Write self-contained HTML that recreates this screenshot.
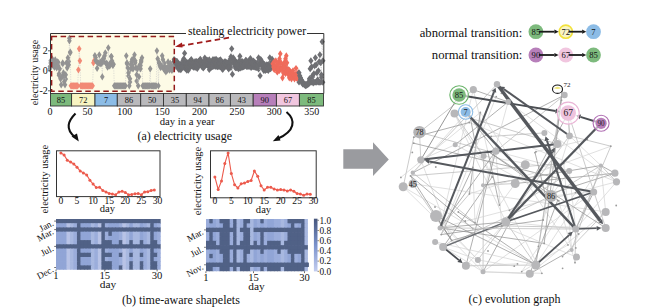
<!DOCTYPE html>
<html><head><meta charset="utf-8"><style>
html,body{margin:0;padding:0;background:#fff;}
svg{display:block;}
text{font-family:"Liberation Serif",serif;}
</style></head><body>
<svg width="646" height="308" viewBox="0 0 646 308">
<rect width="646" height="308" fill="#fff"/>
<rect x="50.8" y="34" width="123.5" height="58.5" fill="#fdfbe6"/>
<path d="M174.1,55.9L176.6,59.2L174.1,62.5L171.6,59.2Z" fill="#6e6f73"/>
<path d="M174.1,61.8L176.6,65.1L174.1,68.4L171.6,65.1Z" fill="#6e6f73"/>
<path d="M174.9,58.2L177.4,61.5L174.9,64.8L172.4,61.5Z" fill="#6e6f73"/>
<path d="M174.9,61.1L177.4,64.4L174.9,67.7L172.4,64.4Z" fill="#6e6f73"/>
<path d="M175.6,57.5L178.1,60.8L175.6,64.1L173.1,60.8Z" fill="#6e6f73"/>
<path d="M175.6,62.5L178.1,65.8L175.6,69.1L173.1,65.8Z" fill="#6e6f73"/>
<path d="M176.4,58.0L178.9,61.3L176.4,64.6L173.9,61.3Z" fill="#6e6f73"/>
<path d="M176.4,63.0L178.9,66.3L176.4,69.6L173.9,66.3Z" fill="#6e6f73"/>
<path d="M177.1,57.9L179.6,61.2L177.1,64.5L174.6,61.2Z" fill="#6e6f73"/>
<path d="M177.1,63.0L179.6,66.3L177.1,69.6L174.6,66.3Z" fill="#6e6f73"/>
<path d="M177.9,60.8L180.4,64.1L177.9,67.4L175.4,64.1Z" fill="#6e6f73"/>
<path d="M177.9,63.6L180.4,66.9L177.9,70.2L175.4,66.9Z" fill="#6e6f73"/>
<path d="M178.6,60.4L181.1,63.7L178.6,67.0L176.1,63.7Z" fill="#6e6f73"/>
<path d="M178.6,66.2L181.1,69.5L178.6,72.8L176.1,69.5Z" fill="#6e6f73"/>
<path d="M179.4,61.7L181.9,65.0L179.4,68.3L176.9,65.0Z" fill="#6e6f73"/>
<path d="M179.4,66.2L181.9,69.5L179.4,72.8L176.9,69.5Z" fill="#6e6f73"/>
<path d="M180.1,60.6L182.6,63.9L180.1,67.2L177.6,63.9Z" fill="#6e6f73"/>
<path d="M180.1,64.7L182.6,68.0L180.1,71.3L177.6,68.0Z" fill="#6e6f73"/>
<path d="M180.8,62.8L183.3,66.1L180.8,69.4L178.3,66.1Z" fill="#6e6f73"/>
<path d="M180.8,66.7L183.3,70.0L180.8,73.3L178.3,70.0Z" fill="#6e6f73"/>
<path d="M181.6,61.4L184.1,64.7L181.6,68.0L179.1,64.7Z" fill="#6e6f73"/>
<path d="M181.6,64.7L184.1,68.0L181.6,71.3L179.1,68.0Z" fill="#6e6f73"/>
<path d="M182.3,60.8L184.8,64.1L182.3,67.4L179.8,64.1Z" fill="#6e6f73"/>
<path d="M182.3,63.4L184.8,66.7L182.3,70.0L179.8,66.7Z" fill="#6e6f73"/>
<path d="M183.1,56.9L185.6,60.2L183.1,63.5L180.6,60.2Z" fill="#6e6f73"/>
<path d="M183.1,62.3L185.6,65.6L183.1,68.9L180.6,65.6Z" fill="#6e6f73"/>
<path d="M183.8,58.6L186.3,61.9L183.8,65.2L181.3,61.9Z" fill="#6e6f73"/>
<path d="M183.8,64.1L186.3,67.4L183.8,70.7L181.3,67.4Z" fill="#6e6f73"/>
<path d="M184.6,57.6L187.1,60.9L184.6,64.2L182.1,60.9Z" fill="#6e6f73"/>
<path d="M184.6,62.2L187.1,65.5L184.6,68.8L182.1,65.5Z" fill="#6e6f73"/>
<path d="M185.3,57.7L187.8,61.0L185.3,64.3L182.8,61.0Z" fill="#6e6f73"/>
<path d="M185.3,65.5L187.8,68.8L185.3,72.1L182.8,68.8Z" fill="#6e6f73"/>
<path d="M186.1,58.8L188.6,62.1L186.1,65.4L183.6,62.1Z" fill="#6e6f73"/>
<path d="M186.1,64.8L188.6,68.1L186.1,71.4L183.6,68.1Z" fill="#6e6f73"/>
<path d="M186.8,61.8L189.3,65.1L186.8,68.4L184.3,65.1Z" fill="#6e6f73"/>
<path d="M186.8,67.1L189.3,70.4L186.8,73.7L184.3,70.4Z" fill="#6e6f73"/>
<path d="M187.6,59.2L190.1,62.5L187.6,65.8L185.1,62.5Z" fill="#6e6f73"/>
<path d="M187.6,63.7L190.1,67.0L187.6,70.3L185.1,67.0Z" fill="#6e6f73"/>
<path d="M188.3,61.7L190.8,65.0L188.3,68.3L185.8,65.0Z" fill="#6e6f73"/>
<path d="M188.3,67.2L190.8,70.5L188.3,73.8L185.8,70.5Z" fill="#6e6f73"/>
<path d="M189.1,58.8L191.6,62.1L189.1,65.4L186.6,62.1Z" fill="#6e6f73"/>
<path d="M189.1,64.1L191.6,67.4L189.1,70.7L186.6,67.4Z" fill="#6e6f73"/>
<path d="M189.8,58.0L192.3,61.3L189.8,64.6L187.3,61.3Z" fill="#6e6f73"/>
<path d="M189.8,64.5L192.3,67.8L189.8,71.1L187.3,67.8Z" fill="#6e6f73"/>
<path d="M190.6,57.4L193.1,60.7L190.6,64.0L188.1,60.7Z" fill="#6e6f73"/>
<path d="M190.6,62.8L193.1,66.1L190.6,69.4L188.1,66.1Z" fill="#6e6f73"/>
<path d="M191.3,55.9L193.8,59.2L191.3,62.5L188.8,59.2Z" fill="#6e6f73"/>
<path d="M191.3,62.8L193.8,66.1L191.3,69.4L188.8,66.1Z" fill="#6e6f73"/>
<path d="M192.1,59.6L194.6,62.9L192.1,66.2L189.6,62.9Z" fill="#6e6f73"/>
<path d="M192.1,62.9L194.6,66.2L192.1,69.5L189.6,66.2Z" fill="#6e6f73"/>
<path d="M192.8,58.8L195.3,62.1L192.8,65.4L190.3,62.1Z" fill="#6e6f73"/>
<path d="M192.8,63.1L195.3,66.4L192.8,69.7L190.3,66.4Z" fill="#6e6f73"/>
<path d="M193.6,59.3L196.1,62.6L193.6,65.9L191.1,62.6Z" fill="#6e6f73"/>
<path d="M193.6,64.2L196.1,67.5L193.6,70.8L191.1,67.5Z" fill="#6e6f73"/>
<path d="M194.3,60.4L196.8,63.7L194.3,67.0L191.8,63.7Z" fill="#6e6f73"/>
<path d="M194.3,62.9L196.8,66.2L194.3,69.5L191.8,66.2Z" fill="#6e6f73"/>
<path d="M195.1,58.0L197.6,61.3L195.1,64.6L192.6,61.3Z" fill="#6e6f73"/>
<path d="M195.1,64.3L197.6,67.6L195.1,70.9L192.6,67.6Z" fill="#6e6f73"/>
<path d="M195.8,59.6L198.3,62.9L195.8,66.2L193.3,62.9Z" fill="#6e6f73"/>
<path d="M195.8,63.1L198.3,66.4L195.8,69.7L193.3,66.4Z" fill="#6e6f73"/>
<path d="M196.5,58.1L199.0,61.4L196.5,64.7L194.0,61.4Z" fill="#6e6f73"/>
<path d="M196.5,63.8L199.0,67.1L196.5,70.4L194.0,67.1Z" fill="#6e6f73"/>
<path d="M197.3,59.2L199.8,62.5L197.3,65.8L194.8,62.5Z" fill="#6e6f73"/>
<path d="M197.3,65.4L199.8,68.7L197.3,72.0L194.8,68.7Z" fill="#6e6f73"/>
<path d="M198.0,58.2L200.5,61.5L198.0,64.8L195.5,61.5Z" fill="#6e6f73"/>
<path d="M198.0,63.3L200.5,66.6L198.0,69.9L195.5,66.6Z" fill="#6e6f73"/>
<path d="M198.8,57.8L201.3,61.1L198.8,64.4L196.3,61.1Z" fill="#6e6f73"/>
<path d="M198.8,62.6L201.3,65.9L198.8,69.2L196.3,65.9Z" fill="#6e6f73"/>
<path d="M199.5,57.6L202.0,60.9L199.5,64.2L197.0,60.9Z" fill="#6e6f73"/>
<path d="M199.5,60.7L202.0,64.0L199.5,67.3L197.0,64.0Z" fill="#6e6f73"/>
<path d="M200.3,55.8L202.8,59.1L200.3,62.4L197.8,59.1Z" fill="#6e6f73"/>
<path d="M200.3,60.7L202.8,64.0L200.3,67.3L197.8,64.0Z" fill="#6e6f73"/>
<path d="M201.0,57.2L203.5,60.5L201.0,63.8L198.5,60.5Z" fill="#6e6f73"/>
<path d="M201.0,61.1L203.5,64.4L201.0,67.7L198.5,64.4Z" fill="#6e6f73"/>
<path d="M201.8,58.6L204.3,61.9L201.8,65.2L199.3,61.9Z" fill="#6e6f73"/>
<path d="M201.8,63.1L204.3,66.4L201.8,69.7L199.3,66.4Z" fill="#6e6f73"/>
<path d="M202.5,59.7L205.0,63.0L202.5,66.3L200.0,63.0Z" fill="#6e6f73"/>
<path d="M202.5,64.0L205.0,67.3L202.5,70.6L200.0,67.3Z" fill="#6e6f73"/>
<path d="M203.3,59.1L205.8,62.4L203.3,65.7L200.8,62.4Z" fill="#6e6f73"/>
<path d="M203.3,65.0L205.8,68.3L203.3,71.6L200.8,68.3Z" fill="#6e6f73"/>
<path d="M204.0,58.8L206.5,62.1L204.0,65.4L201.5,62.1Z" fill="#6e6f73"/>
<path d="M204.0,63.6L206.5,66.9L204.0,70.2L201.5,66.9Z" fill="#6e6f73"/>
<path d="M204.8,54.4L207.3,57.7L204.8,61.0L202.3,57.7Z" fill="#6e6f73"/>
<path d="M204.8,61.8L207.3,65.1L204.8,68.4L202.3,65.1Z" fill="#6e6f73"/>
<path d="M205.5,57.1L208.0,60.4L205.5,63.7L203.0,60.4Z" fill="#6e6f73"/>
<path d="M205.5,61.8L208.0,65.1L205.5,68.4L203.0,65.1Z" fill="#6e6f73"/>
<path d="M206.3,56.8L208.8,60.1L206.3,63.4L203.8,60.1Z" fill="#6e6f73"/>
<path d="M206.3,61.6L208.8,64.9L206.3,68.2L203.8,64.9Z" fill="#6e6f73"/>
<path d="M207.0,57.3L209.5,60.6L207.0,63.9L204.5,60.6Z" fill="#6e6f73"/>
<path d="M207.0,61.4L209.5,64.7L207.0,68.0L204.5,64.7Z" fill="#6e6f73"/>
<path d="M207.8,56.7L210.3,60.0L207.8,63.3L205.3,60.0Z" fill="#6e6f73"/>
<path d="M207.8,61.5L210.3,64.8L207.8,68.1L205.3,64.8Z" fill="#6e6f73"/>
<path d="M208.5,58.6L211.0,61.9L208.5,65.2L206.0,61.9Z" fill="#6e6f73"/>
<path d="M208.5,63.4L211.0,66.7L208.5,70.0L206.0,66.7Z" fill="#6e6f73"/>
<path d="M209.3,59.1L211.8,62.4L209.3,65.7L206.8,62.4Z" fill="#6e6f73"/>
<path d="M209.3,66.4L211.8,69.7L209.3,73.0L206.8,69.7Z" fill="#6e6f73"/>
<path d="M210.0,59.5L212.5,62.8L210.0,66.1L207.5,62.8Z" fill="#6e6f73"/>
<path d="M210.0,63.3L212.5,66.6L210.0,69.9L207.5,66.6Z" fill="#6e6f73"/>
<path d="M210.8,60.1L213.3,63.4L210.8,66.7L208.3,63.4Z" fill="#6e6f73"/>
<path d="M210.8,64.7L213.3,68.0L210.8,71.3L208.3,68.0Z" fill="#6e6f73"/>
<path d="M211.5,60.4L214.0,63.7L211.5,67.0L209.0,63.7Z" fill="#6e6f73"/>
<path d="M211.5,63.3L214.0,66.6L211.5,69.9L209.0,66.6Z" fill="#6e6f73"/>
<path d="M212.3,58.3L214.8,61.6L212.3,64.9L209.8,61.6Z" fill="#6e6f73"/>
<path d="M212.3,63.5L214.8,66.8L212.3,70.1L209.8,66.8Z" fill="#6e6f73"/>
<path d="M213.0,56.0L215.5,59.3L213.0,62.6L210.5,59.3Z" fill="#6e6f73"/>
<path d="M213.0,62.5L215.5,65.8L213.0,69.1L210.5,65.8Z" fill="#6e6f73"/>
<path d="M213.7,57.7L216.2,61.0L213.7,64.3L211.2,61.0Z" fill="#6e6f73"/>
<path d="M213.7,63.1L216.2,66.4L213.7,69.7L211.2,66.4Z" fill="#6e6f73"/>
<path d="M214.5,56.3L217.0,59.6L214.5,62.9L212.0,59.6Z" fill="#6e6f73"/>
<path d="M214.5,59.9L217.0,63.2L214.5,66.5L212.0,63.2Z" fill="#6e6f73"/>
<path d="M215.2,57.1L217.7,60.4L215.2,63.7L212.7,60.4Z" fill="#6e6f73"/>
<path d="M215.2,63.3L217.7,66.6L215.2,69.9L212.7,66.6Z" fill="#6e6f73"/>
<path d="M216.0,55.8L218.5,59.1L216.0,62.4L213.5,59.1Z" fill="#6e6f73"/>
<path d="M216.0,62.1L218.5,65.4L216.0,68.7L213.5,65.4Z" fill="#6e6f73"/>
<path d="M216.7,56.4L219.2,59.7L216.7,63.0L214.2,59.7Z" fill="#6e6f73"/>
<path d="M216.7,63.2L219.2,66.5L216.7,69.8L214.2,66.5Z" fill="#6e6f73"/>
<path d="M217.5,58.8L220.0,62.1L217.5,65.4L215.0,62.1Z" fill="#6e6f73"/>
<path d="M217.5,63.7L220.0,67.0L217.5,70.3L215.0,67.0Z" fill="#6e6f73"/>
<path d="M218.2,60.3L220.7,63.6L218.2,66.9L215.7,63.6Z" fill="#6e6f73"/>
<path d="M218.2,63.5L220.7,66.8L218.2,70.1L215.7,66.8Z" fill="#6e6f73"/>
<path d="M219.0,57.0L221.5,60.3L219.0,63.6L216.5,60.3Z" fill="#6e6f73"/>
<path d="M219.0,61.6L221.5,64.9L219.0,68.2L216.5,64.9Z" fill="#6e6f73"/>
<path d="M219.7,57.1L222.2,60.4L219.7,63.7L217.2,60.4Z" fill="#6e6f73"/>
<path d="M219.7,63.5L222.2,66.8L219.7,70.1L217.2,66.8Z" fill="#6e6f73"/>
<path d="M220.5,59.2L223.0,62.5L220.5,65.8L218.0,62.5Z" fill="#6e6f73"/>
<path d="M220.5,63.2L223.0,66.5L220.5,69.8L218.0,66.5Z" fill="#6e6f73"/>
<path d="M221.2,57.9L223.7,61.2L221.2,64.5L218.7,61.2Z" fill="#6e6f73"/>
<path d="M221.2,63.9L223.7,67.2L221.2,70.5L218.7,67.2Z" fill="#6e6f73"/>
<path d="M222.0,58.7L224.5,62.0L222.0,65.3L219.5,62.0Z" fill="#6e6f73"/>
<path d="M222.0,65.5L224.5,68.8L222.0,72.1L219.5,68.8Z" fill="#6e6f73"/>
<path d="M222.7,61.7L225.2,65.0L222.7,68.3L220.2,65.0Z" fill="#6e6f73"/>
<path d="M222.7,66.3L225.2,69.6L222.7,72.9L220.2,69.6Z" fill="#6e6f73"/>
<path d="M223.5,60.0L226.0,63.3L223.5,66.6L221.0,63.3Z" fill="#6e6f73"/>
<path d="M223.5,64.9L226.0,68.2L223.5,71.5L221.0,68.2Z" fill="#6e6f73"/>
<path d="M224.2,58.6L226.7,61.9L224.2,65.2L221.7,61.9Z" fill="#6e6f73"/>
<path d="M224.2,63.7L226.7,67.0L224.2,70.3L221.7,67.0Z" fill="#6e6f73"/>
<path d="M225.0,58.2L227.5,61.5L225.0,64.8L222.5,61.5Z" fill="#6e6f73"/>
<path d="M225.0,61.2L227.5,64.5L225.0,67.8L222.5,64.5Z" fill="#6e6f73"/>
<path d="M225.7,58.6L228.2,61.9L225.7,65.2L223.2,61.9Z" fill="#6e6f73"/>
<path d="M225.7,63.3L228.2,66.6L225.7,69.9L223.2,66.6Z" fill="#6e6f73"/>
<path d="M226.5,59.2L229.0,62.5L226.5,65.8L224.0,62.5Z" fill="#6e6f73"/>
<path d="M226.5,62.3L229.0,65.6L226.5,68.9L224.0,65.6Z" fill="#6e6f73"/>
<path d="M227.2,60.5L229.7,63.8L227.2,67.1L224.7,63.8Z" fill="#6e6f73"/>
<path d="M227.2,63.1L229.7,66.4L227.2,69.7L224.7,66.4Z" fill="#6e6f73"/>
<path d="M228.0,59.7L230.5,63.0L228.0,66.3L225.5,63.0Z" fill="#6e6f73"/>
<path d="M228.0,64.5L230.5,67.8L228.0,71.1L225.5,67.8Z" fill="#6e6f73"/>
<path d="M228.7,59.1L231.2,62.4L228.7,65.7L226.2,62.4Z" fill="#6e6f73"/>
<path d="M228.7,65.8L231.2,69.1L228.7,72.4L226.2,69.1Z" fill="#6e6f73"/>
<path d="M229.4,59.8L231.9,63.1L229.4,66.4L226.9,63.1Z" fill="#6e6f73"/>
<path d="M229.4,63.6L231.9,66.9L229.4,70.2L226.9,66.9Z" fill="#6e6f73"/>
<path d="M230.2,55.6L232.7,58.9L230.2,62.2L227.7,58.9Z" fill="#6e6f73"/>
<path d="M230.2,61.0L232.7,64.3L230.2,67.6L227.7,64.3Z" fill="#6e6f73"/>
<path d="M230.9,57.4L233.4,60.7L230.9,64.0L228.4,60.7Z" fill="#6e6f73"/>
<path d="M230.9,64.5L233.4,67.8L230.9,71.1L228.4,67.8Z" fill="#6e6f73"/>
<path d="M231.7,57.5L234.2,60.8L231.7,64.1L229.2,60.8Z" fill="#6e6f73"/>
<path d="M231.7,61.4L234.2,64.7L231.7,68.0L229.2,64.7Z" fill="#6e6f73"/>
<path d="M232.4,56.4L234.9,59.7L232.4,63.0L229.9,59.7Z" fill="#6e6f73"/>
<path d="M232.4,62.1L234.9,65.4L232.4,68.7L229.9,65.4Z" fill="#6e6f73"/>
<path d="M233.2,54.2L235.7,57.5L233.2,60.8L230.7,57.5Z" fill="#6e6f73"/>
<path d="M233.2,60.9L235.7,64.2L233.2,67.5L230.7,64.2Z" fill="#6e6f73"/>
<path d="M233.9,57.3L236.4,60.6L233.9,63.9L231.4,60.6Z" fill="#6e6f73"/>
<path d="M233.9,60.3L236.4,63.6L233.9,66.9L231.4,63.6Z" fill="#6e6f73"/>
<path d="M234.7,56.7L237.2,60.0L234.7,63.3L232.2,60.0Z" fill="#6e6f73"/>
<path d="M234.7,60.5L237.2,63.8L234.7,67.1L232.2,63.8Z" fill="#6e6f73"/>
<path d="M235.4,57.8L237.9,61.1L235.4,64.4L232.9,61.1Z" fill="#6e6f73"/>
<path d="M235.4,64.6L237.9,67.9L235.4,71.2L232.9,67.9Z" fill="#6e6f73"/>
<path d="M236.2,59.7L238.7,63.0L236.2,66.3L233.7,63.0Z" fill="#6e6f73"/>
<path d="M236.2,64.6L238.7,67.9L236.2,71.2L233.7,67.9Z" fill="#6e6f73"/>
<path d="M236.9,60.7L239.4,64.0L236.9,67.3L234.4,64.0Z" fill="#6e6f73"/>
<path d="M236.9,64.3L239.4,67.6L236.9,70.9L234.4,67.6Z" fill="#6e6f73"/>
<path d="M237.7,59.8L240.2,63.1L237.7,66.4L235.2,63.1Z" fill="#6e6f73"/>
<path d="M237.7,63.0L240.2,66.3L237.7,69.6L235.2,66.3Z" fill="#6e6f73"/>
<path d="M238.4,59.7L240.9,63.0L238.4,66.3L235.9,63.0Z" fill="#6e6f73"/>
<path d="M238.4,65.7L240.9,69.0L238.4,72.3L235.9,69.0Z" fill="#6e6f73"/>
<path d="M239.2,58.8L241.7,62.1L239.2,65.4L236.7,62.1Z" fill="#6e6f73"/>
<path d="M239.2,65.0L241.7,68.3L239.2,71.6L236.7,68.3Z" fill="#6e6f73"/>
<path d="M239.9,60.3L242.4,63.6L239.9,66.9L237.4,63.6Z" fill="#6e6f73"/>
<path d="M239.9,64.1L242.4,67.4L239.9,70.7L237.4,67.4Z" fill="#6e6f73"/>
<path d="M240.7,59.2L243.2,62.5L240.7,65.8L238.2,62.5Z" fill="#6e6f73"/>
<path d="M240.7,64.9L243.2,68.2L240.7,71.5L238.2,68.2Z" fill="#6e6f73"/>
<path d="M241.4,58.3L243.9,61.6L241.4,64.9L238.9,61.6Z" fill="#6e6f73"/>
<path d="M241.4,63.4L243.9,66.7L241.4,70.0L238.9,66.7Z" fill="#6e6f73"/>
<path d="M242.2,57.9L244.7,61.2L242.2,64.5L239.7,61.2Z" fill="#6e6f73"/>
<path d="M242.2,64.1L244.7,67.4L242.2,70.7L239.7,67.4Z" fill="#6e6f73"/>
<path d="M242.9,60.1L245.4,63.4L242.9,66.7L240.4,63.4Z" fill="#6e6f73"/>
<path d="M242.9,63.5L245.4,66.8L242.9,70.1L240.4,66.8Z" fill="#6e6f73"/>
<path d="M243.7,59.1L246.2,62.4L243.7,65.7L241.2,62.4Z" fill="#6e6f73"/>
<path d="M243.7,63.6L246.2,66.9L243.7,70.2L241.2,66.9Z" fill="#6e6f73"/>
<path d="M244.4,59.6L246.9,62.9L244.4,66.2L241.9,62.9Z" fill="#6e6f73"/>
<path d="M244.4,62.8L246.9,66.1L244.4,69.4L241.9,66.1Z" fill="#6e6f73"/>
<path d="M245.1,58.2L247.6,61.5L245.1,64.8L242.6,61.5Z" fill="#6e6f73"/>
<path d="M245.1,62.7L247.6,66.0L245.1,69.3L242.6,66.0Z" fill="#6e6f73"/>
<path d="M245.9,57.1L248.4,60.4L245.9,63.7L243.4,60.4Z" fill="#6e6f73"/>
<path d="M245.9,61.7L248.4,65.0L245.9,68.3L243.4,65.0Z" fill="#6e6f73"/>
<path d="M246.6,57.9L249.1,61.2L246.6,64.5L244.1,61.2Z" fill="#6e6f73"/>
<path d="M246.6,63.4L249.1,66.7L246.6,70.0L244.1,66.7Z" fill="#6e6f73"/>
<path d="M247.4,58.3L249.9,61.6L247.4,64.9L244.9,61.6Z" fill="#6e6f73"/>
<path d="M247.4,61.6L249.9,64.9L247.4,68.2L244.9,64.9Z" fill="#6e6f73"/>
<path d="M248.1,58.5L250.6,61.8L248.1,65.1L245.6,61.8Z" fill="#6e6f73"/>
<path d="M248.1,63.4L250.6,66.7L248.1,70.0L245.6,66.7Z" fill="#6e6f73"/>
<path d="M248.9,57.6L251.4,60.9L248.9,64.2L246.4,60.9Z" fill="#6e6f73"/>
<path d="M248.9,62.1L251.4,65.4L248.9,68.7L246.4,65.4Z" fill="#6e6f73"/>
<path d="M249.6,57.8L252.1,61.1L249.6,64.4L247.1,61.1Z" fill="#6e6f73"/>
<path d="M249.6,62.9L252.1,66.2L249.6,69.5L247.1,66.2Z" fill="#6e6f73"/>
<path d="M250.4,55.0L252.9,58.3L250.4,61.6L247.9,58.3Z" fill="#6e6f73"/>
<path d="M250.4,61.7L252.9,65.0L250.4,68.3L247.9,65.0Z" fill="#6e6f73"/>
<path d="M251.1,58.3L253.6,61.6L251.1,64.9L248.6,61.6Z" fill="#6e6f73"/>
<path d="M251.1,64.5L253.6,67.8L251.1,71.1L248.6,67.8Z" fill="#6e6f73"/>
<path d="M251.9,58.6L254.4,61.9L251.9,65.2L249.4,61.9Z" fill="#6e6f73"/>
<path d="M251.9,62.0L254.4,65.3L251.9,68.6L249.4,65.3Z" fill="#6e6f73"/>
<path d="M252.6,57.9L255.1,61.2L252.6,64.5L250.1,61.2Z" fill="#6e6f73"/>
<path d="M252.6,63.4L255.1,66.7L252.6,70.0L250.1,66.7Z" fill="#6e6f73"/>
<path d="M253.4,57.6L255.9,60.9L253.4,64.2L250.9,60.9Z" fill="#6e6f73"/>
<path d="M253.4,63.4L255.9,66.7L253.4,70.0L250.9,66.7Z" fill="#6e6f73"/>
<path d="M254.1,58.5L256.6,61.8L254.1,65.1L251.6,61.8Z" fill="#6e6f73"/>
<path d="M254.1,63.8L256.6,67.1L254.1,70.4L251.6,67.1Z" fill="#6e6f73"/>
<path d="M254.9,59.3L257.4,62.6L254.9,65.9L252.4,62.6Z" fill="#6e6f73"/>
<path d="M254.9,62.8L257.4,66.1L254.9,69.4L252.4,66.1Z" fill="#6e6f73"/>
<path d="M255.6,59.5L258.1,62.8L255.6,66.1L253.1,62.8Z" fill="#6e6f73"/>
<path d="M255.6,64.1L258.1,67.4L255.6,70.7L253.1,67.4Z" fill="#6e6f73"/>
<path d="M256.4,61.1L258.9,64.4L256.4,67.7L253.9,64.4Z" fill="#6e6f73"/>
<path d="M256.4,64.0L258.9,67.3L256.4,70.6L253.9,67.3Z" fill="#6e6f73"/>
<path d="M257.1,61.3L259.6,64.6L257.1,67.9L254.6,64.6Z" fill="#6e6f73"/>
<path d="M257.1,63.8L259.6,67.1L257.1,70.4L254.6,67.1Z" fill="#6e6f73"/>
<path d="M257.9,58.4L260.4,61.7L257.9,65.0L255.4,61.7Z" fill="#6e6f73"/>
<path d="M257.9,62.6L260.4,65.9L257.9,69.2L255.4,65.9Z" fill="#6e6f73"/>
<path d="M258.6,60.7L261.1,64.0L258.6,67.3L256.1,64.0Z" fill="#6e6f73"/>
<path d="M258.6,66.0L261.1,69.3L258.6,72.6L256.1,69.3Z" fill="#6e6f73"/>
<path d="M259.4,58.3L261.9,61.6L259.4,64.9L256.9,61.6Z" fill="#6e6f73"/>
<path d="M259.4,64.5L261.9,67.8L259.4,71.1L256.9,67.8Z" fill="#6e6f73"/>
<path d="M260.1,56.0L262.6,59.3L260.1,62.6L257.6,59.3Z" fill="#6e6f73"/>
<path d="M260.1,62.4L262.6,65.7L260.1,69.0L257.6,65.7Z" fill="#6e6f73"/>
<path d="M260.9,56.2L263.4,59.5L260.9,62.8L258.4,59.5Z" fill="#6e6f73"/>
<path d="M260.9,61.7L263.4,65.0L260.9,68.3L258.4,65.0Z" fill="#6e6f73"/>
<path d="M261.6,58.8L264.1,62.1L261.6,65.4L259.1,62.1Z" fill="#6e6f73"/>
<path d="M261.6,61.8L264.1,65.1L261.6,68.4L259.1,65.1Z" fill="#6e6f73"/>
<path d="M262.3,58.6L264.8,61.9L262.3,65.2L259.8,61.9Z" fill="#6e6f73"/>
<path d="M262.3,64.8L264.8,68.1L262.3,71.4L259.8,68.1Z" fill="#6e6f73"/>
<path d="M263.1,60.7L265.6,64.0L263.1,67.3L260.6,64.0Z" fill="#6e6f73"/>
<path d="M263.1,63.6L265.6,66.9L263.1,70.2L260.6,66.9Z" fill="#6e6f73"/>
<path d="M263.8,61.3L266.3,64.6L263.8,67.9L261.3,64.6Z" fill="#6e6f73"/>
<path d="M263.8,67.4L266.3,70.7L263.8,74.0L261.3,70.7Z" fill="#6e6f73"/>
<path d="M264.6,60.9L267.1,64.2L264.6,67.5L262.1,64.2Z" fill="#6e6f73"/>
<path d="M264.6,65.4L267.1,68.7L264.6,72.0L262.1,68.7Z" fill="#6e6f73"/>
<path d="M265.3,62.9L267.8,66.2L265.3,69.5L262.8,66.2Z" fill="#6e6f73"/>
<path d="M265.3,67.5L267.8,70.8L265.3,74.1L262.8,70.8Z" fill="#6e6f73"/>
<path d="M266.1,63.3L268.6,66.6L266.1,69.9L263.6,66.6Z" fill="#6e6f73"/>
<path d="M266.1,66.1L268.6,69.4L266.1,72.7L263.6,69.4Z" fill="#6e6f73"/>
<path d="M266.8,61.2L269.3,64.5L266.8,67.8L264.3,64.5Z" fill="#6e6f73"/>
<path d="M266.8,66.5L269.3,69.8L266.8,73.1L264.3,69.8Z" fill="#6e6f73"/>
<path d="M267.6,61.7L270.1,65.0L267.6,68.3L265.1,65.0Z" fill="#6e6f73"/>
<path d="M267.6,66.5L270.1,69.8L267.6,73.1L265.1,69.8Z" fill="#6e6f73"/>
<path d="M268.3,63.2L270.8,66.5L268.3,69.8L265.8,66.5Z" fill="#6e6f73"/>
<path d="M268.3,67.5L270.8,70.8L268.3,74.1L265.8,70.8Z" fill="#6e6f73"/>
<path d="M269.1,61.4L271.6,64.7L269.1,68.0L266.6,64.7Z" fill="#6e6f73"/>
<path d="M269.1,65.0L271.6,68.3L269.1,71.6L266.6,68.3Z" fill="#6e6f73"/>
<path d="M269.8,59.7L272.3,63.0L269.8,66.3L267.3,63.0Z" fill="#6e6f73"/>
<path d="M269.8,65.0L272.3,68.3L269.8,71.6L267.3,68.3Z" fill="#6e6f73"/>
<path d="M270.6,60.6L273.1,63.9L270.6,67.2L268.1,63.9Z" fill="#6e6f73"/>
<path d="M270.6,65.6L273.1,68.9L270.6,72.2L268.1,68.9Z" fill="#6e6f73"/>
<path d="M271.3,59.1L273.8,62.4L271.3,65.7L268.8,62.4Z" fill="#6e6f73"/>
<path d="M271.3,63.3L273.8,66.6L271.3,69.9L268.8,66.6Z" fill="#6e6f73"/>
<path d="M272.1,55.8L274.6,59.1L272.1,62.4L269.6,59.1Z" fill="#6e6f73"/>
<path d="M272.1,62.3L274.6,65.6L272.1,68.9L269.6,65.6Z" fill="#6e6f73"/>
<path d="M50.0,63.2L52.4,66.6L50.0,70.0L47.6,66.6Z" fill="#949494"/>
<path d="M50.7,59.5L53.1,62.9L50.7,66.3L48.3,62.9Z" fill="#949494"/>
<path d="M51.5,60.6L53.9,64.0L51.5,67.4L49.1,64.0Z" fill="#949494"/>
<path d="M53.0,61.9L55.4,65.3L53.0,68.7L50.6,65.3Z" fill="#949494"/>
<path d="M53.7,58.9L56.1,62.3L53.7,65.7L51.3,62.3Z" fill="#949494"/>
<path d="M54.5,63.9L56.9,67.3L54.5,70.7L52.1,67.3Z" fill="#949494"/>
<path d="M58.2,58.9L60.6,62.3L58.2,65.7L55.8,62.3Z" fill="#949494"/>
<path d="M59.0,71.9L61.4,75.3L59.0,78.7L56.6,75.3Z" fill="#949494"/>
<path d="M62.7,60.5L65.1,63.9L62.7,67.3L60.3,63.9Z" fill="#949494"/>
<path d="M63.5,71.3L65.9,74.7L63.5,78.1L61.1,74.7Z" fill="#949494"/>
<path d="M64.2,73.6L66.6,77.0L64.2,80.4L61.8,77.0Z" fill="#949494"/>
<path d="M65.7,75.7L68.1,79.1L65.7,82.5L63.3,79.1Z" fill="#949494"/>
<path d="M68.7,58.0L71.1,61.4L68.7,64.8L66.3,61.4Z" fill="#949494"/>
<path d="M69.4,34.8L71.8,38.2L69.4,41.6L67.0,38.2Z" fill="#949494"/>
<path d="M70.2,48.5L72.6,51.9L70.2,55.3L67.8,51.9Z" fill="#949494"/>
<path d="M95.6,54.1L98.0,57.5L95.6,60.9L93.2,57.5Z" fill="#949494"/>
<path d="M100.1,58.6L102.5,62.0L100.1,65.4L97.7,62.0Z" fill="#949494"/>
<path d="M100.8,59.8L103.2,63.2L100.8,66.6L98.4,63.2Z" fill="#949494"/>
<path d="M101.6,59.0L104.0,62.4L101.6,65.8L99.2,62.4Z" fill="#949494"/>
<path d="M103.1,58.4L105.5,61.8L103.1,65.2L100.7,61.8Z" fill="#949494"/>
<path d="M106.1,60.1L108.5,63.5L106.1,66.9L103.7,63.5Z" fill="#949494"/>
<path d="M107.6,60.9L110.0,64.3L107.6,67.7L105.2,64.3Z" fill="#949494"/>
<path d="M109.8,61.8L112.2,65.2L109.8,68.6L107.4,65.2Z" fill="#949494"/>
<path d="M110.6,59.8L113.0,63.2L110.6,66.6L108.2,63.2Z" fill="#949494"/>
<path d="M111.3,52.9L113.7,56.3L111.3,59.7L108.9,56.3Z" fill="#949494"/>
<path d="M127.0,60.3L129.4,63.7L127.0,67.1L124.6,63.7Z" fill="#949494"/>
<path d="M128.5,72.5L130.9,75.9L128.5,79.3L126.1,75.9Z" fill="#949494"/>
<path d="M130.0,78.7L132.4,82.1L130.0,85.5L127.6,82.1Z" fill="#949494"/>
<path d="M130.8,61.0L133.2,64.4L130.8,67.8L128.4,64.4Z" fill="#949494"/>
<path d="M132.2,55.9L134.6,59.3L132.2,62.7L129.8,59.3Z" fill="#949494"/>
<path d="M133.0,65.7L135.4,69.1L133.0,72.5L130.6,69.1Z" fill="#949494"/>
<path d="M135.2,57.4L137.6,60.8L135.2,64.2L132.8,60.8Z" fill="#949494"/>
<path d="M136.7,77.7L139.1,81.1L136.7,84.5L134.3,81.1Z" fill="#949494"/>
<path d="M139.7,61.5L142.1,64.9L139.7,68.3L137.3,64.9Z" fill="#949494"/>
<path d="M140.5,62.0L142.9,65.4L140.5,68.8L138.1,65.4Z" fill="#949494"/>
<path d="M141.2,56.7L143.6,60.1L141.2,63.5L138.8,60.1Z" fill="#949494"/>
<path d="M159.2,59.2L161.6,62.6L159.2,66.0L156.8,62.6Z" fill="#949494"/>
<path d="M161.4,62.7L163.8,66.1L161.4,69.5L159.0,66.1Z" fill="#949494"/>
<path d="M163.7,63.8L166.1,67.2L163.7,70.6L161.3,67.2Z" fill="#949494"/>
<path d="M164.4,59.8L166.8,63.2L164.4,66.6L162.0,63.2Z" fill="#949494"/>
<path d="M165.1,67.4L167.5,70.8L165.1,74.2L162.7,70.8Z" fill="#949494"/>
<path d="M167.4,66.9L169.8,70.3L167.4,73.7L165.0,70.3Z" fill="#949494"/>
<path d="M170.4,62.6L172.8,66.0L170.4,69.4L168.0,66.0Z" fill="#949494"/>
<path d="M173.4,65.7L175.8,69.1L173.4,72.5L171.0,69.1Z" fill="#949494"/>
<path d="M272.8,62.5L275.3,65.8L272.8,69.1L270.3,65.8Z" fill="#ef6b5b"/>
<path d="M273.6,63.7L276.1,67.0L273.6,70.3L271.1,67.0Z" fill="#ef6b5b"/>
<path d="M274.3,66.5L276.8,69.8L274.3,73.1L271.8,69.8Z" fill="#ef6b5b"/>
<path d="M275.1,63.5L277.6,66.8L275.1,70.1L272.6,66.8Z" fill="#ef6b5b"/>
<path d="M275.8,64.9L278.3,68.2L275.8,71.5L273.3,68.2Z" fill="#ef6b5b"/>
<path d="M276.6,65.5L279.1,68.8L276.6,72.1L274.1,68.8Z" fill="#ef6b5b"/>
<path d="M277.3,68.9L279.8,72.2L277.3,75.5L274.8,72.2Z" fill="#ef6b5b"/>
<path d="M278.0,66.2L280.5,69.5L278.0,72.8L275.5,69.5Z" fill="#ef6b5b"/>
<path d="M278.8,65.7L281.3,69.0L278.8,72.3L276.3,69.0Z" fill="#ef6b5b"/>
<path d="M279.5,67.3L282.0,70.6L279.5,73.9L277.0,70.6Z" fill="#ef6b5b"/>
<path d="M280.3,63.7L282.8,67.0L280.3,70.3L277.8,67.0Z" fill="#ef6b5b"/>
<path d="M281.0,60.7L283.5,64.0L281.0,67.3L278.5,64.0Z" fill="#ef6b5b"/>
<path d="M281.8,65.4L284.3,68.7L281.8,72.0L279.3,68.7Z" fill="#ef6b5b"/>
<path d="M282.5,64.5L285.0,67.8L282.5,71.1L280.0,67.8Z" fill="#ef6b5b"/>
<path d="M283.3,61.4L285.8,64.7L283.3,68.0L280.8,64.7Z" fill="#ef6b5b"/>
<path d="M284.0,65.9L286.5,69.2L284.0,72.5L281.5,69.2Z" fill="#ef6b5b"/>
<path d="M284.8,62.9L287.3,66.2L284.8,69.5L282.3,66.2Z" fill="#ef6b5b"/>
<path d="M285.5,70.5L288.0,73.8L285.5,77.1L283.0,73.8Z" fill="#ef6b5b"/>
<path d="M286.3,68.6L288.8,71.9L286.3,75.2L283.8,71.9Z" fill="#ef6b5b"/>
<path d="M287.0,64.6L289.5,67.9L287.0,71.2L284.5,67.9Z" fill="#ef6b5b"/>
<path d="M287.8,66.8L290.3,70.1L287.8,73.4L285.3,70.1Z" fill="#ef6b5b"/>
<path d="M288.5,69.0L291.0,72.3L288.5,75.6L286.0,72.3Z" fill="#ef6b5b"/>
<path d="M289.3,66.7L291.8,70.0L289.3,73.3L286.8,70.0Z" fill="#ef6b5b"/>
<path d="M290.0,68.6L292.5,71.9L290.0,75.2L287.5,71.9Z" fill="#ef6b5b"/>
<path d="M290.8,68.5L293.3,71.8L290.8,75.1L288.3,71.8Z" fill="#ef6b5b"/>
<path d="M291.5,71.4L294.0,74.7L291.5,78.0L289.0,74.7Z" fill="#ef6b5b"/>
<path d="M292.3,70.0L294.8,73.3L292.3,76.6L289.8,73.3Z" fill="#ef6b5b"/>
<path d="M293.0,70.0L295.5,73.3L293.0,76.6L290.5,73.3Z" fill="#ef6b5b"/>
<path d="M293.8,72.8L296.3,76.1L293.8,79.4L291.3,76.1Z" fill="#ef6b5b"/>
<path d="M294.5,75.0L297.0,78.3L294.5,81.6L292.0,78.3Z" fill="#ef6b5b"/>
<path d="M295.2,72.2L297.7,75.5L295.2,78.8L292.7,75.5Z" fill="#ef6b5b"/>
<path d="M296.0,64.9L298.5,68.2L296.0,71.5L293.5,68.2Z" fill="#ef6b5b"/>
<path d="M296.7,75.0L299.2,78.3L296.7,81.6L294.2,78.3Z" fill="#ef6b5b"/>
<path d="M297.5,75.0L300.0,78.3L297.5,81.6L295.0,78.3Z" fill="#ef6b5b"/>
<path d="M298.2,73.9L300.7,77.2L298.2,80.5L295.7,77.2Z" fill="#ef6b5b"/>
<path d="M299.0,79.0L301.5,82.3L299.0,85.6L296.5,82.3Z" fill="#6e6f73"/>
<path d="M299.7,74.0L302.2,77.3L299.7,80.6L297.2,77.3Z" fill="#6e6f73"/>
<path d="M300.5,76.0L303.0,79.3L300.5,82.6L298.0,79.3Z" fill="#6e6f73"/>
<path d="M301.2,78.0L303.7,81.3L301.2,84.6L298.7,81.3Z" fill="#6e6f73"/>
<path d="M302.0,79.0L304.5,82.3L302.0,85.6L299.5,82.3Z" fill="#6e6f73"/>
<path d="M302.7,81.0L305.2,84.3L302.7,87.6L300.2,84.3Z" fill="#6e6f73"/>
<path d="M303.5,81.0L306.0,84.3L303.5,87.6L301.0,84.3Z" fill="#6e6f73"/>
<path d="M304.2,81.0L306.7,84.3L304.2,87.6L301.7,84.3Z" fill="#6e6f73"/>
<path d="M305.0,81.0L307.5,84.3L305.0,87.6L302.5,84.3Z" fill="#6e6f73"/>
<path d="M305.7,81.0L308.2,84.3L305.7,87.6L303.2,84.3Z" fill="#6e6f73"/>
<path d="M306.5,81.0L309.0,84.3L306.5,87.6L304.0,84.3Z" fill="#6e6f73"/>
<path d="M307.2,81.0L309.7,84.3L307.2,87.6L304.7,84.3Z" fill="#6e6f73"/>
<path d="M308.0,81.0L310.5,84.3L308.0,87.6L305.5,84.3Z" fill="#6e6f73"/>
<path d="M308.7,81.0L311.2,84.3L308.7,87.6L306.2,84.3Z" fill="#6e6f73"/>
<path d="M309.5,77.0L312.0,80.3L309.5,83.6L307.0,80.3Z" fill="#6e6f73"/>
<path d="M310.2,79.0L312.7,82.3L310.2,85.6L307.7,82.3Z" fill="#6e6f73"/>
<path d="M310.9,79.0L313.4,82.3L310.9,85.6L308.4,82.3Z" fill="#6e6f73"/>
<path d="M311.7,79.0L314.2,82.3L311.7,85.6L309.2,82.3Z" fill="#6e6f73"/>
<path d="M312.4,74.0L314.9,77.3L312.4,80.6L309.9,77.3Z" fill="#6e6f73"/>
<path d="M313.2,80.0L315.7,83.3L313.2,86.6L310.7,83.3Z" fill="#6e6f73"/>
<path d="M313.9,79.0L316.4,82.3L313.9,85.6L311.4,82.3Z" fill="#6e6f73"/>
<path d="M314.7,79.0L317.2,82.3L314.7,85.6L312.2,82.3Z" fill="#6e6f73"/>
<path d="M315.4,79.0L317.9,82.3L315.4,85.6L312.9,82.3Z" fill="#6e6f73"/>
<path d="M316.2,79.0L318.7,82.3L316.2,85.6L313.7,82.3Z" fill="#6e6f73"/>
<path d="M316.9,79.0L319.4,82.3L316.9,85.6L314.4,82.3Z" fill="#6e6f73"/>
<path d="M317.7,78.0L320.2,81.3L317.7,84.6L315.2,81.3Z" fill="#6e6f73"/>
<path d="M318.4,79.0L320.9,82.3L318.4,85.6L315.9,82.3Z" fill="#6e6f73"/>
<path d="M319.2,79.0L321.7,82.3L319.2,85.6L316.7,82.3Z" fill="#6e6f73"/>
<path d="M319.9,79.0L322.4,82.3L319.9,85.6L317.4,82.3Z" fill="#6e6f73"/>
<path d="M320.7,79.0L323.2,82.3L320.7,85.6L318.2,82.3Z" fill="#6e6f73"/>
<path d="M321.4,74.0L323.9,77.3L321.4,80.6L318.9,77.3Z" fill="#6e6f73"/>
<path d="M322.2,79.0L324.7,82.3L322.2,85.6L319.7,82.3Z" fill="#6e6f73"/>
<path d="M322.9,79.0L325.4,82.3L322.9,85.6L320.4,82.3Z" fill="#6e6f73"/>
<path d="M50.0,68.8 L50.7,60.8 L51.5,63.8 L52.2,58.8 L53.0,64.8 L53.7,61.8 L54.5,66.8 L55.2,59.8 L56.0,63.8 L56.7,67.8 L57.5,61.8 L58.2,65.8 L59.0,73.8 L59.7,68.8 L60.5,78.8 L61.2,84.8 L62.0,76.8 L62.7,62.8 L63.5,72.8 L64.2,81.8 L65.0,84.8 L65.7,74.8 L66.4,62.8 L67.2,67.8 L67.9,57.8 L68.7,64.8 L69.4,40.8 L70.2,52.8 L70.9,85.8 L71.7,85.8 L72.4,85.8 L73.2,85.8 L73.9,85.8 L74.7,85.8 L75.4,85.8 L76.2,85.8 L76.9,85.8 L77.7,85.8 L78.4,69.8 L79.2,48.8 L79.9,60.8 L80.7,85.8 L81.4,85.8 L82.2,85.8 L82.9,85.8 L83.6,85.8 L84.4,85.8 L85.1,85.8 L85.9,85.8 L86.6,85.8 L87.4,85.8 L88.1,85.8 L88.9,85.8 L89.6,85.8 L90.4,85.8 L91.1,85.8 L91.9,85.8 L92.6,85.8 L93.4,62.8 L94.1,60.8 L94.9,55.5 L95.6,60.3 L96.4,61.5 L97.1,68.3 L97.9,62.8 L98.6,63.0 L99.3,54.8 L100.1,64.0 L100.8,62.0 L101.6,63.5 L102.3,76.8 L103.1,58.7 L103.8,58.7 L104.6,55.8 L105.3,52.8 L106.1,63.2 L106.8,63.7 L107.6,67.2 L108.3,47.8 L109.1,65.7 L109.8,65.9 L110.6,62.5 L111.3,56.6 L112.1,61.0 L112.8,65.4 L113.6,64.3 L114.3,85.8 L115.0,85.8 L115.8,85.8 L116.5,85.8 L117.3,85.8 L118.0,85.8 L118.8,85.8 L119.5,85.8 L120.3,85.8 L121.0,85.8 L121.8,85.8 L122.5,85.8 L123.3,85.8 L124.0,85.8 L124.8,85.8 L125.5,85.8 L126.3,55.8 L127.0,62.8 L127.8,67.8 L128.5,72.8 L129.3,85.8 L130.0,78.8 L130.8,68.8 L131.5,61.8 L132.2,64.8 L133.0,67.8 L133.7,58.8 L134.5,54.8 L135.2,62.8 L136.0,67.8 L136.7,74.8 L137.5,68.8 L138.2,85.8 L139.0,76.8 L139.7,65.8 L140.5,68.8 L141.2,61.8 L142.0,57.8 L142.7,85.8 L143.5,85.8 L144.2,85.8 L145.0,85.8 L145.7,85.8 L146.5,85.8 L147.2,85.8 L147.9,85.8 L148.7,85.8 L149.4,85.8 L150.2,68.8 L150.9,85.8 L151.7,85.8 L152.4,85.8 L153.2,85.8 L153.9,85.8 L154.7,85.8 L155.4,85.8 L156.2,85.8 L156.9,50.8 L157.7,58.8 L158.4,85.8 L159.2,63.4 L159.9,65.8 L160.7,67.6 L161.4,66.0 L162.2,55.8 L162.9,59.4 L163.7,69.0 L164.4,67.2 L165.1,67.7 L165.9,71.8 L166.6,68.1 L167.4,68.4 L168.1,61.9 L168.9,65.7 L169.6,70.2 L170.4,63.4 L171.1,66.4 L171.9,70.5 L172.6,67.1 L173.4,67.1 L174.1,61.5 L174.9,61.1 L175.6,62.9 L176.4,62.9 L177.1,63.4 L177.9,67.2 L178.6,67.6 L179.4,65.0 L180.1,65.7 L180.8,66.6 L181.6,67.1 L182.3,66.6 L183.1,62.4 L183.8,58.8 L184.6,53.3 L185.3,63.4 L186.1,64.9 L186.8,66.5 L187.6,64.1 L188.3,66.1 L189.1,66.2 L189.8,64.2 L190.6,64.6 L191.3,63.1 L192.1,64.2 L192.8,64.0 L193.6,65.4 L194.3,64.2 L195.1,65.1 L195.8,64.1 L196.5,65.3 L197.3,65.5 L198.0,63.0 L198.8,64.2 L199.5,60.8 L200.3,62.3 L201.0,62.8 L201.8,64.0 L202.5,63.8 L203.3,67.0 L204.0,62.3 L204.8,63.3 L205.5,61.2 L206.3,63.3 L207.0,63.1 L207.8,63.1 L208.5,64.5 L209.3,59.8 L210.0,64.4 L210.8,65.7 L211.5,66.7 L212.3,66.2 L213.0,63.0 L213.7,61.2 L214.5,61.0 L215.2,62.6 L216.0,63.2 L216.7,63.0 L217.5,64.8 L218.2,64.8 L219.0,63.4 L219.7,63.5 L220.5,59.8 L221.2,66.5 L222.0,65.8 L222.7,68.2 L223.5,66.1 L224.2,65.0 L225.0,62.4 L225.7,64.5 L226.5,64.7 L227.2,62.7 L228.0,67.2 L228.7,67.6 L229.4,66.3 L230.2,62.8 L230.9,56.8 L231.7,48.8 L232.4,74.3 L233.2,59.8 L233.9,62.5 L234.7,63.7 L235.4,63.4 L236.2,65.1 L236.9,65.7 L237.7,64.1 L238.4,65.8 L239.2,60.8 L239.9,56.3 L240.7,65.3 L241.4,64.5 L242.2,64.8 L242.9,65.9 L243.7,65.7 L244.4,64.2 L245.1,63.2 L245.9,60.3 L246.6,64.6 L247.4,66.2 L248.1,63.4 L248.9,65.7 L249.6,66.2 L250.4,62.4 L251.1,63.2 L251.9,63.1 L252.6,64.5 L253.4,63.8 L254.1,65.3 L254.9,65.9 L255.6,66.4 L256.4,67.6 L257.1,65.9 L257.9,65.5 L258.6,57.8 L259.4,63.9 L260.1,75.8 L260.9,61.5 L261.6,63.8 L262.3,64.6 L263.1,64.3 L263.8,68.1 L264.6,67.8 L265.3,68.2 L266.1,69.5 L266.8,67.1 L267.6,68.4 L268.3,68.4 L269.1,66.1 L269.8,57.8 L270.6,64.4 L271.3,64.3 L272.1,62.0 L272.8,63.8 L273.6,66.8 L274.3,61.8 L275.1,67.8 L275.8,60.8 L276.6,65.8 L277.3,64.8 L278.0,68.8 L278.8,61.8 L279.5,58.8 L280.3,53.8 L281.0,62.8 L281.8,68.8 L282.5,77.8 L283.3,72.8 L284.0,66.8 L284.8,61.8 L285.5,58.8 L286.3,55.8 L287.0,62.8 L287.8,69.8 L288.5,74.8 L289.3,77.8 L290.0,73.8 L290.8,76.8 L291.5,78.8 L292.3,72.8 L293.0,70.8 L293.8,75.8 L294.5,78.8 L295.2,76.8 L296.0,73.8 L296.7,77.8 L297.5,75.8 L298.2,72.8 L299.0,72.8 L299.7,75.8 L300.5,77.8 L301.2,79.8 L302.0,80.8 L302.7,82.8 L303.5,83.8 L304.2,84.3 L305.0,85.3 L305.7,85.8 L306.5,85.3 L307.2,84.8 L308.0,83.8 L308.7,82.8 L309.5,78.8 L310.2,68.8 L310.9,60.8 L311.7,66.8 L312.4,75.8 L313.2,81.8 L313.9,73.8 L314.7,65.8 L315.4,57.8 L316.2,64.8 L316.9,72.8 L317.7,79.8 L318.4,70.8 L319.2,61.8 L319.9,54.8 L320.7,62.8 L321.4,74.8 L322.2,41.8 L322.9,60.8" fill="none" stroke="#c8c8c8" stroke-width="0.6" stroke-dasharray="1.2 1.2"/>
<path d="M50.0,65.2L52.3,68.8L50.0,72.4L47.7,68.8Z" fill="#939393"/>
<path d="M50.7,57.2L53.0,60.8L50.7,64.4L48.4,60.8Z" fill="#939393"/>
<path d="M51.5,60.2L53.8,63.8L51.5,67.4L49.2,63.8Z" fill="#939393"/>
<path d="M52.2,55.2L54.5,58.8L52.2,62.4L49.9,58.8Z" fill="#939393"/>
<path d="M53.0,61.2L55.3,64.8L53.0,68.4L50.7,64.8Z" fill="#939393"/>
<path d="M53.7,58.2L56.0,61.8L53.7,65.4L51.4,61.8Z" fill="#939393"/>
<path d="M54.5,63.2L56.8,66.8L54.5,70.4L52.2,66.8Z" fill="#939393"/>
<path d="M55.2,56.2L57.5,59.8L55.2,63.4L52.9,59.8Z" fill="#939393"/>
<path d="M56.0,60.2L58.3,63.8L56.0,67.4L53.7,63.8Z" fill="#939393"/>
<path d="M56.7,64.2L59.0,67.8L56.7,71.4L54.4,67.8Z" fill="#939393"/>
<path d="M57.5,58.2L59.8,61.8L57.5,65.4L55.2,61.8Z" fill="#939393"/>
<path d="M58.2,62.2L60.5,65.8L58.2,69.4L55.9,65.8Z" fill="#939393"/>
<path d="M59.0,70.2L61.3,73.8L59.0,77.4L56.7,73.8Z" fill="#939393"/>
<path d="M59.7,65.2L62.0,68.8L59.7,72.4L57.4,68.8Z" fill="#939393"/>
<path d="M60.5,75.2L62.8,78.8L60.5,82.4L58.2,78.8Z" fill="#939393"/>
<path d="M61.2,81.2L63.5,84.8L61.2,88.4L58.9,84.8Z" fill="#939393"/>
<path d="M62.0,73.2L64.3,76.8L62.0,80.4L59.7,76.8Z" fill="#939393"/>
<path d="M62.7,59.2L65.0,62.8L62.7,66.4L60.4,62.8Z" fill="#939393"/>
<path d="M63.5,69.2L65.8,72.8L63.5,76.4L61.2,72.8Z" fill="#939393"/>
<path d="M64.2,78.2L66.5,81.8L64.2,85.4L61.9,81.8Z" fill="#939393"/>
<path d="M65.0,81.2L67.3,84.8L65.0,88.4L62.7,84.8Z" fill="#939393"/>
<path d="M65.7,71.2L68.0,74.8L65.7,78.4L63.4,74.8Z" fill="#939393"/>
<path d="M66.4,59.2L68.7,62.8L66.4,66.4L64.1,62.8Z" fill="#939393"/>
<path d="M67.2,64.2L69.5,67.8L67.2,71.4L64.9,67.8Z" fill="#939393"/>
<path d="M67.9,54.2L70.2,57.8L67.9,61.4L65.6,57.8Z" fill="#939393"/>
<path d="M68.7,61.2L71.0,64.8L68.7,68.4L66.4,64.8Z" fill="#939393"/>
<path d="M69.4,37.2L71.7,40.8L69.4,44.4L67.1,40.8Z" fill="#939393"/>
<path d="M70.2,49.2L72.5,52.8L70.2,56.4L67.9,52.8Z" fill="#939393"/>
<path d="M70.9,82.2L73.2,85.8L70.9,89.4L68.6,85.8Z" fill="#f28a76"/>
<path d="M71.7,82.2L74.0,85.8L71.7,89.4L69.4,85.8Z" fill="#f28a76"/>
<path d="M72.4,82.2L74.7,85.8L72.4,89.4L70.1,85.8Z" fill="#f28a76"/>
<path d="M73.2,82.2L75.5,85.8L73.2,89.4L70.9,85.8Z" fill="#f28a76"/>
<path d="M73.9,82.2L76.2,85.8L73.9,89.4L71.6,85.8Z" fill="#f28a76"/>
<path d="M74.7,82.2L77.0,85.8L74.7,89.4L72.4,85.8Z" fill="#f28a76"/>
<path d="M75.4,82.2L77.7,85.8L75.4,89.4L73.1,85.8Z" fill="#f28a76"/>
<path d="M76.2,82.2L78.5,85.8L76.2,89.4L73.9,85.8Z" fill="#f28a76"/>
<path d="M76.9,82.2L79.2,85.8L76.9,89.4L74.6,85.8Z" fill="#f28a76"/>
<path d="M77.7,82.2L80.0,85.8L77.7,89.4L75.4,85.8Z" fill="#f28a76"/>
<path d="M78.4,66.2L80.7,69.8L78.4,73.4L76.1,69.8Z" fill="#f28a76"/>
<path d="M79.2,45.2L81.5,48.8L79.2,52.4L76.9,48.8Z" fill="#f28a76"/>
<path d="M79.9,57.2L82.2,60.8L79.9,64.4L77.6,60.8Z" fill="#f28a76"/>
<path d="M80.7,82.2L83.0,85.8L80.7,89.4L78.4,85.8Z" fill="#f28a76"/>
<path d="M81.4,82.2L83.7,85.8L81.4,89.4L79.1,85.8Z" fill="#f28a76"/>
<path d="M82.2,82.2L84.5,85.8L82.2,89.4L79.9,85.8Z" fill="#f28a76"/>
<path d="M82.9,82.2L85.2,85.8L82.9,89.4L80.6,85.8Z" fill="#f28a76"/>
<path d="M83.6,82.2L85.9,85.8L83.6,89.4L81.3,85.8Z" fill="#f28a76"/>
<path d="M84.4,82.2L86.7,85.8L84.4,89.4L82.1,85.8Z" fill="#f28a76"/>
<path d="M85.1,82.2L87.4,85.8L85.1,89.4L82.8,85.8Z" fill="#f28a76"/>
<path d="M85.9,82.2L88.2,85.8L85.9,89.4L83.6,85.8Z" fill="#f28a76"/>
<path d="M86.6,82.2L88.9,85.8L86.6,89.4L84.3,85.8Z" fill="#f28a76"/>
<path d="M87.4,82.2L89.7,85.8L87.4,89.4L85.1,85.8Z" fill="#f28a76"/>
<path d="M88.1,82.2L90.4,85.8L88.1,89.4L85.8,85.8Z" fill="#f28a76"/>
<path d="M88.9,82.2L91.2,85.8L88.9,89.4L86.6,85.8Z" fill="#f28a76"/>
<path d="M89.6,82.2L91.9,85.8L89.6,89.4L87.3,85.8Z" fill="#f28a76"/>
<path d="M90.4,82.2L92.7,85.8L90.4,89.4L88.1,85.8Z" fill="#f28a76"/>
<path d="M91.1,82.2L93.4,85.8L91.1,89.4L88.8,85.8Z" fill="#f28a76"/>
<path d="M91.9,82.2L94.2,85.8L91.9,89.4L89.6,85.8Z" fill="#f28a76"/>
<path d="M92.6,82.2L94.9,85.8L92.6,89.4L90.3,85.8Z" fill="#f28a76"/>
<path d="M93.4,59.2L95.7,62.8L93.4,66.4L91.1,62.8Z" fill="#f28a76"/>
<path d="M94.1,57.2L96.4,60.8L94.1,64.4L91.8,60.8Z" fill="#f28a76"/>
<path d="M94.9,51.9L97.2,55.5L94.9,59.1L92.6,55.5Z" fill="#939393"/>
<path d="M95.6,56.7L97.9,60.3L95.6,63.9L93.3,60.3Z" fill="#939393"/>
<path d="M96.4,57.9L98.7,61.5L96.4,65.1L94.1,61.5Z" fill="#939393"/>
<path d="M97.1,64.7L99.4,68.3L97.1,71.9L94.8,68.3Z" fill="#939393"/>
<path d="M97.9,59.2L100.2,62.8L97.9,66.4L95.6,62.8Z" fill="#939393"/>
<path d="M98.6,59.4L100.9,63.0L98.6,66.6L96.3,63.0Z" fill="#939393"/>
<path d="M99.3,51.2L101.6,54.8L99.3,58.4L97.0,54.8Z" fill="#939393"/>
<path d="M100.1,60.4L102.4,64.0L100.1,67.6L97.8,64.0Z" fill="#939393"/>
<path d="M100.8,58.4L103.1,62.0L100.8,65.6L98.5,62.0Z" fill="#939393"/>
<path d="M101.6,59.9L103.9,63.5L101.6,67.1L99.3,63.5Z" fill="#939393"/>
<path d="M102.3,73.2L104.6,76.8L102.3,80.4L100.0,76.8Z" fill="#939393"/>
<path d="M103.1,55.1L105.4,58.7L103.1,62.3L100.8,58.7Z" fill="#939393"/>
<path d="M103.8,55.1L106.1,58.7L103.8,62.3L101.5,58.7Z" fill="#939393"/>
<path d="M104.6,52.2L106.9,55.8L104.6,59.4L102.3,55.8Z" fill="#939393"/>
<path d="M105.3,49.2L107.6,52.8L105.3,56.4L103.0,52.8Z" fill="#939393"/>
<path d="M106.1,59.6L108.4,63.2L106.1,66.8L103.8,63.2Z" fill="#939393"/>
<path d="M106.8,60.1L109.1,63.7L106.8,67.3L104.5,63.7Z" fill="#939393"/>
<path d="M107.6,63.6L109.9,67.2L107.6,70.8L105.3,67.2Z" fill="#939393"/>
<path d="M108.3,44.2L110.6,47.8L108.3,51.4L106.0,47.8Z" fill="#939393"/>
<path d="M109.1,62.1L111.4,65.7L109.1,69.3L106.8,65.7Z" fill="#939393"/>
<path d="M109.8,62.3L112.1,65.9L109.8,69.5L107.5,65.9Z" fill="#939393"/>
<path d="M110.6,58.9L112.9,62.5L110.6,66.1L108.3,62.5Z" fill="#939393"/>
<path d="M111.3,53.0L113.6,56.6L111.3,60.2L109.0,56.6Z" fill="#939393"/>
<path d="M112.1,57.4L114.4,61.0L112.1,64.6L109.8,61.0Z" fill="#939393"/>
<path d="M112.8,61.8L115.1,65.4L112.8,69.0L110.5,65.4Z" fill="#939393"/>
<path d="M113.6,60.7L115.9,64.3L113.6,67.9L111.3,64.3Z" fill="#939393"/>
<path d="M114.3,82.2L116.6,85.8L114.3,89.4L112.0,85.8Z" fill="#939393"/>
<path d="M115.0,82.2L117.3,85.8L115.0,89.4L112.7,85.8Z" fill="#939393"/>
<path d="M115.8,82.2L118.1,85.8L115.8,89.4L113.5,85.8Z" fill="#939393"/>
<path d="M116.5,82.2L118.8,85.8L116.5,89.4L114.2,85.8Z" fill="#939393"/>
<path d="M117.3,82.2L119.6,85.8L117.3,89.4L115.0,85.8Z" fill="#939393"/>
<path d="M118.0,82.2L120.3,85.8L118.0,89.4L115.7,85.8Z" fill="#939393"/>
<path d="M118.8,82.2L121.1,85.8L118.8,89.4L116.5,85.8Z" fill="#939393"/>
<path d="M119.5,82.2L121.8,85.8L119.5,89.4L117.2,85.8Z" fill="#939393"/>
<path d="M120.3,82.2L122.6,85.8L120.3,89.4L118.0,85.8Z" fill="#939393"/>
<path d="M121.0,82.2L123.3,85.8L121.0,89.4L118.7,85.8Z" fill="#939393"/>
<path d="M121.8,82.2L124.1,85.8L121.8,89.4L119.5,85.8Z" fill="#939393"/>
<path d="M122.5,82.2L124.8,85.8L122.5,89.4L120.2,85.8Z" fill="#939393"/>
<path d="M123.3,82.2L125.6,85.8L123.3,89.4L121.0,85.8Z" fill="#939393"/>
<path d="M124.0,82.2L126.3,85.8L124.0,89.4L121.7,85.8Z" fill="#939393"/>
<path d="M124.8,82.2L127.1,85.8L124.8,89.4L122.5,85.8Z" fill="#939393"/>
<path d="M125.5,82.2L127.8,85.8L125.5,89.4L123.2,85.8Z" fill="#939393"/>
<path d="M126.3,52.2L128.6,55.8L126.3,59.4L124.0,55.8Z" fill="#939393"/>
<path d="M127.0,59.2L129.3,62.8L127.0,66.4L124.7,62.8Z" fill="#939393"/>
<path d="M127.8,64.2L130.1,67.8L127.8,71.4L125.5,67.8Z" fill="#939393"/>
<path d="M128.5,69.2L130.8,72.8L128.5,76.4L126.2,72.8Z" fill="#939393"/>
<path d="M129.3,82.2L131.6,85.8L129.3,89.4L127.0,85.8Z" fill="#939393"/>
<path d="M130.0,75.2L132.3,78.8L130.0,82.4L127.7,78.8Z" fill="#939393"/>
<path d="M130.8,65.2L133.1,68.8L130.8,72.4L128.5,68.8Z" fill="#939393"/>
<path d="M131.5,58.2L133.8,61.8L131.5,65.4L129.2,61.8Z" fill="#939393"/>
<path d="M132.2,61.2L134.5,64.8L132.2,68.4L129.9,64.8Z" fill="#939393"/>
<path d="M133.0,64.2L135.3,67.8L133.0,71.4L130.7,67.8Z" fill="#939393"/>
<path d="M133.7,55.2L136.0,58.8L133.7,62.4L131.4,58.8Z" fill="#939393"/>
<path d="M134.5,51.2L136.8,54.8L134.5,58.4L132.2,54.8Z" fill="#939393"/>
<path d="M135.2,59.2L137.5,62.8L135.2,66.4L132.9,62.8Z" fill="#939393"/>
<path d="M136.0,64.2L138.3,67.8L136.0,71.4L133.7,67.8Z" fill="#939393"/>
<path d="M136.7,71.2L139.0,74.8L136.7,78.4L134.4,74.8Z" fill="#939393"/>
<path d="M137.5,65.2L139.8,68.8L137.5,72.4L135.2,68.8Z" fill="#939393"/>
<path d="M138.2,82.2L140.5,85.8L138.2,89.4L135.9,85.8Z" fill="#939393"/>
<path d="M139.0,73.2L141.3,76.8L139.0,80.4L136.7,76.8Z" fill="#939393"/>
<path d="M139.7,62.2L142.0,65.8L139.7,69.4L137.4,65.8Z" fill="#939393"/>
<path d="M140.5,65.2L142.8,68.8L140.5,72.4L138.2,68.8Z" fill="#939393"/>
<path d="M141.2,58.2L143.5,61.8L141.2,65.4L138.9,61.8Z" fill="#939393"/>
<path d="M142.0,54.2L144.3,57.8L142.0,61.4L139.7,57.8Z" fill="#939393"/>
<path d="M142.7,82.2L145.0,85.8L142.7,89.4L140.4,85.8Z" fill="#939393"/>
<path d="M143.5,82.2L145.8,85.8L143.5,89.4L141.2,85.8Z" fill="#939393"/>
<path d="M144.2,82.2L146.5,85.8L144.2,89.4L141.9,85.8Z" fill="#939393"/>
<path d="M145.0,82.2L147.3,85.8L145.0,89.4L142.7,85.8Z" fill="#939393"/>
<path d="M145.7,82.2L148.0,85.8L145.7,89.4L143.4,85.8Z" fill="#939393"/>
<path d="M146.5,82.2L148.8,85.8L146.5,89.4L144.2,85.8Z" fill="#939393"/>
<path d="M147.2,82.2L149.5,85.8L147.2,89.4L144.9,85.8Z" fill="#939393"/>
<path d="M147.9,82.2L150.2,85.8L147.9,89.4L145.6,85.8Z" fill="#939393"/>
<path d="M148.7,82.2L151.0,85.8L148.7,89.4L146.4,85.8Z" fill="#939393"/>
<path d="M149.4,82.2L151.7,85.8L149.4,89.4L147.1,85.8Z" fill="#939393"/>
<path d="M150.2,65.2L152.5,68.8L150.2,72.4L147.9,68.8Z" fill="#939393"/>
<path d="M150.9,82.2L153.2,85.8L150.9,89.4L148.6,85.8Z" fill="#939393"/>
<path d="M151.7,82.2L154.0,85.8L151.7,89.4L149.4,85.8Z" fill="#939393"/>
<path d="M152.4,82.2L154.7,85.8L152.4,89.4L150.1,85.8Z" fill="#939393"/>
<path d="M153.2,82.2L155.5,85.8L153.2,89.4L150.9,85.8Z" fill="#939393"/>
<path d="M153.9,82.2L156.2,85.8L153.9,89.4L151.6,85.8Z" fill="#939393"/>
<path d="M154.7,82.2L157.0,85.8L154.7,89.4L152.4,85.8Z" fill="#939393"/>
<path d="M155.4,82.2L157.7,85.8L155.4,89.4L153.1,85.8Z" fill="#939393"/>
<path d="M156.2,82.2L158.5,85.8L156.2,89.4L153.9,85.8Z" fill="#939393"/>
<path d="M156.9,47.2L159.2,50.8L156.9,54.4L154.6,50.8Z" fill="#939393"/>
<path d="M157.7,55.2L160.0,58.8L157.7,62.4L155.4,58.8Z" fill="#939393"/>
<path d="M158.4,82.2L160.7,85.8L158.4,89.4L156.1,85.8Z" fill="#939393"/>
<path d="M159.2,59.8L161.5,63.4L159.2,67.0L156.9,63.4Z" fill="#939393"/>
<path d="M159.9,62.2L162.2,65.8L159.9,69.4L157.6,65.8Z" fill="#939393"/>
<path d="M160.7,64.0L163.0,67.6L160.7,71.2L158.4,67.6Z" fill="#939393"/>
<path d="M161.4,62.4L163.7,66.0L161.4,69.6L159.1,66.0Z" fill="#939393"/>
<path d="M162.2,52.2L164.5,55.8L162.2,59.4L159.9,55.8Z" fill="#939393"/>
<path d="M162.9,55.8L165.2,59.4L162.9,63.0L160.6,59.4Z" fill="#939393"/>
<path d="M163.7,65.4L166.0,69.0L163.7,72.6L161.4,69.0Z" fill="#939393"/>
<path d="M164.4,63.6L166.7,67.2L164.4,70.8L162.1,67.2Z" fill="#939393"/>
<path d="M165.1,64.1L167.4,67.7L165.1,71.3L162.8,67.7Z" fill="#939393"/>
<path d="M165.9,68.2L168.2,71.8L165.9,75.4L163.6,71.8Z" fill="#939393"/>
<path d="M166.6,64.5L168.9,68.1L166.6,71.7L164.3,68.1Z" fill="#939393"/>
<path d="M167.4,64.8L169.7,68.4L167.4,72.0L165.1,68.4Z" fill="#939393"/>
<path d="M168.1,58.3L170.4,61.9L168.1,65.5L165.8,61.9Z" fill="#939393"/>
<path d="M168.9,62.1L171.2,65.7L168.9,69.3L166.6,65.7Z" fill="#939393"/>
<path d="M169.6,66.6L171.9,70.2L169.6,73.8L167.3,70.2Z" fill="#939393"/>
<path d="M170.4,59.8L172.7,63.4L170.4,67.0L168.1,63.4Z" fill="#939393"/>
<path d="M171.1,62.8L173.4,66.4L171.1,70.0L168.8,66.4Z" fill="#939393"/>
<path d="M171.9,66.9L174.2,70.5L171.9,74.1L169.6,70.5Z" fill="#939393"/>
<path d="M172.6,63.5L174.9,67.1L172.6,70.7L170.3,67.1Z" fill="#939393"/>
<path d="M173.4,63.5L175.7,67.1L173.4,70.7L171.1,67.1Z" fill="#939393"/>
<path d="M174.1,58.0L176.7,61.5L174.1,65.0L171.5,61.5Z" fill="#6e6f73"/>
<path d="M174.9,57.6L177.5,61.1L174.9,64.6L172.3,61.1Z" fill="#6e6f73"/>
<path d="M175.6,59.4L178.2,62.9L175.6,66.4L173.0,62.9Z" fill="#6e6f73"/>
<path d="M176.4,59.4L179.0,62.9L176.4,66.4L173.8,62.9Z" fill="#6e6f73"/>
<path d="M177.1,59.9L179.7,63.4L177.1,66.9L174.5,63.4Z" fill="#6e6f73"/>
<path d="M177.9,63.7L180.5,67.2L177.9,70.7L175.3,67.2Z" fill="#6e6f73"/>
<path d="M178.6,64.1L181.2,67.6L178.6,71.1L176.0,67.6Z" fill="#6e6f73"/>
<path d="M179.4,61.5L182.0,65.0L179.4,68.5L176.8,65.0Z" fill="#6e6f73"/>
<path d="M180.1,62.2L182.7,65.7L180.1,69.2L177.5,65.7Z" fill="#6e6f73"/>
<path d="M180.8,63.1L183.4,66.6L180.8,70.1L178.2,66.6Z" fill="#6e6f73"/>
<path d="M181.6,63.6L184.2,67.1L181.6,70.6L179.0,67.1Z" fill="#6e6f73"/>
<path d="M182.3,63.1L184.9,66.6L182.3,70.1L179.7,66.6Z" fill="#6e6f73"/>
<path d="M183.1,58.9L185.7,62.4L183.1,65.9L180.5,62.4Z" fill="#6e6f73"/>
<path d="M183.8,55.3L186.4,58.8L183.8,62.3L181.2,58.8Z" fill="#6e6f73"/>
<path d="M184.6,49.8L187.2,53.3L184.6,56.8L182.0,53.3Z" fill="#6e6f73"/>
<path d="M185.3,59.9L187.9,63.4L185.3,66.9L182.7,63.4Z" fill="#6e6f73"/>
<path d="M186.1,61.4L188.7,64.9L186.1,68.4L183.5,64.9Z" fill="#6e6f73"/>
<path d="M186.8,63.0L189.4,66.5L186.8,70.0L184.2,66.5Z" fill="#6e6f73"/>
<path d="M187.6,60.6L190.2,64.1L187.6,67.6L185.0,64.1Z" fill="#6e6f73"/>
<path d="M188.3,62.6L190.9,66.1L188.3,69.6L185.7,66.1Z" fill="#6e6f73"/>
<path d="M189.1,62.7L191.7,66.2L189.1,69.7L186.5,66.2Z" fill="#6e6f73"/>
<path d="M189.8,60.7L192.4,64.2L189.8,67.7L187.2,64.2Z" fill="#6e6f73"/>
<path d="M190.6,61.1L193.2,64.6L190.6,68.1L188.0,64.6Z" fill="#6e6f73"/>
<path d="M191.3,59.6L193.9,63.1L191.3,66.6L188.7,63.1Z" fill="#6e6f73"/>
<path d="M192.1,60.7L194.7,64.2L192.1,67.7L189.5,64.2Z" fill="#6e6f73"/>
<path d="M192.8,60.5L195.4,64.0L192.8,67.5L190.2,64.0Z" fill="#6e6f73"/>
<path d="M193.6,61.9L196.2,65.4L193.6,68.9L191.0,65.4Z" fill="#6e6f73"/>
<path d="M194.3,60.7L196.9,64.2L194.3,67.7L191.7,64.2Z" fill="#6e6f73"/>
<path d="M195.1,61.6L197.7,65.1L195.1,68.6L192.5,65.1Z" fill="#6e6f73"/>
<path d="M195.8,60.6L198.4,64.1L195.8,67.6L193.2,64.1Z" fill="#6e6f73"/>
<path d="M196.5,61.8L199.1,65.3L196.5,68.8L193.9,65.3Z" fill="#6e6f73"/>
<path d="M197.3,62.0L199.9,65.5L197.3,69.0L194.7,65.5Z" fill="#6e6f73"/>
<path d="M198.0,59.5L200.6,63.0L198.0,66.5L195.4,63.0Z" fill="#6e6f73"/>
<path d="M198.8,60.7L201.4,64.2L198.8,67.7L196.2,64.2Z" fill="#6e6f73"/>
<path d="M199.5,57.3L202.1,60.8L199.5,64.3L196.9,60.8Z" fill="#6e6f73"/>
<path d="M200.3,58.8L202.9,62.3L200.3,65.8L197.7,62.3Z" fill="#6e6f73"/>
<path d="M201.0,59.3L203.6,62.8L201.0,66.3L198.4,62.8Z" fill="#6e6f73"/>
<path d="M201.8,60.5L204.4,64.0L201.8,67.5L199.2,64.0Z" fill="#6e6f73"/>
<path d="M202.5,60.3L205.1,63.8L202.5,67.3L199.9,63.8Z" fill="#6e6f73"/>
<path d="M203.3,63.5L205.9,67.0L203.3,70.5L200.7,67.0Z" fill="#6e6f73"/>
<path d="M204.0,58.8L206.6,62.3L204.0,65.8L201.4,62.3Z" fill="#6e6f73"/>
<path d="M204.8,59.8L207.4,63.3L204.8,66.8L202.2,63.3Z" fill="#6e6f73"/>
<path d="M205.5,57.7L208.1,61.2L205.5,64.7L202.9,61.2Z" fill="#6e6f73"/>
<path d="M206.3,59.8L208.9,63.3L206.3,66.8L203.7,63.3Z" fill="#6e6f73"/>
<path d="M207.0,59.6L209.6,63.1L207.0,66.6L204.4,63.1Z" fill="#6e6f73"/>
<path d="M207.8,59.6L210.4,63.1L207.8,66.6L205.2,63.1Z" fill="#6e6f73"/>
<path d="M208.5,61.0L211.1,64.5L208.5,68.0L205.9,64.5Z" fill="#6e6f73"/>
<path d="M209.3,56.3L211.9,59.8L209.3,63.3L206.7,59.8Z" fill="#6e6f73"/>
<path d="M210.0,60.9L212.6,64.4L210.0,67.9L207.4,64.4Z" fill="#6e6f73"/>
<path d="M210.8,62.2L213.4,65.7L210.8,69.2L208.2,65.7Z" fill="#6e6f73"/>
<path d="M211.5,63.2L214.1,66.7L211.5,70.2L208.9,66.7Z" fill="#6e6f73"/>
<path d="M212.3,62.7L214.9,66.2L212.3,69.7L209.7,66.2Z" fill="#6e6f73"/>
<path d="M213.0,59.5L215.6,63.0L213.0,66.5L210.4,63.0Z" fill="#6e6f73"/>
<path d="M213.7,57.7L216.3,61.2L213.7,64.7L211.1,61.2Z" fill="#6e6f73"/>
<path d="M214.5,57.5L217.1,61.0L214.5,64.5L211.9,61.0Z" fill="#6e6f73"/>
<path d="M215.2,59.1L217.8,62.6L215.2,66.1L212.6,62.6Z" fill="#6e6f73"/>
<path d="M216.0,59.7L218.6,63.2L216.0,66.7L213.4,63.2Z" fill="#6e6f73"/>
<path d="M216.7,59.5L219.3,63.0L216.7,66.5L214.1,63.0Z" fill="#6e6f73"/>
<path d="M217.5,61.3L220.1,64.8L217.5,68.3L214.9,64.8Z" fill="#6e6f73"/>
<path d="M218.2,61.3L220.8,64.8L218.2,68.3L215.6,64.8Z" fill="#6e6f73"/>
<path d="M219.0,59.9L221.6,63.4L219.0,66.9L216.4,63.4Z" fill="#6e6f73"/>
<path d="M219.7,60.0L222.3,63.5L219.7,67.0L217.1,63.5Z" fill="#6e6f73"/>
<path d="M220.5,56.3L223.1,59.8L220.5,63.3L217.9,59.8Z" fill="#6e6f73"/>
<path d="M221.2,63.0L223.8,66.5L221.2,70.0L218.6,66.5Z" fill="#6e6f73"/>
<path d="M222.0,62.3L224.6,65.8L222.0,69.3L219.4,65.8Z" fill="#6e6f73"/>
<path d="M222.7,64.7L225.3,68.2L222.7,71.7L220.1,68.2Z" fill="#6e6f73"/>
<path d="M223.5,62.6L226.1,66.1L223.5,69.6L220.9,66.1Z" fill="#6e6f73"/>
<path d="M224.2,61.5L226.8,65.0L224.2,68.5L221.6,65.0Z" fill="#6e6f73"/>
<path d="M225.0,58.9L227.6,62.4L225.0,65.9L222.4,62.4Z" fill="#6e6f73"/>
<path d="M225.7,61.0L228.3,64.5L225.7,68.0L223.1,64.5Z" fill="#6e6f73"/>
<path d="M226.5,61.2L229.1,64.7L226.5,68.2L223.9,64.7Z" fill="#6e6f73"/>
<path d="M227.2,59.2L229.8,62.7L227.2,66.2L224.6,62.7Z" fill="#6e6f73"/>
<path d="M228.0,63.7L230.6,67.2L228.0,70.7L225.4,67.2Z" fill="#6e6f73"/>
<path d="M228.7,64.1L231.3,67.6L228.7,71.1L226.1,67.6Z" fill="#6e6f73"/>
<path d="M229.4,62.8L232.0,66.3L229.4,69.8L226.8,66.3Z" fill="#6e6f73"/>
<path d="M230.2,59.3L232.8,62.8L230.2,66.3L227.6,62.8Z" fill="#6e6f73"/>
<path d="M230.9,53.3L233.5,56.8L230.9,60.3L228.3,56.8Z" fill="#6e6f73"/>
<path d="M231.7,45.3L234.3,48.8L231.7,52.3L229.1,48.8Z" fill="#6e6f73"/>
<path d="M232.4,70.8L235.0,74.3L232.4,77.8L229.8,74.3Z" fill="#6e6f73"/>
<path d="M233.2,56.3L235.8,59.8L233.2,63.3L230.6,59.8Z" fill="#6e6f73"/>
<path d="M233.9,59.0L236.5,62.5L233.9,66.0L231.3,62.5Z" fill="#6e6f73"/>
<path d="M234.7,60.2L237.3,63.7L234.7,67.2L232.1,63.7Z" fill="#6e6f73"/>
<path d="M235.4,59.9L238.0,63.4L235.4,66.9L232.8,63.4Z" fill="#6e6f73"/>
<path d="M236.2,61.6L238.8,65.1L236.2,68.6L233.6,65.1Z" fill="#6e6f73"/>
<path d="M236.9,62.2L239.5,65.7L236.9,69.2L234.3,65.7Z" fill="#6e6f73"/>
<path d="M237.7,60.6L240.3,64.1L237.7,67.6L235.1,64.1Z" fill="#6e6f73"/>
<path d="M238.4,62.3L241.0,65.8L238.4,69.3L235.8,65.8Z" fill="#6e6f73"/>
<path d="M239.2,57.3L241.8,60.8L239.2,64.3L236.6,60.8Z" fill="#6e6f73"/>
<path d="M239.9,52.8L242.5,56.3L239.9,59.8L237.3,56.3Z" fill="#6e6f73"/>
<path d="M240.7,61.8L243.3,65.3L240.7,68.8L238.1,65.3Z" fill="#6e6f73"/>
<path d="M241.4,61.0L244.0,64.5L241.4,68.0L238.8,64.5Z" fill="#6e6f73"/>
<path d="M242.2,61.3L244.8,64.8L242.2,68.3L239.6,64.8Z" fill="#6e6f73"/>
<path d="M242.9,62.4L245.5,65.9L242.9,69.4L240.3,65.9Z" fill="#6e6f73"/>
<path d="M243.7,62.2L246.3,65.7L243.7,69.2L241.1,65.7Z" fill="#6e6f73"/>
<path d="M244.4,60.7L247.0,64.2L244.4,67.7L241.8,64.2Z" fill="#6e6f73"/>
<path d="M245.1,59.7L247.7,63.2L245.1,66.7L242.5,63.2Z" fill="#6e6f73"/>
<path d="M245.9,56.8L248.5,60.3L245.9,63.8L243.3,60.3Z" fill="#6e6f73"/>
<path d="M246.6,61.1L249.2,64.6L246.6,68.1L244.0,64.6Z" fill="#6e6f73"/>
<path d="M247.4,62.7L250.0,66.2L247.4,69.7L244.8,66.2Z" fill="#6e6f73"/>
<path d="M248.1,59.9L250.7,63.4L248.1,66.9L245.5,63.4Z" fill="#6e6f73"/>
<path d="M248.9,62.2L251.5,65.7L248.9,69.2L246.3,65.7Z" fill="#6e6f73"/>
<path d="M249.6,62.7L252.2,66.2L249.6,69.7L247.0,66.2Z" fill="#6e6f73"/>
<path d="M250.4,58.9L253.0,62.4L250.4,65.9L247.8,62.4Z" fill="#6e6f73"/>
<path d="M251.1,59.7L253.7,63.2L251.1,66.7L248.5,63.2Z" fill="#6e6f73"/>
<path d="M251.9,59.6L254.5,63.1L251.9,66.6L249.3,63.1Z" fill="#6e6f73"/>
<path d="M252.6,61.0L255.2,64.5L252.6,68.0L250.0,64.5Z" fill="#6e6f73"/>
<path d="M253.4,60.3L256.0,63.8L253.4,67.3L250.8,63.8Z" fill="#6e6f73"/>
<path d="M254.1,61.8L256.7,65.3L254.1,68.8L251.5,65.3Z" fill="#6e6f73"/>
<path d="M254.9,62.4L257.5,65.9L254.9,69.4L252.3,65.9Z" fill="#6e6f73"/>
<path d="M255.6,62.9L258.2,66.4L255.6,69.9L253.0,66.4Z" fill="#6e6f73"/>
<path d="M256.4,64.1L259.0,67.6L256.4,71.1L253.8,67.6Z" fill="#6e6f73"/>
<path d="M257.1,62.4L259.7,65.9L257.1,69.4L254.5,65.9Z" fill="#6e6f73"/>
<path d="M257.9,62.0L260.5,65.5L257.9,69.0L255.3,65.5Z" fill="#6e6f73"/>
<path d="M258.6,54.3L261.2,57.8L258.6,61.3L256.0,57.8Z" fill="#6e6f73"/>
<path d="M259.4,60.4L262.0,63.9L259.4,67.4L256.8,63.9Z" fill="#6e6f73"/>
<path d="M260.1,72.3L262.7,75.8L260.1,79.3L257.5,75.8Z" fill="#6e6f73"/>
<path d="M260.9,58.0L263.5,61.5L260.9,65.0L258.3,61.5Z" fill="#6e6f73"/>
<path d="M261.6,60.3L264.2,63.8L261.6,67.3L259.0,63.8Z" fill="#6e6f73"/>
<path d="M262.3,61.1L264.9,64.6L262.3,68.1L259.7,64.6Z" fill="#6e6f73"/>
<path d="M263.1,60.8L265.7,64.3L263.1,67.8L260.5,64.3Z" fill="#6e6f73"/>
<path d="M263.8,64.6L266.4,68.1L263.8,71.6L261.2,68.1Z" fill="#6e6f73"/>
<path d="M264.6,64.3L267.2,67.8L264.6,71.3L262.0,67.8Z" fill="#6e6f73"/>
<path d="M265.3,64.7L267.9,68.2L265.3,71.7L262.7,68.2Z" fill="#6e6f73"/>
<path d="M266.1,66.0L268.7,69.5L266.1,73.0L263.5,69.5Z" fill="#6e6f73"/>
<path d="M266.8,63.6L269.4,67.1L266.8,70.6L264.2,67.1Z" fill="#6e6f73"/>
<path d="M267.6,64.9L270.2,68.4L267.6,71.9L265.0,68.4Z" fill="#6e6f73"/>
<path d="M268.3,64.9L270.9,68.4L268.3,71.9L265.7,68.4Z" fill="#6e6f73"/>
<path d="M269.1,62.6L271.7,66.1L269.1,69.6L266.5,66.1Z" fill="#6e6f73"/>
<path d="M269.8,54.3L272.4,57.8L269.8,61.3L267.2,57.8Z" fill="#6e6f73"/>
<path d="M270.6,60.9L273.2,64.4L270.6,67.9L268.0,64.4Z" fill="#6e6f73"/>
<path d="M271.3,60.8L273.9,64.3L271.3,67.8L268.7,64.3Z" fill="#6e6f73"/>
<path d="M272.1,58.5L274.7,62.0L272.1,65.5L269.5,62.0Z" fill="#6e6f73"/>
<path d="M272.8,60.2L275.1,63.8L272.8,67.4L270.5,63.8Z" fill="#ef6b5b"/>
<path d="M273.6,63.2L275.9,66.8L273.6,70.4L271.3,66.8Z" fill="#ef6b5b"/>
<path d="M274.3,58.2L276.6,61.8L274.3,65.4L272.0,61.8Z" fill="#ef6b5b"/>
<path d="M275.1,64.2L277.4,67.8L275.1,71.4L272.8,67.8Z" fill="#ef6b5b"/>
<path d="M275.8,57.2L278.1,60.8L275.8,64.4L273.5,60.8Z" fill="#ef6b5b"/>
<path d="M276.6,62.2L278.9,65.8L276.6,69.4L274.3,65.8Z" fill="#ef6b5b"/>
<path d="M277.3,61.2L279.6,64.8L277.3,68.4L275.0,64.8Z" fill="#ef6b5b"/>
<path d="M278.0,65.2L280.3,68.8L278.0,72.4L275.7,68.8Z" fill="#ef6b5b"/>
<path d="M278.8,58.2L281.1,61.8L278.8,65.4L276.5,61.8Z" fill="#ef6b5b"/>
<path d="M279.5,55.2L281.8,58.8L279.5,62.4L277.2,58.8Z" fill="#ef6b5b"/>
<path d="M280.3,50.2L282.6,53.8L280.3,57.4L278.0,53.8Z" fill="#ef6b5b"/>
<path d="M281.0,59.2L283.3,62.8L281.0,66.4L278.7,62.8Z" fill="#ef6b5b"/>
<path d="M281.8,65.2L284.1,68.8L281.8,72.4L279.5,68.8Z" fill="#ef6b5b"/>
<path d="M282.5,74.2L284.8,77.8L282.5,81.4L280.2,77.8Z" fill="#ef6b5b"/>
<path d="M283.3,69.2L285.6,72.8L283.3,76.4L281.0,72.8Z" fill="#ef6b5b"/>
<path d="M284.0,63.2L286.3,66.8L284.0,70.4L281.7,66.8Z" fill="#ef6b5b"/>
<path d="M284.8,58.2L287.1,61.8L284.8,65.4L282.5,61.8Z" fill="#ef6b5b"/>
<path d="M285.5,55.2L287.8,58.8L285.5,62.4L283.2,58.8Z" fill="#ef6b5b"/>
<path d="M286.3,52.2L288.6,55.8L286.3,59.4L284.0,55.8Z" fill="#ef6b5b"/>
<path d="M287.0,59.2L289.3,62.8L287.0,66.4L284.7,62.8Z" fill="#ef6b5b"/>
<path d="M287.8,66.2L290.1,69.8L287.8,73.4L285.5,69.8Z" fill="#ef6b5b"/>
<path d="M288.5,71.2L290.8,74.8L288.5,78.4L286.2,74.8Z" fill="#ef6b5b"/>
<path d="M289.3,74.2L291.6,77.8L289.3,81.4L287.0,77.8Z" fill="#ef6b5b"/>
<path d="M290.0,70.2L292.3,73.8L290.0,77.4L287.7,73.8Z" fill="#ef6b5b"/>
<path d="M290.8,73.2L293.1,76.8L290.8,80.4L288.5,76.8Z" fill="#ef6b5b"/>
<path d="M291.5,75.2L293.8,78.8L291.5,82.4L289.2,78.8Z" fill="#ef6b5b"/>
<path d="M292.3,69.2L294.6,72.8L292.3,76.4L290.0,72.8Z" fill="#ef6b5b"/>
<path d="M293.0,67.2L295.3,70.8L293.0,74.4L290.7,70.8Z" fill="#ef6b5b"/>
<path d="M293.8,72.2L296.1,75.8L293.8,79.4L291.5,75.8Z" fill="#ef6b5b"/>
<path d="M294.5,75.2L296.8,78.8L294.5,82.4L292.2,78.8Z" fill="#ef6b5b"/>
<path d="M295.2,73.2L297.5,76.8L295.2,80.4L292.9,76.8Z" fill="#ef6b5b"/>
<path d="M296.0,70.2L298.3,73.8L296.0,77.4L293.7,73.8Z" fill="#ef6b5b"/>
<path d="M296.7,74.2L299.0,77.8L296.7,81.4L294.4,77.8Z" fill="#ef6b5b"/>
<path d="M297.5,72.2L299.8,75.8L297.5,79.4L295.2,75.8Z" fill="#ef6b5b"/>
<path d="M298.2,69.2L300.5,72.8L298.2,76.4L295.9,72.8Z" fill="#ef6b5b"/>
<path d="M299.0,69.3L301.6,72.8L299.0,76.3L296.4,72.8Z" fill="#6e6f73"/>
<path d="M299.7,72.3L302.3,75.8L299.7,79.3L297.1,75.8Z" fill="#6e6f73"/>
<path d="M300.5,74.3L303.1,77.8L300.5,81.3L297.9,77.8Z" fill="#6e6f73"/>
<path d="M301.2,76.3L303.8,79.8L301.2,83.3L298.6,79.8Z" fill="#6e6f73"/>
<path d="M302.0,77.3L304.6,80.8L302.0,84.3L299.4,80.8Z" fill="#6e6f73"/>
<path d="M302.7,79.3L305.3,82.8L302.7,86.3L300.1,82.8Z" fill="#6e6f73"/>
<path d="M303.5,80.3L306.1,83.8L303.5,87.3L300.9,83.8Z" fill="#6e6f73"/>
<path d="M304.2,80.8L306.8,84.3L304.2,87.8L301.6,84.3Z" fill="#6e6f73"/>
<path d="M305.0,81.8L307.6,85.3L305.0,88.8L302.4,85.3Z" fill="#6e6f73"/>
<path d="M305.7,82.3L308.3,85.8L305.7,89.3L303.1,85.8Z" fill="#6e6f73"/>
<path d="M306.5,81.8L309.1,85.3L306.5,88.8L303.9,85.3Z" fill="#6e6f73"/>
<path d="M307.2,81.3L309.8,84.8L307.2,88.3L304.6,84.8Z" fill="#6e6f73"/>
<path d="M308.0,80.3L310.6,83.8L308.0,87.3L305.4,83.8Z" fill="#6e6f73"/>
<path d="M308.7,79.3L311.3,82.8L308.7,86.3L306.1,82.8Z" fill="#6e6f73"/>
<path d="M309.5,75.3L312.1,78.8L309.5,82.3L306.9,78.8Z" fill="#6e6f73"/>
<path d="M310.2,65.3L312.8,68.8L310.2,72.3L307.6,68.8Z" fill="#6e6f73"/>
<path d="M310.9,57.3L313.5,60.8L310.9,64.3L308.3,60.8Z" fill="#6e6f73"/>
<path d="M311.7,63.3L314.3,66.8L311.7,70.3L309.1,66.8Z" fill="#6e6f73"/>
<path d="M312.4,72.3L315.0,75.8L312.4,79.3L309.8,75.8Z" fill="#6e6f73"/>
<path d="M313.2,78.3L315.8,81.8L313.2,85.3L310.6,81.8Z" fill="#6e6f73"/>
<path d="M313.9,70.3L316.5,73.8L313.9,77.3L311.3,73.8Z" fill="#6e6f73"/>
<path d="M314.7,62.3L317.3,65.8L314.7,69.3L312.1,65.8Z" fill="#6e6f73"/>
<path d="M315.4,54.3L318.0,57.8L315.4,61.3L312.8,57.8Z" fill="#6e6f73"/>
<path d="M316.2,61.3L318.8,64.8L316.2,68.3L313.6,64.8Z" fill="#6e6f73"/>
<path d="M316.9,69.3L319.5,72.8L316.9,76.3L314.3,72.8Z" fill="#6e6f73"/>
<path d="M317.7,76.3L320.3,79.8L317.7,83.3L315.1,79.8Z" fill="#6e6f73"/>
<path d="M318.4,67.3L321.0,70.8L318.4,74.3L315.8,70.8Z" fill="#6e6f73"/>
<path d="M319.2,58.3L321.8,61.8L319.2,65.3L316.6,61.8Z" fill="#6e6f73"/>
<path d="M319.9,51.3L322.5,54.8L319.9,58.3L317.3,54.8Z" fill="#6e6f73"/>
<path d="M320.7,59.3L323.3,62.8L320.7,66.3L318.1,62.8Z" fill="#6e6f73"/>
<path d="M321.4,71.3L324.0,74.8L321.4,78.3L318.8,74.8Z" fill="#6e6f73"/>
<path d="M322.2,38.3L324.8,41.8L322.2,45.3L319.6,41.8Z" fill="#6e6f73"/>
<path d="M322.9,57.3L325.5,60.8L322.9,64.3L320.3,60.8Z" fill="#6e6f73"/>
<rect x="51.6" y="36.4" width="122.7" height="54.8" fill="none" stroke="#931b1b" stroke-width="1.5" stroke-dasharray="5.5 3.5"/>
<path d="M50.5,93.5V33.5H323.8V93.5" fill="none" stroke="#333" stroke-width="1"/>
<rect x="186" y="27" width="121" height="6.5" fill="#fff"/>
<rect x="186" y="33" width="121" height="1.2" fill="#fff"/>
<text x="188.00" y="34.60" font-size="11.7" text-anchor="start" fill="#111" >stealing electricity power</text>
<path d="M229,37.6 L180,46" fill="none" stroke="#a01c1c" stroke-width="1.8" stroke-dasharray="5.5 3.5"/>
<path d="M175,46.8 L182,42.6 L182.5,47.6 Z" fill="#a51c1c"/>
<line x1="48" y1="50.8" x2="50.5" y2="50.8" stroke="#333" stroke-width="0.8"/>
<text x="47.80" y="53.60" font-size="10" text-anchor="end" fill="#111" >2</text>
<line x1="48" y1="70.8" x2="50.5" y2="70.8" stroke="#333" stroke-width="0.8"/>
<text x="47.80" y="73.60" font-size="10" text-anchor="end" fill="#111" >0</text>
<line x1="48" y1="90.8" x2="50.5" y2="90.8" stroke="#333" stroke-width="0.8"/>
<text x="47.80" y="93.60" font-size="10" text-anchor="end" fill="#111" >-2</text>
<text transform="translate(37.8,72.5) rotate(-90)" font-size="10" text-anchor="middle" fill="#111">electricity usage</text>
<rect x="50.5" y="93.5" width="21.1" height="12.5" fill="#7dba7d" stroke="#333" stroke-width="0.9"/>
<text x="61.05" y="103.00" font-size="8.4" text-anchor="middle" fill="#111" >85</text>
<rect x="71.6" y="93.5" width="23.4" height="12.5" fill="#f8f4c2" stroke="#333" stroke-width="0.9"/>
<text x="83.30" y="103.00" font-size="8.4" text-anchor="middle" fill="#111" >72</text>
<rect x="95.0" y="93.5" width="22.3" height="12.5" fill="#8cbce6" stroke="#333" stroke-width="0.9"/>
<text x="106.15" y="103.00" font-size="8.4" text-anchor="middle" fill="#111" >7</text>
<rect x="117.3" y="93.5" width="23.4" height="12.5" fill="#b9b9bc" stroke="#333" stroke-width="0.9"/>
<text x="129.00" y="103.00" font-size="8.4" text-anchor="middle" fill="#111" >86</text>
<rect x="140.7" y="93.5" width="22.8" height="12.5" fill="#b9b9bc" stroke="#333" stroke-width="0.9"/>
<text x="152.10" y="103.00" font-size="8.4" text-anchor="middle" fill="#111" >50</text>
<rect x="163.5" y="93.5" width="22.8" height="12.5" fill="#b9b9bc" stroke="#333" stroke-width="0.9"/>
<text x="174.90" y="103.00" font-size="8.4" text-anchor="middle" fill="#111" >35</text>
<rect x="186.3" y="93.5" width="22.7" height="12.5" fill="#b9b9bc" stroke="#333" stroke-width="0.9"/>
<text x="197.65" y="103.00" font-size="8.4" text-anchor="middle" fill="#111" >94</text>
<rect x="209.0" y="93.5" width="21.4" height="12.5" fill="#b9b9bc" stroke="#333" stroke-width="0.9"/>
<text x="219.70" y="103.00" font-size="8.4" text-anchor="middle" fill="#111" >86</text>
<rect x="230.4" y="93.5" width="22.8" height="12.5" fill="#b9b9bc" stroke="#333" stroke-width="0.9"/>
<text x="241.80" y="103.00" font-size="8.4" text-anchor="middle" fill="#111" >43</text>
<rect x="253.2" y="93.5" width="23.2" height="12.5" fill="#b77fba" stroke="#333" stroke-width="0.9"/>
<text x="264.80" y="103.00" font-size="8.4" text-anchor="middle" fill="#111" >90</text>
<rect x="276.4" y="93.5" width="23.0" height="12.5" fill="#f1c6df" stroke="#333" stroke-width="0.9"/>
<text x="287.90" y="103.00" font-size="8.4" text-anchor="middle" fill="#111" >67</text>
<rect x="299.4" y="93.5" width="24.1" height="12.5" fill="#7dba7d" stroke="#333" stroke-width="0.9"/>
<text x="311.45" y="103.00" font-size="8.4" text-anchor="middle" fill="#111" >85</text>
<text x="50.00" y="114.60" font-size="10" text-anchor="middle" fill="#111" >0</text>
<text x="87.39" y="114.60" font-size="10" text-anchor="middle" fill="#111" >50</text>
<text x="124.77" y="114.60" font-size="10" text-anchor="middle" fill="#111" >100</text>
<text x="162.16" y="114.60" font-size="10" text-anchor="middle" fill="#111" >150</text>
<text x="199.54" y="114.60" font-size="10" text-anchor="middle" fill="#111" >200</text>
<text x="236.93" y="114.60" font-size="10" text-anchor="middle" fill="#111" >250</text>
<text x="274.31" y="114.60" font-size="10" text-anchor="middle" fill="#111" >300</text>
<text x="311.69" y="114.60" font-size="10" text-anchor="middle" fill="#111" >350</text>
<text x="159.70" y="124.80" font-size="10.7" text-anchor="start" fill="#111" >day in a year</text>
<text x="137.40" y="139.50" font-size="12" text-anchor="start" fill="#111" >(a) electricity usage</text>
<path d="M75.5,113.5 C68,121 65,129 75,137" fill="none" stroke="#111" stroke-width="2.1"/>
<path d="M78.8,141.5 L71.5,136.5 L77,133.5 Z" fill="#111"/>
<path d="M286.5,112 C296,120 295,131 278,138.5" fill="none" stroke="#111" stroke-width="2.1"/>
<path d="M272.8,141.3 L278.5,135 L280.5,140.5 Z" fill="#111"/>
<path d="M60.9,152.9 L64.1,155.0 L67.3,160.3 L70.6,162.0 L73.8,164.0 L77.0,167.2 L80.2,171.0 L83.4,172.9 L86.7,175.0 L89.9,180.3 L93.1,184.1 L96.3,187.5 L99.5,187.3 L102.8,190.4 L106.0,192.1 L109.2,193.4 L112.4,194.0 L115.6,194.7 L118.9,192.1 L122.1,191.3 L125.3,192.5 L128.5,194.7 L131.7,194.4 L135.0,193.8 L138.2,193.6 L141.4,194.7 L144.6,191.9 L147.8,191.7 L151.1,190.4 L154.3,190.0" fill="none" stroke="#ec5a4c" stroke-width="1.1"/>
<circle cx="60.9" cy="152.9" r="1.5" fill="#ec5a4c"/>
<circle cx="64.1" cy="155.0" r="1.5" fill="#ec5a4c"/>
<circle cx="67.3" cy="160.3" r="1.5" fill="#ec5a4c"/>
<circle cx="70.6" cy="162.0" r="1.5" fill="#ec5a4c"/>
<circle cx="73.8" cy="164.0" r="1.5" fill="#ec5a4c"/>
<circle cx="77.0" cy="167.2" r="1.5" fill="#ec5a4c"/>
<circle cx="80.2" cy="171.0" r="1.5" fill="#ec5a4c"/>
<circle cx="83.4" cy="172.9" r="1.5" fill="#ec5a4c"/>
<circle cx="86.7" cy="175.0" r="1.5" fill="#ec5a4c"/>
<circle cx="89.9" cy="180.3" r="1.5" fill="#ec5a4c"/>
<circle cx="93.1" cy="184.1" r="1.5" fill="#ec5a4c"/>
<circle cx="96.3" cy="187.5" r="1.5" fill="#ec5a4c"/>
<circle cx="99.5" cy="187.3" r="1.5" fill="#ec5a4c"/>
<circle cx="102.8" cy="190.4" r="1.5" fill="#ec5a4c"/>
<circle cx="106.0" cy="192.1" r="1.5" fill="#ec5a4c"/>
<circle cx="109.2" cy="193.4" r="1.5" fill="#ec5a4c"/>
<circle cx="112.4" cy="194.0" r="1.5" fill="#ec5a4c"/>
<circle cx="115.6" cy="194.7" r="1.5" fill="#ec5a4c"/>
<circle cx="118.9" cy="192.1" r="1.5" fill="#ec5a4c"/>
<circle cx="122.1" cy="191.3" r="1.5" fill="#ec5a4c"/>
<circle cx="125.3" cy="192.5" r="1.5" fill="#ec5a4c"/>
<circle cx="128.5" cy="194.7" r="1.5" fill="#ec5a4c"/>
<circle cx="131.7" cy="194.4" r="1.5" fill="#ec5a4c"/>
<circle cx="135.0" cy="193.8" r="1.5" fill="#ec5a4c"/>
<circle cx="138.2" cy="193.6" r="1.5" fill="#ec5a4c"/>
<circle cx="141.4" cy="194.7" r="1.5" fill="#ec5a4c"/>
<circle cx="144.6" cy="191.9" r="1.5" fill="#ec5a4c"/>
<circle cx="147.8" cy="191.7" r="1.5" fill="#ec5a4c"/>
<circle cx="151.1" cy="190.4" r="1.5" fill="#ec5a4c"/>
<circle cx="154.3" cy="190.0" r="1.5" fill="#ec5a4c"/>
<rect x="56.5" y="150.8" width="103.5" height="45.8" fill="none" stroke="#333" stroke-width="1"/>
<line x1="60.9" y1="196.6" x2="60.9" y2="198.4" stroke="#333" stroke-width="0.7"/>
<text x="60.90" y="203.60" font-size="9.6" text-anchor="middle" fill="#111" >0</text>
<line x1="77.0" y1="196.6" x2="77.0" y2="198.4" stroke="#333" stroke-width="0.7"/>
<text x="77.00" y="203.60" font-size="9.6" text-anchor="middle" fill="#111" >5</text>
<line x1="93.1" y1="196.6" x2="93.1" y2="198.4" stroke="#333" stroke-width="0.7"/>
<text x="93.10" y="203.60" font-size="9.6" text-anchor="middle" fill="#111" >10</text>
<line x1="109.2" y1="196.6" x2="109.2" y2="198.4" stroke="#333" stroke-width="0.7"/>
<text x="109.20" y="203.60" font-size="9.6" text-anchor="middle" fill="#111" >15</text>
<line x1="125.3" y1="196.6" x2="125.3" y2="198.4" stroke="#333" stroke-width="0.7"/>
<text x="125.30" y="203.60" font-size="9.6" text-anchor="middle" fill="#111" >20</text>
<line x1="141.4" y1="196.6" x2="141.4" y2="198.4" stroke="#333" stroke-width="0.7"/>
<text x="141.40" y="203.60" font-size="9.6" text-anchor="middle" fill="#111" >25</text>
<line x1="157.5" y1="196.6" x2="157.5" y2="198.4" stroke="#333" stroke-width="0.7"/>
<text x="157.50" y="203.60" font-size="9.6" text-anchor="middle" fill="#111" >30</text>
<text x="107.40" y="212.40" font-size="10.6" text-anchor="middle" fill="#111" >day</text>
<text transform="translate(48.0,179.2) rotate(-90)" font-size="10.5" text-anchor="middle" fill="#111">electricity usage</text>
<path d="M214.9,177.1 L218.2,189.4 L221.5,180.9 L224.8,163.6 L228.1,152.9 L231.3,173.5 L234.6,184.7 L237.9,187.9 L241.2,183.7 L244.5,183.0 L247.8,181.6 L251.1,180.5 L254.4,171.0 L257.7,176.3 L261.0,185.8 L264.2,190.0 L267.5,187.3 L270.8,187.3 L274.1,189.0 L277.4,190.0 L280.7,189.6 L284.0,190.0 L287.3,190.9 L290.6,190.0 L293.9,191.3 L297.1,193.6 L300.4,194.0 L303.7,195.3 L307.0,194.0 L310.3,194.2" fill="none" stroke="#ec5a4c" stroke-width="1.1"/>
<circle cx="214.9" cy="177.1" r="1.5" fill="#ec5a4c"/>
<circle cx="218.2" cy="189.4" r="1.5" fill="#ec5a4c"/>
<circle cx="221.5" cy="180.9" r="1.5" fill="#ec5a4c"/>
<circle cx="224.8" cy="163.6" r="1.5" fill="#ec5a4c"/>
<circle cx="228.1" cy="152.9" r="1.5" fill="#ec5a4c"/>
<circle cx="231.3" cy="173.5" r="1.5" fill="#ec5a4c"/>
<circle cx="234.6" cy="184.7" r="1.5" fill="#ec5a4c"/>
<circle cx="237.9" cy="187.9" r="1.5" fill="#ec5a4c"/>
<circle cx="241.2" cy="183.7" r="1.5" fill="#ec5a4c"/>
<circle cx="244.5" cy="183.0" r="1.5" fill="#ec5a4c"/>
<circle cx="247.8" cy="181.6" r="1.5" fill="#ec5a4c"/>
<circle cx="251.1" cy="180.5" r="1.5" fill="#ec5a4c"/>
<circle cx="254.4" cy="171.0" r="1.5" fill="#ec5a4c"/>
<circle cx="257.7" cy="176.3" r="1.5" fill="#ec5a4c"/>
<circle cx="261.0" cy="185.8" r="1.5" fill="#ec5a4c"/>
<circle cx="264.2" cy="190.0" r="1.5" fill="#ec5a4c"/>
<circle cx="267.5" cy="187.3" r="1.5" fill="#ec5a4c"/>
<circle cx="270.8" cy="187.3" r="1.5" fill="#ec5a4c"/>
<circle cx="274.1" cy="189.0" r="1.5" fill="#ec5a4c"/>
<circle cx="277.4" cy="190.0" r="1.5" fill="#ec5a4c"/>
<circle cx="280.7" cy="189.6" r="1.5" fill="#ec5a4c"/>
<circle cx="284.0" cy="190.0" r="1.5" fill="#ec5a4c"/>
<circle cx="287.3" cy="190.9" r="1.5" fill="#ec5a4c"/>
<circle cx="290.6" cy="190.0" r="1.5" fill="#ec5a4c"/>
<circle cx="293.9" cy="191.3" r="1.5" fill="#ec5a4c"/>
<circle cx="297.1" cy="193.6" r="1.5" fill="#ec5a4c"/>
<circle cx="300.4" cy="194.0" r="1.5" fill="#ec5a4c"/>
<circle cx="303.7" cy="195.3" r="1.5" fill="#ec5a4c"/>
<circle cx="307.0" cy="194.0" r="1.5" fill="#ec5a4c"/>
<circle cx="310.3" cy="194.2" r="1.5" fill="#ec5a4c"/>
<rect x="210.5" y="150.8" width="105.7" height="47.0" fill="none" stroke="#333" stroke-width="1"/>
<line x1="214.9" y1="197.8" x2="214.9" y2="199.60000000000002" stroke="#333" stroke-width="0.7"/>
<text x="214.90" y="204.30" font-size="9.6" text-anchor="middle" fill="#111" >0</text>
<line x1="231.3" y1="197.8" x2="231.3" y2="199.60000000000002" stroke="#333" stroke-width="0.7"/>
<text x="231.35" y="204.30" font-size="9.6" text-anchor="middle" fill="#111" >5</text>
<line x1="247.8" y1="197.8" x2="247.8" y2="199.60000000000002" stroke="#333" stroke-width="0.7"/>
<text x="247.80" y="204.30" font-size="9.6" text-anchor="middle" fill="#111" >10</text>
<line x1="264.2" y1="197.8" x2="264.2" y2="199.60000000000002" stroke="#333" stroke-width="0.7"/>
<text x="264.25" y="204.30" font-size="9.6" text-anchor="middle" fill="#111" >15</text>
<line x1="280.7" y1="197.8" x2="280.7" y2="199.60000000000002" stroke="#333" stroke-width="0.7"/>
<text x="280.70" y="204.30" font-size="9.6" text-anchor="middle" fill="#111" >20</text>
<line x1="297.1" y1="197.8" x2="297.1" y2="199.60000000000002" stroke="#333" stroke-width="0.7"/>
<text x="297.15" y="204.30" font-size="9.6" text-anchor="middle" fill="#111" >25</text>
<line x1="313.6" y1="197.8" x2="313.6" y2="199.60000000000002" stroke="#333" stroke-width="0.7"/>
<text x="313.60" y="204.30" font-size="9.6" text-anchor="middle" fill="#111" >30</text>
<text x="263.50" y="213.20" font-size="10.6" text-anchor="middle" fill="#111" >day</text>
<text transform="translate(201.2,181) rotate(-90)" font-size="10.5" text-anchor="middle" fill="#111">electricity usage</text>
<clipPath id="hm1"><rect x="56" y="219" width="104.70" height="50.64"/></clipPath><g clip-path="url(#hm1)">
<rect x="56.00" y="219.00" width="4.19" height="4.92" fill="#506186"/>
<rect x="59.49" y="219.00" width="4.19" height="4.92" fill="#506186"/>
<rect x="62.98" y="219.00" width="4.19" height="4.92" fill="#506186"/>
<rect x="66.47" y="219.00" width="4.19" height="4.92" fill="#506186"/>
<rect x="69.96" y="219.00" width="4.19" height="4.92" fill="#506186"/>
<rect x="73.45" y="219.00" width="4.19" height="4.92" fill="#506186"/>
<rect x="76.94" y="219.00" width="4.19" height="4.92" fill="#506186"/>
<rect x="80.43" y="219.00" width="4.19" height="4.92" fill="#506186"/>
<rect x="83.92" y="219.00" width="4.19" height="4.92" fill="#506186"/>
<rect x="87.41" y="219.00" width="4.19" height="4.92" fill="#506186"/>
<rect x="90.90" y="219.00" width="4.19" height="4.92" fill="#506186"/>
<rect x="94.39" y="219.00" width="4.19" height="4.92" fill="#506186"/>
<rect x="97.88" y="219.00" width="4.19" height="4.92" fill="#506186"/>
<rect x="101.37" y="219.00" width="4.19" height="4.92" fill="#506186"/>
<rect x="104.86" y="219.00" width="4.19" height="4.92" fill="#506186"/>
<rect x="108.35" y="219.00" width="4.19" height="4.92" fill="#506186"/>
<rect x="111.84" y="219.00" width="4.19" height="4.92" fill="#506186"/>
<rect x="115.33" y="219.00" width="4.19" height="4.92" fill="#506186"/>
<rect x="118.82" y="219.00" width="4.19" height="4.92" fill="#506186"/>
<rect x="122.31" y="219.00" width="4.19" height="4.92" fill="#506186"/>
<rect x="125.80" y="219.00" width="4.19" height="4.92" fill="#506186"/>
<rect x="129.29" y="219.00" width="4.19" height="4.92" fill="#506186"/>
<rect x="132.78" y="219.00" width="4.19" height="4.92" fill="#506186"/>
<rect x="136.27" y="219.00" width="4.19" height="4.92" fill="#506186"/>
<rect x="139.76" y="219.00" width="4.19" height="4.92" fill="#506186"/>
<rect x="143.25" y="219.00" width="4.19" height="4.92" fill="#506186"/>
<rect x="146.74" y="219.00" width="4.19" height="4.92" fill="#506186"/>
<rect x="150.23" y="219.00" width="4.19" height="4.92" fill="#506186"/>
<rect x="153.72" y="219.00" width="4.19" height="4.92" fill="#506186"/>
<rect x="157.21" y="219.00" width="4.19" height="4.92" fill="#506186"/>
<rect x="56.00" y="223.22" width="4.19" height="4.92" fill="#91a5d6"/>
<rect x="59.49" y="223.22" width="4.19" height="4.92" fill="#91a5d6"/>
<rect x="62.98" y="223.22" width="4.19" height="4.92" fill="#91a5d6"/>
<rect x="66.47" y="223.22" width="4.19" height="4.92" fill="#b8c3e6"/>
<rect x="69.96" y="223.22" width="4.19" height="4.92" fill="#a8b8e0"/>
<rect x="73.45" y="223.22" width="4.19" height="4.92" fill="#9baddb"/>
<rect x="76.94" y="223.22" width="4.19" height="4.92" fill="#506186"/>
<rect x="80.43" y="223.22" width="4.19" height="4.92" fill="#91a5d6"/>
<rect x="83.92" y="223.22" width="4.19" height="4.92" fill="#91a5d6"/>
<rect x="87.41" y="223.22" width="4.19" height="4.92" fill="#91a5d6"/>
<rect x="90.90" y="223.22" width="4.19" height="4.92" fill="#a8b8e0"/>
<rect x="94.39" y="223.22" width="4.19" height="4.92" fill="#9baddb"/>
<rect x="97.88" y="223.22" width="4.19" height="4.92" fill="#b8c3e6"/>
<rect x="101.37" y="223.22" width="4.19" height="4.92" fill="#506186"/>
<rect x="104.86" y="223.22" width="4.19" height="4.92" fill="#9baddb"/>
<rect x="108.35" y="223.22" width="4.19" height="4.92" fill="#91a5d6"/>
<rect x="111.84" y="223.22" width="4.19" height="4.92" fill="#91a5d6"/>
<rect x="115.33" y="223.22" width="4.19" height="4.92" fill="#91a5d6"/>
<rect x="118.82" y="223.22" width="4.19" height="4.92" fill="#9baddb"/>
<rect x="122.31" y="223.22" width="4.19" height="4.92" fill="#b8c3e6"/>
<rect x="125.80" y="223.22" width="4.19" height="4.92" fill="#a8b8e0"/>
<rect x="129.29" y="223.22" width="4.19" height="4.92" fill="#91a5d6"/>
<rect x="132.78" y="223.22" width="4.19" height="4.92" fill="#a8b8e0"/>
<rect x="136.27" y="223.22" width="4.19" height="4.92" fill="#a8b8e0"/>
<rect x="139.76" y="223.22" width="4.19" height="4.92" fill="#91a5d6"/>
<rect x="143.25" y="223.22" width="4.19" height="4.92" fill="#9baddb"/>
<rect x="146.74" y="223.22" width="4.19" height="4.92" fill="#a8b8e0"/>
<rect x="150.23" y="223.22" width="4.19" height="4.92" fill="#506186"/>
<rect x="153.72" y="223.22" width="4.19" height="4.92" fill="#91a5d6"/>
<rect x="157.21" y="223.22" width="4.19" height="4.92" fill="#9baddb"/>
<rect x="56.00" y="227.44" width="4.19" height="4.92" fill="#506186"/>
<rect x="59.49" y="227.44" width="4.19" height="4.92" fill="#506186"/>
<rect x="62.98" y="227.44" width="4.19" height="4.92" fill="#506186"/>
<rect x="66.47" y="227.44" width="4.19" height="4.92" fill="#506186"/>
<rect x="69.96" y="227.44" width="4.19" height="4.92" fill="#506186"/>
<rect x="73.45" y="227.44" width="4.19" height="4.92" fill="#506186"/>
<rect x="76.94" y="227.44" width="4.19" height="4.92" fill="#506186"/>
<rect x="80.43" y="227.44" width="4.19" height="4.92" fill="#506186"/>
<rect x="83.92" y="227.44" width="4.19" height="4.92" fill="#506186"/>
<rect x="87.41" y="227.44" width="4.19" height="4.92" fill="#506186"/>
<rect x="90.90" y="227.44" width="4.19" height="4.92" fill="#506186"/>
<rect x="94.39" y="227.44" width="4.19" height="4.92" fill="#506186"/>
<rect x="97.88" y="227.44" width="4.19" height="4.92" fill="#506186"/>
<rect x="101.37" y="227.44" width="4.19" height="4.92" fill="#506186"/>
<rect x="104.86" y="227.44" width="4.19" height="4.92" fill="#506186"/>
<rect x="108.35" y="227.44" width="4.19" height="4.92" fill="#506186"/>
<rect x="111.84" y="227.44" width="4.19" height="4.92" fill="#506186"/>
<rect x="115.33" y="227.44" width="4.19" height="4.92" fill="#506186"/>
<rect x="118.82" y="227.44" width="4.19" height="4.92" fill="#506186"/>
<rect x="122.31" y="227.44" width="4.19" height="4.92" fill="#506186"/>
<rect x="125.80" y="227.44" width="4.19" height="4.92" fill="#506186"/>
<rect x="129.29" y="227.44" width="4.19" height="4.92" fill="#506186"/>
<rect x="132.78" y="227.44" width="4.19" height="4.92" fill="#506186"/>
<rect x="136.27" y="227.44" width="4.19" height="4.92" fill="#506186"/>
<rect x="139.76" y="227.44" width="4.19" height="4.92" fill="#506186"/>
<rect x="143.25" y="227.44" width="4.19" height="4.92" fill="#506186"/>
<rect x="146.74" y="227.44" width="4.19" height="4.92" fill="#506186"/>
<rect x="150.23" y="227.44" width="4.19" height="4.92" fill="#506186"/>
<rect x="153.72" y="227.44" width="4.19" height="4.92" fill="#506186"/>
<rect x="157.21" y="227.44" width="4.19" height="4.92" fill="#506186"/>
<rect x="56.00" y="231.66" width="4.19" height="4.92" fill="#91a5d6"/>
<rect x="59.49" y="231.66" width="4.19" height="4.92" fill="#91a5d6"/>
<rect x="62.98" y="231.66" width="4.19" height="4.92" fill="#91a5d6"/>
<rect x="66.47" y="231.66" width="4.19" height="4.92" fill="#b8c3e6"/>
<rect x="69.96" y="231.66" width="4.19" height="4.92" fill="#a8b8e0"/>
<rect x="73.45" y="231.66" width="4.19" height="4.92" fill="#9baddb"/>
<rect x="76.94" y="231.66" width="4.19" height="4.92" fill="#506186"/>
<rect x="80.43" y="231.66" width="4.19" height="4.92" fill="#91a5d6"/>
<rect x="83.92" y="231.66" width="4.19" height="4.92" fill="#91a5d6"/>
<rect x="87.41" y="231.66" width="4.19" height="4.92" fill="#91a5d6"/>
<rect x="90.90" y="231.66" width="4.19" height="4.92" fill="#a8b8e0"/>
<rect x="94.39" y="231.66" width="4.19" height="4.92" fill="#9baddb"/>
<rect x="97.88" y="231.66" width="4.19" height="4.92" fill="#b8c3e6"/>
<rect x="101.37" y="231.66" width="4.19" height="4.92" fill="#506186"/>
<rect x="104.86" y="231.66" width="4.19" height="4.92" fill="#9baddb"/>
<rect x="108.35" y="231.66" width="4.19" height="4.92" fill="#506186"/>
<rect x="111.84" y="231.66" width="4.19" height="4.92" fill="#91a5d6"/>
<rect x="115.33" y="231.66" width="4.19" height="4.92" fill="#91a5d6"/>
<rect x="118.82" y="231.66" width="4.19" height="4.92" fill="#9baddb"/>
<rect x="122.31" y="231.66" width="4.19" height="4.92" fill="#b8c3e6"/>
<rect x="125.80" y="231.66" width="4.19" height="4.92" fill="#a8b8e0"/>
<rect x="129.29" y="231.66" width="4.19" height="4.92" fill="#91a5d6"/>
<rect x="132.78" y="231.66" width="4.19" height="4.92" fill="#a8b8e0"/>
<rect x="136.27" y="231.66" width="4.19" height="4.92" fill="#a8b8e0"/>
<rect x="139.76" y="231.66" width="4.19" height="4.92" fill="#91a5d6"/>
<rect x="143.25" y="231.66" width="4.19" height="4.92" fill="#9baddb"/>
<rect x="146.74" y="231.66" width="4.19" height="4.92" fill="#a8b8e0"/>
<rect x="150.23" y="231.66" width="4.19" height="4.92" fill="#506186"/>
<rect x="153.72" y="231.66" width="4.19" height="4.92" fill="#91a5d6"/>
<rect x="157.21" y="231.66" width="4.19" height="4.92" fill="#9baddb"/>
<rect x="56.00" y="235.88" width="4.19" height="4.92" fill="#91a5d6"/>
<rect x="59.49" y="235.88" width="4.19" height="4.92" fill="#91a5d6"/>
<rect x="62.98" y="235.88" width="4.19" height="4.92" fill="#91a5d6"/>
<rect x="66.47" y="235.88" width="4.19" height="4.92" fill="#b8c3e6"/>
<rect x="69.96" y="235.88" width="4.19" height="4.92" fill="#a8b8e0"/>
<rect x="73.45" y="235.88" width="4.19" height="4.92" fill="#9baddb"/>
<rect x="76.94" y="235.88" width="4.19" height="4.92" fill="#506186"/>
<rect x="80.43" y="235.88" width="4.19" height="4.92" fill="#91a5d6"/>
<rect x="83.92" y="235.88" width="4.19" height="4.92" fill="#91a5d6"/>
<rect x="87.41" y="235.88" width="4.19" height="4.92" fill="#91a5d6"/>
<rect x="90.90" y="235.88" width="4.19" height="4.92" fill="#a8b8e0"/>
<rect x="94.39" y="235.88" width="4.19" height="4.92" fill="#9baddb"/>
<rect x="97.88" y="235.88" width="4.19" height="4.92" fill="#b8c3e6"/>
<rect x="101.37" y="235.88" width="4.19" height="4.92" fill="#506186"/>
<rect x="104.86" y="235.88" width="4.19" height="4.92" fill="#9baddb"/>
<rect x="108.35" y="235.88" width="4.19" height="4.92" fill="#91a5d6"/>
<rect x="111.84" y="235.88" width="4.19" height="4.92" fill="#91a5d6"/>
<rect x="115.33" y="235.88" width="4.19" height="4.92" fill="#91a5d6"/>
<rect x="118.82" y="235.88" width="4.19" height="4.92" fill="#9baddb"/>
<rect x="122.31" y="235.88" width="4.19" height="4.92" fill="#b8c3e6"/>
<rect x="125.80" y="235.88" width="4.19" height="4.92" fill="#a8b8e0"/>
<rect x="129.29" y="235.88" width="4.19" height="4.92" fill="#91a5d6"/>
<rect x="132.78" y="235.88" width="4.19" height="4.92" fill="#a8b8e0"/>
<rect x="136.27" y="235.88" width="4.19" height="4.92" fill="#a8b8e0"/>
<rect x="139.76" y="235.88" width="4.19" height="4.92" fill="#91a5d6"/>
<rect x="143.25" y="235.88" width="4.19" height="4.92" fill="#9baddb"/>
<rect x="146.74" y="235.88" width="4.19" height="4.92" fill="#a8b8e0"/>
<rect x="150.23" y="235.88" width="4.19" height="4.92" fill="#506186"/>
<rect x="153.72" y="235.88" width="4.19" height="4.92" fill="#91a5d6"/>
<rect x="157.21" y="235.88" width="4.19" height="4.92" fill="#9baddb"/>
<rect x="56.00" y="240.10" width="4.19" height="4.92" fill="#91a5d6"/>
<rect x="59.49" y="240.10" width="4.19" height="4.92" fill="#91a5d6"/>
<rect x="62.98" y="240.10" width="4.19" height="4.92" fill="#91a5d6"/>
<rect x="66.47" y="240.10" width="4.19" height="4.92" fill="#b8c3e6"/>
<rect x="69.96" y="240.10" width="4.19" height="4.92" fill="#a8b8e0"/>
<rect x="73.45" y="240.10" width="4.19" height="4.92" fill="#9baddb"/>
<rect x="76.94" y="240.10" width="4.19" height="4.92" fill="#506186"/>
<rect x="80.43" y="240.10" width="4.19" height="4.92" fill="#506186"/>
<rect x="83.92" y="240.10" width="4.19" height="4.92" fill="#506186"/>
<rect x="87.41" y="240.10" width="4.19" height="4.92" fill="#506186"/>
<rect x="90.90" y="240.10" width="4.19" height="4.92" fill="#a8b8e0"/>
<rect x="94.39" y="240.10" width="4.19" height="4.92" fill="#9baddb"/>
<rect x="97.88" y="240.10" width="4.19" height="4.92" fill="#b8c3e6"/>
<rect x="101.37" y="240.10" width="4.19" height="4.92" fill="#506186"/>
<rect x="104.86" y="240.10" width="4.19" height="4.92" fill="#506186"/>
<rect x="108.35" y="240.10" width="4.19" height="4.92" fill="#506186"/>
<rect x="111.84" y="240.10" width="4.19" height="4.92" fill="#91a5d6"/>
<rect x="115.33" y="240.10" width="4.19" height="4.92" fill="#91a5d6"/>
<rect x="118.82" y="240.10" width="4.19" height="4.92" fill="#506186"/>
<rect x="122.31" y="240.10" width="4.19" height="4.92" fill="#b8c3e6"/>
<rect x="125.80" y="240.10" width="4.19" height="4.92" fill="#a8b8e0"/>
<rect x="129.29" y="240.10" width="4.19" height="4.92" fill="#506186"/>
<rect x="132.78" y="240.10" width="4.19" height="4.92" fill="#a8b8e0"/>
<rect x="136.27" y="240.10" width="4.19" height="4.92" fill="#a8b8e0"/>
<rect x="139.76" y="240.10" width="4.19" height="4.92" fill="#506186"/>
<rect x="143.25" y="240.10" width="4.19" height="4.92" fill="#9baddb"/>
<rect x="146.74" y="240.10" width="4.19" height="4.92" fill="#a8b8e0"/>
<rect x="150.23" y="240.10" width="4.19" height="4.92" fill="#506186"/>
<rect x="153.72" y="240.10" width="4.19" height="4.92" fill="#506186"/>
<rect x="157.21" y="240.10" width="4.19" height="4.92" fill="#9baddb"/>
<rect x="56.00" y="244.32" width="4.19" height="4.92" fill="#506186"/>
<rect x="59.49" y="244.32" width="4.19" height="4.92" fill="#506186"/>
<rect x="62.98" y="244.32" width="4.19" height="4.92" fill="#506186"/>
<rect x="66.47" y="244.32" width="4.19" height="4.92" fill="#506186"/>
<rect x="69.96" y="244.32" width="4.19" height="4.92" fill="#506186"/>
<rect x="73.45" y="244.32" width="4.19" height="4.92" fill="#506186"/>
<rect x="76.94" y="244.32" width="4.19" height="4.92" fill="#506186"/>
<rect x="80.43" y="244.32" width="4.19" height="4.92" fill="#506186"/>
<rect x="83.92" y="244.32" width="4.19" height="4.92" fill="#506186"/>
<rect x="87.41" y="244.32" width="4.19" height="4.92" fill="#506186"/>
<rect x="90.90" y="244.32" width="4.19" height="4.92" fill="#506186"/>
<rect x="94.39" y="244.32" width="4.19" height="4.92" fill="#506186"/>
<rect x="97.88" y="244.32" width="4.19" height="4.92" fill="#506186"/>
<rect x="101.37" y="244.32" width="4.19" height="4.92" fill="#506186"/>
<rect x="104.86" y="244.32" width="4.19" height="4.92" fill="#506186"/>
<rect x="108.35" y="244.32" width="4.19" height="4.92" fill="#506186"/>
<rect x="111.84" y="244.32" width="4.19" height="4.92" fill="#506186"/>
<rect x="115.33" y="244.32" width="4.19" height="4.92" fill="#506186"/>
<rect x="118.82" y="244.32" width="4.19" height="4.92" fill="#506186"/>
<rect x="122.31" y="244.32" width="4.19" height="4.92" fill="#506186"/>
<rect x="125.80" y="244.32" width="4.19" height="4.92" fill="#506186"/>
<rect x="129.29" y="244.32" width="4.19" height="4.92" fill="#506186"/>
<rect x="132.78" y="244.32" width="4.19" height="4.92" fill="#506186"/>
<rect x="136.27" y="244.32" width="4.19" height="4.92" fill="#506186"/>
<rect x="139.76" y="244.32" width="4.19" height="4.92" fill="#506186"/>
<rect x="143.25" y="244.32" width="4.19" height="4.92" fill="#506186"/>
<rect x="146.74" y="244.32" width="4.19" height="4.92" fill="#506186"/>
<rect x="150.23" y="244.32" width="4.19" height="4.92" fill="#506186"/>
<rect x="153.72" y="244.32" width="4.19" height="4.92" fill="#506186"/>
<rect x="157.21" y="244.32" width="4.19" height="4.92" fill="#506186"/>
<rect x="56.00" y="248.54" width="4.19" height="4.92" fill="#91a5d6"/>
<rect x="59.49" y="248.54" width="4.19" height="4.92" fill="#91a5d6"/>
<rect x="62.98" y="248.54" width="4.19" height="4.92" fill="#91a5d6"/>
<rect x="66.47" y="248.54" width="4.19" height="4.92" fill="#b8c3e6"/>
<rect x="69.96" y="248.54" width="4.19" height="4.92" fill="#a8b8e0"/>
<rect x="73.45" y="248.54" width="4.19" height="4.92" fill="#9baddb"/>
<rect x="76.94" y="248.54" width="4.19" height="4.92" fill="#506186"/>
<rect x="80.43" y="248.54" width="4.19" height="4.92" fill="#91a5d6"/>
<rect x="83.92" y="248.54" width="4.19" height="4.92" fill="#91a5d6"/>
<rect x="87.41" y="248.54" width="4.19" height="4.92" fill="#91a5d6"/>
<rect x="90.90" y="248.54" width="4.19" height="4.92" fill="#a8b8e0"/>
<rect x="94.39" y="248.54" width="4.19" height="4.92" fill="#9baddb"/>
<rect x="97.88" y="248.54" width="4.19" height="4.92" fill="#b8c3e6"/>
<rect x="101.37" y="248.54" width="4.19" height="4.92" fill="#506186"/>
<rect x="104.86" y="248.54" width="4.19" height="4.92" fill="#9baddb"/>
<rect x="108.35" y="248.54" width="4.19" height="4.92" fill="#91a5d6"/>
<rect x="111.84" y="248.54" width="4.19" height="4.92" fill="#91a5d6"/>
<rect x="115.33" y="248.54" width="4.19" height="4.92" fill="#91a5d6"/>
<rect x="118.82" y="248.54" width="4.19" height="4.92" fill="#9baddb"/>
<rect x="122.31" y="248.54" width="4.19" height="4.92" fill="#b8c3e6"/>
<rect x="125.80" y="248.54" width="4.19" height="4.92" fill="#a8b8e0"/>
<rect x="129.29" y="248.54" width="4.19" height="4.92" fill="#91a5d6"/>
<rect x="132.78" y="248.54" width="4.19" height="4.92" fill="#a8b8e0"/>
<rect x="136.27" y="248.54" width="4.19" height="4.92" fill="#a8b8e0"/>
<rect x="139.76" y="248.54" width="4.19" height="4.92" fill="#91a5d6"/>
<rect x="143.25" y="248.54" width="4.19" height="4.92" fill="#9baddb"/>
<rect x="146.74" y="248.54" width="4.19" height="4.92" fill="#a8b8e0"/>
<rect x="150.23" y="248.54" width="4.19" height="4.92" fill="#506186"/>
<rect x="153.72" y="248.54" width="4.19" height="4.92" fill="#91a5d6"/>
<rect x="157.21" y="248.54" width="4.19" height="4.92" fill="#9baddb"/>
<rect x="56.00" y="252.76" width="4.19" height="4.92" fill="#91a5d6"/>
<rect x="59.49" y="252.76" width="4.19" height="4.92" fill="#91a5d6"/>
<rect x="62.98" y="252.76" width="4.19" height="4.92" fill="#91a5d6"/>
<rect x="66.47" y="252.76" width="4.19" height="4.92" fill="#b8c3e6"/>
<rect x="69.96" y="252.76" width="4.19" height="4.92" fill="#a8b8e0"/>
<rect x="73.45" y="252.76" width="4.19" height="4.92" fill="#9baddb"/>
<rect x="76.94" y="252.76" width="4.19" height="4.92" fill="#506186"/>
<rect x="80.43" y="252.76" width="4.19" height="4.92" fill="#506186"/>
<rect x="83.92" y="252.76" width="4.19" height="4.92" fill="#506186"/>
<rect x="87.41" y="252.76" width="4.19" height="4.92" fill="#506186"/>
<rect x="90.90" y="252.76" width="4.19" height="4.92" fill="#a8b8e0"/>
<rect x="94.39" y="252.76" width="4.19" height="4.92" fill="#9baddb"/>
<rect x="97.88" y="252.76" width="4.19" height="4.92" fill="#b8c3e6"/>
<rect x="101.37" y="252.76" width="4.19" height="4.92" fill="#506186"/>
<rect x="104.86" y="252.76" width="4.19" height="4.92" fill="#506186"/>
<rect x="108.35" y="252.76" width="4.19" height="4.92" fill="#506186"/>
<rect x="111.84" y="252.76" width="4.19" height="4.92" fill="#91a5d6"/>
<rect x="115.33" y="252.76" width="4.19" height="4.92" fill="#91a5d6"/>
<rect x="118.82" y="252.76" width="4.19" height="4.92" fill="#506186"/>
<rect x="122.31" y="252.76" width="4.19" height="4.92" fill="#b8c3e6"/>
<rect x="125.80" y="252.76" width="4.19" height="4.92" fill="#a8b8e0"/>
<rect x="129.29" y="252.76" width="4.19" height="4.92" fill="#506186"/>
<rect x="132.78" y="252.76" width="4.19" height="4.92" fill="#a8b8e0"/>
<rect x="136.27" y="252.76" width="4.19" height="4.92" fill="#a8b8e0"/>
<rect x="139.76" y="252.76" width="4.19" height="4.92" fill="#506186"/>
<rect x="143.25" y="252.76" width="4.19" height="4.92" fill="#9baddb"/>
<rect x="146.74" y="252.76" width="4.19" height="4.92" fill="#a8b8e0"/>
<rect x="150.23" y="252.76" width="4.19" height="4.92" fill="#506186"/>
<rect x="153.72" y="252.76" width="4.19" height="4.92" fill="#506186"/>
<rect x="157.21" y="252.76" width="4.19" height="4.92" fill="#9baddb"/>
<rect x="56.00" y="256.98" width="4.19" height="4.92" fill="#91a5d6"/>
<rect x="59.49" y="256.98" width="4.19" height="4.92" fill="#91a5d6"/>
<rect x="62.98" y="256.98" width="4.19" height="4.92" fill="#91a5d6"/>
<rect x="66.47" y="256.98" width="4.19" height="4.92" fill="#b8c3e6"/>
<rect x="69.96" y="256.98" width="4.19" height="4.92" fill="#a8b8e0"/>
<rect x="73.45" y="256.98" width="4.19" height="4.92" fill="#9baddb"/>
<rect x="76.94" y="256.98" width="4.19" height="4.92" fill="#506186"/>
<rect x="80.43" y="256.98" width="4.19" height="4.92" fill="#91a5d6"/>
<rect x="83.92" y="256.98" width="4.19" height="4.92" fill="#91a5d6"/>
<rect x="87.41" y="256.98" width="4.19" height="4.92" fill="#91a5d6"/>
<rect x="90.90" y="256.98" width="4.19" height="4.92" fill="#a8b8e0"/>
<rect x="94.39" y="256.98" width="4.19" height="4.92" fill="#9baddb"/>
<rect x="97.88" y="256.98" width="4.19" height="4.92" fill="#b8c3e6"/>
<rect x="101.37" y="256.98" width="4.19" height="4.92" fill="#506186"/>
<rect x="104.86" y="256.98" width="4.19" height="4.92" fill="#9baddb"/>
<rect x="108.35" y="256.98" width="4.19" height="4.92" fill="#91a5d6"/>
<rect x="111.84" y="256.98" width="4.19" height="4.92" fill="#91a5d6"/>
<rect x="115.33" y="256.98" width="4.19" height="4.92" fill="#91a5d6"/>
<rect x="118.82" y="256.98" width="4.19" height="4.92" fill="#9baddb"/>
<rect x="122.31" y="256.98" width="4.19" height="4.92" fill="#b8c3e6"/>
<rect x="125.80" y="256.98" width="4.19" height="4.92" fill="#a8b8e0"/>
<rect x="129.29" y="256.98" width="4.19" height="4.92" fill="#91a5d6"/>
<rect x="132.78" y="256.98" width="4.19" height="4.92" fill="#a8b8e0"/>
<rect x="136.27" y="256.98" width="4.19" height="4.92" fill="#a8b8e0"/>
<rect x="139.76" y="256.98" width="4.19" height="4.92" fill="#91a5d6"/>
<rect x="143.25" y="256.98" width="4.19" height="4.92" fill="#9baddb"/>
<rect x="146.74" y="256.98" width="4.19" height="4.92" fill="#a8b8e0"/>
<rect x="150.23" y="256.98" width="4.19" height="4.92" fill="#506186"/>
<rect x="153.72" y="256.98" width="4.19" height="4.92" fill="#91a5d6"/>
<rect x="157.21" y="256.98" width="4.19" height="4.92" fill="#9baddb"/>
<rect x="56.00" y="261.20" width="4.19" height="4.92" fill="#91a5d6"/>
<rect x="59.49" y="261.20" width="4.19" height="4.92" fill="#91a5d6"/>
<rect x="62.98" y="261.20" width="4.19" height="4.92" fill="#91a5d6"/>
<rect x="66.47" y="261.20" width="4.19" height="4.92" fill="#b8c3e6"/>
<rect x="69.96" y="261.20" width="4.19" height="4.92" fill="#a8b8e0"/>
<rect x="73.45" y="261.20" width="4.19" height="4.92" fill="#9baddb"/>
<rect x="76.94" y="261.20" width="4.19" height="4.92" fill="#506186"/>
<rect x="80.43" y="261.20" width="4.19" height="4.92" fill="#91a5d6"/>
<rect x="83.92" y="261.20" width="4.19" height="4.92" fill="#91a5d6"/>
<rect x="87.41" y="261.20" width="4.19" height="4.92" fill="#91a5d6"/>
<rect x="90.90" y="261.20" width="4.19" height="4.92" fill="#a8b8e0"/>
<rect x="94.39" y="261.20" width="4.19" height="4.92" fill="#9baddb"/>
<rect x="97.88" y="261.20" width="4.19" height="4.92" fill="#b8c3e6"/>
<rect x="101.37" y="261.20" width="4.19" height="4.92" fill="#506186"/>
<rect x="104.86" y="261.20" width="4.19" height="4.92" fill="#506186"/>
<rect x="108.35" y="261.20" width="4.19" height="4.92" fill="#506186"/>
<rect x="111.84" y="261.20" width="4.19" height="4.92" fill="#91a5d6"/>
<rect x="115.33" y="261.20" width="4.19" height="4.92" fill="#91a5d6"/>
<rect x="118.82" y="261.20" width="4.19" height="4.92" fill="#9baddb"/>
<rect x="122.31" y="261.20" width="4.19" height="4.92" fill="#b8c3e6"/>
<rect x="125.80" y="261.20" width="4.19" height="4.92" fill="#a8b8e0"/>
<rect x="129.29" y="261.20" width="4.19" height="4.92" fill="#506186"/>
<rect x="132.78" y="261.20" width="4.19" height="4.92" fill="#a8b8e0"/>
<rect x="136.27" y="261.20" width="4.19" height="4.92" fill="#a8b8e0"/>
<rect x="139.76" y="261.20" width="4.19" height="4.92" fill="#506186"/>
<rect x="143.25" y="261.20" width="4.19" height="4.92" fill="#9baddb"/>
<rect x="146.74" y="261.20" width="4.19" height="4.92" fill="#a8b8e0"/>
<rect x="150.23" y="261.20" width="4.19" height="4.92" fill="#506186"/>
<rect x="153.72" y="261.20" width="4.19" height="4.92" fill="#506186"/>
<rect x="157.21" y="261.20" width="4.19" height="4.92" fill="#9baddb"/>
<rect x="56.00" y="265.42" width="4.19" height="4.92" fill="#91a5d6"/>
<rect x="59.49" y="265.42" width="4.19" height="4.92" fill="#91a5d6"/>
<rect x="62.98" y="265.42" width="4.19" height="4.92" fill="#91a5d6"/>
<rect x="66.47" y="265.42" width="4.19" height="4.92" fill="#b8c3e6"/>
<rect x="69.96" y="265.42" width="4.19" height="4.92" fill="#a8b8e0"/>
<rect x="73.45" y="265.42" width="4.19" height="4.92" fill="#9baddb"/>
<rect x="76.94" y="265.42" width="4.19" height="4.92" fill="#506186"/>
<rect x="80.43" y="265.42" width="4.19" height="4.92" fill="#506186"/>
<rect x="83.92" y="265.42" width="4.19" height="4.92" fill="#506186"/>
<rect x="87.41" y="265.42" width="4.19" height="4.92" fill="#506186"/>
<rect x="90.90" y="265.42" width="4.19" height="4.92" fill="#a8b8e0"/>
<rect x="94.39" y="265.42" width="4.19" height="4.92" fill="#9baddb"/>
<rect x="97.88" y="265.42" width="4.19" height="4.92" fill="#b8c3e6"/>
<rect x="101.37" y="265.42" width="4.19" height="4.92" fill="#506186"/>
<rect x="104.86" y="265.42" width="4.19" height="4.92" fill="#506186"/>
<rect x="108.35" y="265.42" width="4.19" height="4.92" fill="#506186"/>
<rect x="111.84" y="265.42" width="4.19" height="4.92" fill="#91a5d6"/>
<rect x="115.33" y="265.42" width="4.19" height="4.92" fill="#91a5d6"/>
<rect x="118.82" y="265.42" width="4.19" height="4.92" fill="#506186"/>
<rect x="122.31" y="265.42" width="4.19" height="4.92" fill="#b8c3e6"/>
<rect x="125.80" y="265.42" width="4.19" height="4.92" fill="#a8b8e0"/>
<rect x="129.29" y="265.42" width="4.19" height="4.92" fill="#506186"/>
<rect x="132.78" y="265.42" width="4.19" height="4.92" fill="#a8b8e0"/>
<rect x="136.27" y="265.42" width="4.19" height="4.92" fill="#a8b8e0"/>
<rect x="139.76" y="265.42" width="4.19" height="4.92" fill="#506186"/>
<rect x="143.25" y="265.42" width="4.19" height="4.92" fill="#9baddb"/>
<rect x="146.74" y="265.42" width="4.19" height="4.92" fill="#a8b8e0"/>
<rect x="150.23" y="265.42" width="4.19" height="4.92" fill="#506186"/>
<rect x="153.72" y="265.42" width="4.19" height="4.92" fill="#506186"/>
<rect x="157.21" y="265.42" width="4.19" height="4.92" fill="#9baddb"/>
</g>
<clipPath id="hm2"><rect x="205.9" y="219" width="102.00" height="52.32"/></clipPath><g clip-path="url(#hm2)">
<rect x="205.90" y="219.00" width="4.10" height="5.06" fill="#9baddb"/>
<rect x="209.30" y="219.00" width="4.10" height="5.06" fill="#506186"/>
<rect x="212.70" y="219.00" width="4.10" height="5.06" fill="#91a5d6"/>
<rect x="216.10" y="219.00" width="4.10" height="5.06" fill="#9baddb"/>
<rect x="219.50" y="219.00" width="4.10" height="5.06" fill="#506186"/>
<rect x="222.90" y="219.00" width="4.10" height="5.06" fill="#506186"/>
<rect x="226.30" y="219.00" width="4.10" height="5.06" fill="#506186"/>
<rect x="229.70" y="219.00" width="4.10" height="5.06" fill="#9baddb"/>
<rect x="233.10" y="219.00" width="4.10" height="5.06" fill="#506186"/>
<rect x="236.50" y="219.00" width="4.10" height="5.06" fill="#a8b8e0"/>
<rect x="239.90" y="219.00" width="4.10" height="5.06" fill="#9baddb"/>
<rect x="243.30" y="219.00" width="4.10" height="5.06" fill="#506186"/>
<rect x="246.70" y="219.00" width="4.10" height="5.06" fill="#506186"/>
<rect x="250.10" y="219.00" width="4.10" height="5.06" fill="#a8b8e0"/>
<rect x="253.50" y="219.00" width="4.10" height="5.06" fill="#91a5d6"/>
<rect x="256.90" y="219.00" width="4.10" height="5.06" fill="#9baddb"/>
<rect x="260.30" y="219.00" width="4.10" height="5.06" fill="#506186"/>
<rect x="263.70" y="219.00" width="4.10" height="5.06" fill="#9baddb"/>
<rect x="267.10" y="219.00" width="4.10" height="5.06" fill="#91a5d6"/>
<rect x="270.50" y="219.00" width="4.10" height="5.06" fill="#91a5d6"/>
<rect x="273.90" y="219.00" width="4.10" height="5.06" fill="#9baddb"/>
<rect x="277.30" y="219.00" width="4.10" height="5.06" fill="#9baddb"/>
<rect x="280.70" y="219.00" width="4.10" height="5.06" fill="#a8b8e0"/>
<rect x="284.10" y="219.00" width="4.10" height="5.06" fill="#9baddb"/>
<rect x="287.50" y="219.00" width="4.10" height="5.06" fill="#506186"/>
<rect x="290.90" y="219.00" width="4.10" height="5.06" fill="#506186"/>
<rect x="294.30" y="219.00" width="4.10" height="5.06" fill="#506186"/>
<rect x="297.70" y="219.00" width="4.10" height="5.06" fill="#506186"/>
<rect x="301.10" y="219.00" width="4.10" height="5.06" fill="#506186"/>
<rect x="304.50" y="219.00" width="4.10" height="5.06" fill="#a8b8e0"/>
<rect x="205.90" y="223.36" width="4.10" height="5.06" fill="#9baddb"/>
<rect x="209.30" y="223.36" width="4.10" height="5.06" fill="#91a5d6"/>
<rect x="212.70" y="223.36" width="4.10" height="5.06" fill="#91a5d6"/>
<rect x="216.10" y="223.36" width="4.10" height="5.06" fill="#9baddb"/>
<rect x="219.50" y="223.36" width="4.10" height="5.06" fill="#91a5d6"/>
<rect x="222.90" y="223.36" width="4.10" height="5.06" fill="#506186"/>
<rect x="226.30" y="223.36" width="4.10" height="5.06" fill="#506186"/>
<rect x="229.70" y="223.36" width="4.10" height="5.06" fill="#9baddb"/>
<rect x="233.10" y="223.36" width="4.10" height="5.06" fill="#506186"/>
<rect x="236.50" y="223.36" width="4.10" height="5.06" fill="#a8b8e0"/>
<rect x="239.90" y="223.36" width="4.10" height="5.06" fill="#9baddb"/>
<rect x="243.30" y="223.36" width="4.10" height="5.06" fill="#506186"/>
<rect x="246.70" y="223.36" width="4.10" height="5.06" fill="#9baddb"/>
<rect x="250.10" y="223.36" width="4.10" height="5.06" fill="#a8b8e0"/>
<rect x="253.50" y="223.36" width="4.10" height="5.06" fill="#91a5d6"/>
<rect x="256.90" y="223.36" width="4.10" height="5.06" fill="#9baddb"/>
<rect x="260.30" y="223.36" width="4.10" height="5.06" fill="#91a5d6"/>
<rect x="263.70" y="223.36" width="4.10" height="5.06" fill="#9baddb"/>
<rect x="267.10" y="223.36" width="4.10" height="5.06" fill="#91a5d6"/>
<rect x="270.50" y="223.36" width="4.10" height="5.06" fill="#91a5d6"/>
<rect x="273.90" y="223.36" width="4.10" height="5.06" fill="#9baddb"/>
<rect x="277.30" y="223.36" width="4.10" height="5.06" fill="#9baddb"/>
<rect x="280.70" y="223.36" width="4.10" height="5.06" fill="#a8b8e0"/>
<rect x="284.10" y="223.36" width="4.10" height="5.06" fill="#9baddb"/>
<rect x="287.50" y="223.36" width="4.10" height="5.06" fill="#91a5d6"/>
<rect x="290.90" y="223.36" width="4.10" height="5.06" fill="#506186"/>
<rect x="294.30" y="223.36" width="4.10" height="5.06" fill="#9baddb"/>
<rect x="297.70" y="223.36" width="4.10" height="5.06" fill="#91a5d6"/>
<rect x="301.10" y="223.36" width="4.10" height="5.06" fill="#506186"/>
<rect x="304.50" y="223.36" width="4.10" height="5.06" fill="#a8b8e0"/>
<rect x="205.90" y="227.72" width="4.10" height="5.06" fill="#506186"/>
<rect x="209.30" y="227.72" width="4.10" height="5.06" fill="#506186"/>
<rect x="212.70" y="227.72" width="4.10" height="5.06" fill="#506186"/>
<rect x="216.10" y="227.72" width="4.10" height="5.06" fill="#506186"/>
<rect x="219.50" y="227.72" width="4.10" height="5.06" fill="#506186"/>
<rect x="222.90" y="227.72" width="4.10" height="5.06" fill="#506186"/>
<rect x="226.30" y="227.72" width="4.10" height="5.06" fill="#506186"/>
<rect x="229.70" y="227.72" width="4.10" height="5.06" fill="#506186"/>
<rect x="233.10" y="227.72" width="4.10" height="5.06" fill="#506186"/>
<rect x="236.50" y="227.72" width="4.10" height="5.06" fill="#a8b8e0"/>
<rect x="239.90" y="227.72" width="4.10" height="5.06" fill="#506186"/>
<rect x="243.30" y="227.72" width="4.10" height="5.06" fill="#506186"/>
<rect x="246.70" y="227.72" width="4.10" height="5.06" fill="#506186"/>
<rect x="250.10" y="227.72" width="4.10" height="5.06" fill="#a8b8e0"/>
<rect x="253.50" y="227.72" width="4.10" height="5.06" fill="#506186"/>
<rect x="256.90" y="227.72" width="4.10" height="5.06" fill="#506186"/>
<rect x="260.30" y="227.72" width="4.10" height="5.06" fill="#506186"/>
<rect x="263.70" y="227.72" width="4.10" height="5.06" fill="#506186"/>
<rect x="267.10" y="227.72" width="4.10" height="5.06" fill="#506186"/>
<rect x="270.50" y="227.72" width="4.10" height="5.06" fill="#506186"/>
<rect x="273.90" y="227.72" width="4.10" height="5.06" fill="#506186"/>
<rect x="277.30" y="227.72" width="4.10" height="5.06" fill="#506186"/>
<rect x="280.70" y="227.72" width="4.10" height="5.06" fill="#506186"/>
<rect x="284.10" y="227.72" width="4.10" height="5.06" fill="#506186"/>
<rect x="287.50" y="227.72" width="4.10" height="5.06" fill="#506186"/>
<rect x="290.90" y="227.72" width="4.10" height="5.06" fill="#506186"/>
<rect x="294.30" y="227.72" width="4.10" height="5.06" fill="#506186"/>
<rect x="297.70" y="227.72" width="4.10" height="5.06" fill="#506186"/>
<rect x="301.10" y="227.72" width="4.10" height="5.06" fill="#506186"/>
<rect x="304.50" y="227.72" width="4.10" height="5.06" fill="#a8b8e0"/>
<rect x="205.90" y="232.08" width="4.10" height="5.06" fill="#9baddb"/>
<rect x="209.30" y="232.08" width="4.10" height="5.06" fill="#506186"/>
<rect x="212.70" y="232.08" width="4.10" height="5.06" fill="#91a5d6"/>
<rect x="216.10" y="232.08" width="4.10" height="5.06" fill="#9baddb"/>
<rect x="219.50" y="232.08" width="4.10" height="5.06" fill="#506186"/>
<rect x="222.90" y="232.08" width="4.10" height="5.06" fill="#506186"/>
<rect x="226.30" y="232.08" width="4.10" height="5.06" fill="#506186"/>
<rect x="229.70" y="232.08" width="4.10" height="5.06" fill="#9baddb"/>
<rect x="233.10" y="232.08" width="4.10" height="5.06" fill="#506186"/>
<rect x="236.50" y="232.08" width="4.10" height="5.06" fill="#a8b8e0"/>
<rect x="239.90" y="232.08" width="4.10" height="5.06" fill="#9baddb"/>
<rect x="243.30" y="232.08" width="4.10" height="5.06" fill="#506186"/>
<rect x="246.70" y="232.08" width="4.10" height="5.06" fill="#506186"/>
<rect x="250.10" y="232.08" width="4.10" height="5.06" fill="#a8b8e0"/>
<rect x="253.50" y="232.08" width="4.10" height="5.06" fill="#91a5d6"/>
<rect x="256.90" y="232.08" width="4.10" height="5.06" fill="#9baddb"/>
<rect x="260.30" y="232.08" width="4.10" height="5.06" fill="#506186"/>
<rect x="263.70" y="232.08" width="4.10" height="5.06" fill="#9baddb"/>
<rect x="267.10" y="232.08" width="4.10" height="5.06" fill="#91a5d6"/>
<rect x="270.50" y="232.08" width="4.10" height="5.06" fill="#91a5d6"/>
<rect x="273.90" y="232.08" width="4.10" height="5.06" fill="#9baddb"/>
<rect x="277.30" y="232.08" width="4.10" height="5.06" fill="#9baddb"/>
<rect x="280.70" y="232.08" width="4.10" height="5.06" fill="#a8b8e0"/>
<rect x="284.10" y="232.08" width="4.10" height="5.06" fill="#9baddb"/>
<rect x="287.50" y="232.08" width="4.10" height="5.06" fill="#506186"/>
<rect x="290.90" y="232.08" width="4.10" height="5.06" fill="#506186"/>
<rect x="294.30" y="232.08" width="4.10" height="5.06" fill="#506186"/>
<rect x="297.70" y="232.08" width="4.10" height="5.06" fill="#506186"/>
<rect x="301.10" y="232.08" width="4.10" height="5.06" fill="#506186"/>
<rect x="304.50" y="232.08" width="4.10" height="5.06" fill="#a8b8e0"/>
<rect x="205.90" y="236.44" width="4.10" height="5.06" fill="#9baddb"/>
<rect x="209.30" y="236.44" width="4.10" height="5.06" fill="#506186"/>
<rect x="212.70" y="236.44" width="4.10" height="5.06" fill="#91a5d6"/>
<rect x="216.10" y="236.44" width="4.10" height="5.06" fill="#9baddb"/>
<rect x="219.50" y="236.44" width="4.10" height="5.06" fill="#506186"/>
<rect x="222.90" y="236.44" width="4.10" height="5.06" fill="#506186"/>
<rect x="226.30" y="236.44" width="4.10" height="5.06" fill="#506186"/>
<rect x="229.70" y="236.44" width="4.10" height="5.06" fill="#9baddb"/>
<rect x="233.10" y="236.44" width="4.10" height="5.06" fill="#506186"/>
<rect x="236.50" y="236.44" width="4.10" height="5.06" fill="#a8b8e0"/>
<rect x="239.90" y="236.44" width="4.10" height="5.06" fill="#9baddb"/>
<rect x="243.30" y="236.44" width="4.10" height="5.06" fill="#506186"/>
<rect x="246.70" y="236.44" width="4.10" height="5.06" fill="#506186"/>
<rect x="250.10" y="236.44" width="4.10" height="5.06" fill="#a8b8e0"/>
<rect x="253.50" y="236.44" width="4.10" height="5.06" fill="#91a5d6"/>
<rect x="256.90" y="236.44" width="4.10" height="5.06" fill="#9baddb"/>
<rect x="260.30" y="236.44" width="4.10" height="5.06" fill="#506186"/>
<rect x="263.70" y="236.44" width="4.10" height="5.06" fill="#9baddb"/>
<rect x="267.10" y="236.44" width="4.10" height="5.06" fill="#91a5d6"/>
<rect x="270.50" y="236.44" width="4.10" height="5.06" fill="#91a5d6"/>
<rect x="273.90" y="236.44" width="4.10" height="5.06" fill="#9baddb"/>
<rect x="277.30" y="236.44" width="4.10" height="5.06" fill="#9baddb"/>
<rect x="280.70" y="236.44" width="4.10" height="5.06" fill="#a8b8e0"/>
<rect x="284.10" y="236.44" width="4.10" height="5.06" fill="#9baddb"/>
<rect x="287.50" y="236.44" width="4.10" height="5.06" fill="#506186"/>
<rect x="290.90" y="236.44" width="4.10" height="5.06" fill="#506186"/>
<rect x="294.30" y="236.44" width="4.10" height="5.06" fill="#506186"/>
<rect x="297.70" y="236.44" width="4.10" height="5.06" fill="#506186"/>
<rect x="301.10" y="236.44" width="4.10" height="5.06" fill="#506186"/>
<rect x="304.50" y="236.44" width="4.10" height="5.06" fill="#a8b8e0"/>
<rect x="205.90" y="240.80" width="4.10" height="5.06" fill="#506186"/>
<rect x="209.30" y="240.80" width="4.10" height="5.06" fill="#506186"/>
<rect x="212.70" y="240.80" width="4.10" height="5.06" fill="#506186"/>
<rect x="216.10" y="240.80" width="4.10" height="5.06" fill="#9baddb"/>
<rect x="219.50" y="240.80" width="4.10" height="5.06" fill="#506186"/>
<rect x="222.90" y="240.80" width="4.10" height="5.06" fill="#506186"/>
<rect x="226.30" y="240.80" width="4.10" height="5.06" fill="#506186"/>
<rect x="229.70" y="240.80" width="4.10" height="5.06" fill="#9baddb"/>
<rect x="233.10" y="240.80" width="4.10" height="5.06" fill="#506186"/>
<rect x="236.50" y="240.80" width="4.10" height="5.06" fill="#a8b8e0"/>
<rect x="239.90" y="240.80" width="4.10" height="5.06" fill="#506186"/>
<rect x="243.30" y="240.80" width="4.10" height="5.06" fill="#506186"/>
<rect x="246.70" y="240.80" width="4.10" height="5.06" fill="#506186"/>
<rect x="250.10" y="240.80" width="4.10" height="5.06" fill="#a8b8e0"/>
<rect x="253.50" y="240.80" width="4.10" height="5.06" fill="#506186"/>
<rect x="256.90" y="240.80" width="4.10" height="5.06" fill="#9baddb"/>
<rect x="260.30" y="240.80" width="4.10" height="5.06" fill="#506186"/>
<rect x="263.70" y="240.80" width="4.10" height="5.06" fill="#9baddb"/>
<rect x="267.10" y="240.80" width="4.10" height="5.06" fill="#506186"/>
<rect x="270.50" y="240.80" width="4.10" height="5.06" fill="#506186"/>
<rect x="273.90" y="240.80" width="4.10" height="5.06" fill="#506186"/>
<rect x="277.30" y="240.80" width="4.10" height="5.06" fill="#506186"/>
<rect x="280.70" y="240.80" width="4.10" height="5.06" fill="#a8b8e0"/>
<rect x="284.10" y="240.80" width="4.10" height="5.06" fill="#506186"/>
<rect x="287.50" y="240.80" width="4.10" height="5.06" fill="#506186"/>
<rect x="290.90" y="240.80" width="4.10" height="5.06" fill="#506186"/>
<rect x="294.30" y="240.80" width="4.10" height="5.06" fill="#506186"/>
<rect x="297.70" y="240.80" width="4.10" height="5.06" fill="#506186"/>
<rect x="301.10" y="240.80" width="4.10" height="5.06" fill="#506186"/>
<rect x="304.50" y="240.80" width="4.10" height="5.06" fill="#a8b8e0"/>
<rect x="205.90" y="245.16" width="4.10" height="5.06" fill="#506186"/>
<rect x="209.30" y="245.16" width="4.10" height="5.06" fill="#506186"/>
<rect x="212.70" y="245.16" width="4.10" height="5.06" fill="#506186"/>
<rect x="216.10" y="245.16" width="4.10" height="5.06" fill="#506186"/>
<rect x="219.50" y="245.16" width="4.10" height="5.06" fill="#506186"/>
<rect x="222.90" y="245.16" width="4.10" height="5.06" fill="#506186"/>
<rect x="226.30" y="245.16" width="4.10" height="5.06" fill="#506186"/>
<rect x="229.70" y="245.16" width="4.10" height="5.06" fill="#506186"/>
<rect x="233.10" y="245.16" width="4.10" height="5.06" fill="#506186"/>
<rect x="236.50" y="245.16" width="4.10" height="5.06" fill="#506186"/>
<rect x="239.90" y="245.16" width="4.10" height="5.06" fill="#506186"/>
<rect x="243.30" y="245.16" width="4.10" height="5.06" fill="#506186"/>
<rect x="246.70" y="245.16" width="4.10" height="5.06" fill="#506186"/>
<rect x="250.10" y="245.16" width="4.10" height="5.06" fill="#506186"/>
<rect x="253.50" y="245.16" width="4.10" height="5.06" fill="#506186"/>
<rect x="256.90" y="245.16" width="4.10" height="5.06" fill="#506186"/>
<rect x="260.30" y="245.16" width="4.10" height="5.06" fill="#506186"/>
<rect x="263.70" y="245.16" width="4.10" height="5.06" fill="#506186"/>
<rect x="267.10" y="245.16" width="4.10" height="5.06" fill="#506186"/>
<rect x="270.50" y="245.16" width="4.10" height="5.06" fill="#506186"/>
<rect x="273.90" y="245.16" width="4.10" height="5.06" fill="#506186"/>
<rect x="277.30" y="245.16" width="4.10" height="5.06" fill="#506186"/>
<rect x="280.70" y="245.16" width="4.10" height="5.06" fill="#506186"/>
<rect x="284.10" y="245.16" width="4.10" height="5.06" fill="#506186"/>
<rect x="287.50" y="245.16" width="4.10" height="5.06" fill="#506186"/>
<rect x="290.90" y="245.16" width="4.10" height="5.06" fill="#506186"/>
<rect x="294.30" y="245.16" width="4.10" height="5.06" fill="#506186"/>
<rect x="297.70" y="245.16" width="4.10" height="5.06" fill="#506186"/>
<rect x="301.10" y="245.16" width="4.10" height="5.06" fill="#506186"/>
<rect x="304.50" y="245.16" width="4.10" height="5.06" fill="#506186"/>
<rect x="205.90" y="249.52" width="4.10" height="5.06" fill="#9baddb"/>
<rect x="209.30" y="249.52" width="4.10" height="5.06" fill="#91a5d6"/>
<rect x="212.70" y="249.52" width="4.10" height="5.06" fill="#91a5d6"/>
<rect x="216.10" y="249.52" width="4.10" height="5.06" fill="#9baddb"/>
<rect x="219.50" y="249.52" width="4.10" height="5.06" fill="#506186"/>
<rect x="222.90" y="249.52" width="4.10" height="5.06" fill="#506186"/>
<rect x="226.30" y="249.52" width="4.10" height="5.06" fill="#506186"/>
<rect x="229.70" y="249.52" width="4.10" height="5.06" fill="#9baddb"/>
<rect x="233.10" y="249.52" width="4.10" height="5.06" fill="#506186"/>
<rect x="236.50" y="249.52" width="4.10" height="5.06" fill="#a8b8e0"/>
<rect x="239.90" y="249.52" width="4.10" height="5.06" fill="#9baddb"/>
<rect x="243.30" y="249.52" width="4.10" height="5.06" fill="#506186"/>
<rect x="246.70" y="249.52" width="4.10" height="5.06" fill="#506186"/>
<rect x="250.10" y="249.52" width="4.10" height="5.06" fill="#a8b8e0"/>
<rect x="253.50" y="249.52" width="4.10" height="5.06" fill="#91a5d6"/>
<rect x="256.90" y="249.52" width="4.10" height="5.06" fill="#9baddb"/>
<rect x="260.30" y="249.52" width="4.10" height="5.06" fill="#506186"/>
<rect x="263.70" y="249.52" width="4.10" height="5.06" fill="#9baddb"/>
<rect x="267.10" y="249.52" width="4.10" height="5.06" fill="#91a5d6"/>
<rect x="270.50" y="249.52" width="4.10" height="5.06" fill="#91a5d6"/>
<rect x="273.90" y="249.52" width="4.10" height="5.06" fill="#9baddb"/>
<rect x="277.30" y="249.52" width="4.10" height="5.06" fill="#506186"/>
<rect x="280.70" y="249.52" width="4.10" height="5.06" fill="#a8b8e0"/>
<rect x="284.10" y="249.52" width="4.10" height="5.06" fill="#9baddb"/>
<rect x="287.50" y="249.52" width="4.10" height="5.06" fill="#506186"/>
<rect x="290.90" y="249.52" width="4.10" height="5.06" fill="#506186"/>
<rect x="294.30" y="249.52" width="4.10" height="5.06" fill="#506186"/>
<rect x="297.70" y="249.52" width="4.10" height="5.06" fill="#506186"/>
<rect x="301.10" y="249.52" width="4.10" height="5.06" fill="#506186"/>
<rect x="304.50" y="249.52" width="4.10" height="5.06" fill="#a8b8e0"/>
<rect x="205.90" y="253.88" width="4.10" height="5.06" fill="#9baddb"/>
<rect x="209.30" y="253.88" width="4.10" height="5.06" fill="#506186"/>
<rect x="212.70" y="253.88" width="4.10" height="5.06" fill="#91a5d6"/>
<rect x="216.10" y="253.88" width="4.10" height="5.06" fill="#9baddb"/>
<rect x="219.50" y="253.88" width="4.10" height="5.06" fill="#91a5d6"/>
<rect x="222.90" y="253.88" width="4.10" height="5.06" fill="#506186"/>
<rect x="226.30" y="253.88" width="4.10" height="5.06" fill="#506186"/>
<rect x="229.70" y="253.88" width="4.10" height="5.06" fill="#9baddb"/>
<rect x="233.10" y="253.88" width="4.10" height="5.06" fill="#506186"/>
<rect x="236.50" y="253.88" width="4.10" height="5.06" fill="#a8b8e0"/>
<rect x="239.90" y="253.88" width="4.10" height="5.06" fill="#9baddb"/>
<rect x="243.30" y="253.88" width="4.10" height="5.06" fill="#506186"/>
<rect x="246.70" y="253.88" width="4.10" height="5.06" fill="#9baddb"/>
<rect x="250.10" y="253.88" width="4.10" height="5.06" fill="#a8b8e0"/>
<rect x="253.50" y="253.88" width="4.10" height="5.06" fill="#91a5d6"/>
<rect x="256.90" y="253.88" width="4.10" height="5.06" fill="#9baddb"/>
<rect x="260.30" y="253.88" width="4.10" height="5.06" fill="#91a5d6"/>
<rect x="263.70" y="253.88" width="4.10" height="5.06" fill="#9baddb"/>
<rect x="267.10" y="253.88" width="4.10" height="5.06" fill="#91a5d6"/>
<rect x="270.50" y="253.88" width="4.10" height="5.06" fill="#91a5d6"/>
<rect x="273.90" y="253.88" width="4.10" height="5.06" fill="#9baddb"/>
<rect x="277.30" y="253.88" width="4.10" height="5.06" fill="#9baddb"/>
<rect x="280.70" y="253.88" width="4.10" height="5.06" fill="#a8b8e0"/>
<rect x="284.10" y="253.88" width="4.10" height="5.06" fill="#9baddb"/>
<rect x="287.50" y="253.88" width="4.10" height="5.06" fill="#91a5d6"/>
<rect x="290.90" y="253.88" width="4.10" height="5.06" fill="#506186"/>
<rect x="294.30" y="253.88" width="4.10" height="5.06" fill="#9baddb"/>
<rect x="297.70" y="253.88" width="4.10" height="5.06" fill="#91a5d6"/>
<rect x="301.10" y="253.88" width="4.10" height="5.06" fill="#506186"/>
<rect x="304.50" y="253.88" width="4.10" height="5.06" fill="#a8b8e0"/>
<rect x="205.90" y="258.24" width="4.10" height="5.06" fill="#9baddb"/>
<rect x="209.30" y="258.24" width="4.10" height="5.06" fill="#91a5d6"/>
<rect x="212.70" y="258.24" width="4.10" height="5.06" fill="#91a5d6"/>
<rect x="216.10" y="258.24" width="4.10" height="5.06" fill="#9baddb"/>
<rect x="219.50" y="258.24" width="4.10" height="5.06" fill="#91a5d6"/>
<rect x="222.90" y="258.24" width="4.10" height="5.06" fill="#506186"/>
<rect x="226.30" y="258.24" width="4.10" height="5.06" fill="#506186"/>
<rect x="229.70" y="258.24" width="4.10" height="5.06" fill="#9baddb"/>
<rect x="233.10" y="258.24" width="4.10" height="5.06" fill="#506186"/>
<rect x="236.50" y="258.24" width="4.10" height="5.06" fill="#a8b8e0"/>
<rect x="239.90" y="258.24" width="4.10" height="5.06" fill="#9baddb"/>
<rect x="243.30" y="258.24" width="4.10" height="5.06" fill="#506186"/>
<rect x="246.70" y="258.24" width="4.10" height="5.06" fill="#9baddb"/>
<rect x="250.10" y="258.24" width="4.10" height="5.06" fill="#a8b8e0"/>
<rect x="253.50" y="258.24" width="4.10" height="5.06" fill="#91a5d6"/>
<rect x="256.90" y="258.24" width="4.10" height="5.06" fill="#9baddb"/>
<rect x="260.30" y="258.24" width="4.10" height="5.06" fill="#91a5d6"/>
<rect x="263.70" y="258.24" width="4.10" height="5.06" fill="#9baddb"/>
<rect x="267.10" y="258.24" width="4.10" height="5.06" fill="#91a5d6"/>
<rect x="270.50" y="258.24" width="4.10" height="5.06" fill="#91a5d6"/>
<rect x="273.90" y="258.24" width="4.10" height="5.06" fill="#9baddb"/>
<rect x="277.30" y="258.24" width="4.10" height="5.06" fill="#9baddb"/>
<rect x="280.70" y="258.24" width="4.10" height="5.06" fill="#a8b8e0"/>
<rect x="284.10" y="258.24" width="4.10" height="5.06" fill="#9baddb"/>
<rect x="287.50" y="258.24" width="4.10" height="5.06" fill="#91a5d6"/>
<rect x="290.90" y="258.24" width="4.10" height="5.06" fill="#506186"/>
<rect x="294.30" y="258.24" width="4.10" height="5.06" fill="#9baddb"/>
<rect x="297.70" y="258.24" width="4.10" height="5.06" fill="#91a5d6"/>
<rect x="301.10" y="258.24" width="4.10" height="5.06" fill="#506186"/>
<rect x="304.50" y="258.24" width="4.10" height="5.06" fill="#a8b8e0"/>
<rect x="205.90" y="262.60" width="4.10" height="5.06" fill="#506186"/>
<rect x="209.30" y="262.60" width="4.10" height="5.06" fill="#506186"/>
<rect x="212.70" y="262.60" width="4.10" height="5.06" fill="#506186"/>
<rect x="216.10" y="262.60" width="4.10" height="5.06" fill="#506186"/>
<rect x="219.50" y="262.60" width="4.10" height="5.06" fill="#506186"/>
<rect x="222.90" y="262.60" width="4.10" height="5.06" fill="#506186"/>
<rect x="226.30" y="262.60" width="4.10" height="5.06" fill="#506186"/>
<rect x="229.70" y="262.60" width="4.10" height="5.06" fill="#506186"/>
<rect x="233.10" y="262.60" width="4.10" height="5.06" fill="#506186"/>
<rect x="236.50" y="262.60" width="4.10" height="5.06" fill="#506186"/>
<rect x="239.90" y="262.60" width="4.10" height="5.06" fill="#506186"/>
<rect x="243.30" y="262.60" width="4.10" height="5.06" fill="#506186"/>
<rect x="246.70" y="262.60" width="4.10" height="5.06" fill="#506186"/>
<rect x="250.10" y="262.60" width="4.10" height="5.06" fill="#506186"/>
<rect x="253.50" y="262.60" width="4.10" height="5.06" fill="#506186"/>
<rect x="256.90" y="262.60" width="4.10" height="5.06" fill="#506186"/>
<rect x="260.30" y="262.60" width="4.10" height="5.06" fill="#506186"/>
<rect x="263.70" y="262.60" width="4.10" height="5.06" fill="#506186"/>
<rect x="267.10" y="262.60" width="4.10" height="5.06" fill="#506186"/>
<rect x="270.50" y="262.60" width="4.10" height="5.06" fill="#506186"/>
<rect x="273.90" y="262.60" width="4.10" height="5.06" fill="#506186"/>
<rect x="277.30" y="262.60" width="4.10" height="5.06" fill="#506186"/>
<rect x="280.70" y="262.60" width="4.10" height="5.06" fill="#506186"/>
<rect x="284.10" y="262.60" width="4.10" height="5.06" fill="#506186"/>
<rect x="287.50" y="262.60" width="4.10" height="5.06" fill="#506186"/>
<rect x="290.90" y="262.60" width="4.10" height="5.06" fill="#506186"/>
<rect x="294.30" y="262.60" width="4.10" height="5.06" fill="#506186"/>
<rect x="297.70" y="262.60" width="4.10" height="5.06" fill="#506186"/>
<rect x="301.10" y="262.60" width="4.10" height="5.06" fill="#506186"/>
<rect x="304.50" y="262.60" width="4.10" height="5.06" fill="#506186"/>
<rect x="205.90" y="266.96" width="4.10" height="5.06" fill="#506186"/>
<rect x="209.30" y="266.96" width="4.10" height="5.06" fill="#506186"/>
<rect x="212.70" y="266.96" width="4.10" height="5.06" fill="#91a5d6"/>
<rect x="216.10" y="266.96" width="4.10" height="5.06" fill="#9baddb"/>
<rect x="219.50" y="266.96" width="4.10" height="5.06" fill="#506186"/>
<rect x="222.90" y="266.96" width="4.10" height="5.06" fill="#506186"/>
<rect x="226.30" y="266.96" width="4.10" height="5.06" fill="#506186"/>
<rect x="229.70" y="266.96" width="4.10" height="5.06" fill="#9baddb"/>
<rect x="233.10" y="266.96" width="4.10" height="5.06" fill="#506186"/>
<rect x="236.50" y="266.96" width="4.10" height="5.06" fill="#a8b8e0"/>
<rect x="239.90" y="266.96" width="4.10" height="5.06" fill="#506186"/>
<rect x="243.30" y="266.96" width="4.10" height="5.06" fill="#506186"/>
<rect x="246.70" y="266.96" width="4.10" height="5.06" fill="#506186"/>
<rect x="250.10" y="266.96" width="4.10" height="5.06" fill="#a8b8e0"/>
<rect x="253.50" y="266.96" width="4.10" height="5.06" fill="#91a5d6"/>
<rect x="256.90" y="266.96" width="4.10" height="5.06" fill="#9baddb"/>
<rect x="260.30" y="266.96" width="4.10" height="5.06" fill="#506186"/>
<rect x="263.70" y="266.96" width="4.10" height="5.06" fill="#9baddb"/>
<rect x="267.10" y="266.96" width="4.10" height="5.06" fill="#506186"/>
<rect x="270.50" y="266.96" width="4.10" height="5.06" fill="#506186"/>
<rect x="273.90" y="266.96" width="4.10" height="5.06" fill="#506186"/>
<rect x="277.30" y="266.96" width="4.10" height="5.06" fill="#506186"/>
<rect x="280.70" y="266.96" width="4.10" height="5.06" fill="#a8b8e0"/>
<rect x="284.10" y="266.96" width="4.10" height="5.06" fill="#506186"/>
<rect x="287.50" y="266.96" width="4.10" height="5.06" fill="#506186"/>
<rect x="290.90" y="266.96" width="4.10" height="5.06" fill="#506186"/>
<rect x="294.30" y="266.96" width="4.10" height="5.06" fill="#506186"/>
<rect x="297.70" y="266.96" width="4.10" height="5.06" fill="#506186"/>
<rect x="301.10" y="266.96" width="4.10" height="5.06" fill="#506186"/>
<rect x="304.50" y="266.96" width="4.10" height="5.06" fill="#a8b8e0"/>
</g>
<rect x="306.1" y="262.6" width="2.8" height="4.36" fill="#506186"/>
<line x1="54.2" y1="221.1" x2="56" y2="221.1" stroke="#333" stroke-width="0.7"/>
<text transform="translate(54.2,225.1) rotate(-28)" font-size="9.2" text-anchor="end" fill="#111">Jan.</text>
<line x1="54.2" y1="229.6" x2="56" y2="229.6" stroke="#333" stroke-width="0.7"/>
<text transform="translate(54.2,233.6) rotate(-28)" font-size="9.2" text-anchor="end" fill="#111">Mar.</text>
<line x1="54.2" y1="246.4" x2="56" y2="246.4" stroke="#333" stroke-width="0.7"/>
<text transform="translate(54.2,250.4) rotate(-28)" font-size="9.2" text-anchor="end" fill="#111">Jul.</text>
<line x1="54.2" y1="267.5" x2="56" y2="267.5" stroke="#333" stroke-width="0.7"/>
<text transform="translate(54.2,271.5) rotate(-28)" font-size="9.2" text-anchor="end" fill="#111">Dec.</text>
<line x1="204.1" y1="229.9" x2="205.9" y2="229.9" stroke="#333" stroke-width="0.7"/>
<text transform="translate(204.1,233.9) rotate(-28)" font-size="9.2" text-anchor="end" fill="#111">Mar.</text>
<line x1="204.1" y1="247.3" x2="205.9" y2="247.3" stroke="#333" stroke-width="0.7"/>
<text transform="translate(204.1,251.3) rotate(-28)" font-size="9.2" text-anchor="end" fill="#111">Jul.</text>
<line x1="204.1" y1="264.8" x2="205.9" y2="264.8" stroke="#333" stroke-width="0.7"/>
<text transform="translate(204.1,268.8) rotate(-28)" font-size="9.2" text-anchor="end" fill="#111">Nov.</text>
<line x1="56.0" y1="269.6" x2="56.0" y2="271.40000000000003" stroke="#333" stroke-width="0.7"/>
<text x="56.00" y="278.80" font-size="10.6" text-anchor="middle" fill="#111" >1</text>
<line x1="104.8" y1="269.6" x2="104.8" y2="271.40000000000003" stroke="#333" stroke-width="0.7"/>
<text x="104.82" y="278.80" font-size="10.6" text-anchor="middle" fill="#111" >15</text>
<line x1="157.1" y1="269.6" x2="157.1" y2="271.40000000000003" stroke="#333" stroke-width="0.7"/>
<text x="157.12" y="278.80" font-size="10.6" text-anchor="middle" fill="#111" >30</text>
<text x="108.00" y="287.80" font-size="11.4" text-anchor="middle" fill="#111" >day</text>
<line x1="205.9" y1="271.3" x2="205.9" y2="273.1" stroke="#333" stroke-width="0.7"/>
<text x="205.90" y="280.50" font-size="10.6" text-anchor="middle" fill="#111" >1</text>
<line x1="253.5" y1="271.3" x2="253.5" y2="273.1" stroke="#333" stroke-width="0.7"/>
<text x="253.50" y="280.50" font-size="10.6" text-anchor="middle" fill="#111" >15</text>
<line x1="304.5" y1="271.3" x2="304.5" y2="273.1" stroke="#333" stroke-width="0.7"/>
<text x="304.50" y="280.50" font-size="10.6" text-anchor="middle" fill="#111" >30</text>
<text x="256.50" y="289.50" font-size="11.4" text-anchor="middle" fill="#111" >day</text>
<defs><linearGradient id="cb" x1="0" y1="0" x2="0" y2="1"><stop offset="0" stop-color="#46567c"/><stop offset="0.5" stop-color="#7a92cc"/><stop offset="1" stop-color="#c3cdef"/></linearGradient></defs>
<rect x="313.9" y="218.7" width="3.6" height="52.7" fill="url(#cb)"/>
<line x1="317.5" y1="220.3" x2="319" y2="220.3" stroke="#333" stroke-width="0.6"/>
<text x="319.40" y="223.50" font-size="9.4" text-anchor="start" fill="#111" >1.0</text>
<line x1="317.5" y1="230.5" x2="319" y2="230.5" stroke="#333" stroke-width="0.6"/>
<text x="319.40" y="233.70" font-size="9.4" text-anchor="start" fill="#111" >0.8</text>
<line x1="317.5" y1="240.7" x2="319" y2="240.7" stroke="#333" stroke-width="0.6"/>
<text x="319.40" y="243.90" font-size="9.4" text-anchor="start" fill="#111" >0.6</text>
<line x1="317.5" y1="250.9" x2="319" y2="250.9" stroke="#333" stroke-width="0.6"/>
<text x="319.40" y="254.10" font-size="9.4" text-anchor="start" fill="#111" >0.4</text>
<line x1="317.5" y1="261.1" x2="319" y2="261.1" stroke="#333" stroke-width="0.6"/>
<text x="319.40" y="264.30" font-size="9.4" text-anchor="start" fill="#111" >0.2</text>
<line x1="317.5" y1="271.3" x2="319" y2="271.3" stroke="#333" stroke-width="0.6"/>
<text x="319.40" y="274.50" font-size="9.4" text-anchor="start" fill="#111" >0.0</text>
<text x="121.90" y="303.90" font-size="12" text-anchor="start" fill="#111" >(b) time-aware shapelets</text>
<path d="M343.3,149.3H373V142.3L388.8,159.4L373,175.9V168.8H343.3Z" fill="#9a9b9f"/>
<text x="419.70" y="36.70" font-size="12.7" text-anchor="start" fill="#111" >abnormal transition:</text>
<text x="522.40" y="58.50" font-size="12.7" text-anchor="end" fill="#111" >normal transition:</text>
<circle cx="535.9" cy="31.7" r="7.4" fill="#7dba7d"/>
<circle cx="565.8" cy="31.7" r="6.6" fill="#faf5c6" stroke="#f2e23c" stroke-width="1.6"/>
<circle cx="593.5" cy="31.7" r="7.4" fill="#8cbce6"/>
<line x1="538.9" y1="31.7" x2="554.4" y2="31.7" stroke="#1a1a1a" stroke-width="1.8"/>
<path d="M558.6,31.7L554.4,33.8L554.4,29.6Z" fill="#1a1a1a"/>
<line x1="568.8" y1="31.7" x2="582.1" y2="31.7" stroke="#1a1a1a" stroke-width="1.8"/>
<path d="M586.3,31.7L582.1,33.8L582.1,29.6Z" fill="#1a1a1a"/>
<text x="535.90" y="34.70" font-size="8.6" text-anchor="middle" fill="#111" >85</text>
<text x="565.80" y="34.70" font-size="8.6" text-anchor="middle" fill="#111" >72</text>
<text x="593.50" y="34.70" font-size="8.6" text-anchor="middle" fill="#111" >7</text>
<circle cx="535.9" cy="55" r="7.4" fill="#b77fba"/>
<circle cx="565.8" cy="55" r="7.4" fill="#f1c6df"/>
<circle cx="593.5" cy="55" r="7.4" fill="#7dba7d"/>
<line x1="538.9" y1="55.0" x2="554.4" y2="55.0" stroke="#1a1a1a" stroke-width="1.8"/>
<path d="M558.6,55.0L554.4,57.1L554.4,52.9Z" fill="#1a1a1a"/>
<line x1="568.8" y1="55.0" x2="582.1" y2="55.0" stroke="#1a1a1a" stroke-width="1.8"/>
<path d="M586.3,55.0L582.1,57.1L582.1,52.9Z" fill="#1a1a1a"/>
<text x="535.90" y="58.00" font-size="8.6" text-anchor="middle" fill="#111" >90</text>
<text x="565.80" y="58.00" font-size="8.6" text-anchor="middle" fill="#111" >67</text>
<text x="593.50" y="58.00" font-size="8.6" text-anchor="middle" fill="#111" >85</text>
<line x1="473.3" y1="89.7" x2="419.5" y2="132.2" stroke="#b4b4b4" stroke-width="0.7"/>
<line x1="473.3" y1="89.7" x2="508.1" y2="101.9" stroke="#8e8e8e" stroke-width="0.7"/>
<line x1="473.3" y1="89.7" x2="440.0" y2="227.9" stroke="#d2d2d2" stroke-width="0.7"/>
<line x1="473.3" y1="89.7" x2="487.7" y2="151.1" stroke="#d2d2d2" stroke-width="0.7"/>
<line x1="497.0" y1="84.3" x2="508.1" y2="101.9" stroke="#8e8e8e" stroke-width="0.7"/>
<line x1="497.0" y1="84.3" x2="412.8" y2="172.8" stroke="#b4b4b4" stroke-width="0.7"/>
<line x1="564.5" y1="95.0" x2="495.8" y2="151.2" stroke="#b4b4b4" stroke-width="0.7"/>
<line x1="564.5" y1="95.0" x2="412.8" y2="172.8" stroke="#8e8e8e" stroke-width="0.7"/>
<line x1="465.6" y1="112.0" x2="495.8" y2="151.2" stroke="#8e8e8e" stroke-width="0.7"/>
<line x1="454.5" y1="113.6" x2="557.5" y2="144.0" stroke="#b4b4b4" stroke-width="0.7"/>
<line x1="454.5" y1="113.6" x2="483.6" y2="156.0" stroke="#b4b4b4" stroke-width="0.7"/>
<line x1="454.5" y1="113.6" x2="505.8" y2="221.9" stroke="#d2d2d2" stroke-width="0.7"/>
<line x1="454.5" y1="113.6" x2="492.1" y2="177.0" stroke="#d2d2d2" stroke-width="0.7"/>
<line x1="419.5" y1="132.2" x2="487.7" y2="151.1" stroke="#b4b4b4" stroke-width="0.7"/>
<line x1="568.2" y1="113.1" x2="569.5" y2="135.8" stroke="#8e8e8e" stroke-width="0.7"/>
<line x1="568.2" y1="113.1" x2="605.7" y2="227.9" stroke="#b4b4b4" stroke-width="0.7"/>
<line x1="568.2" y1="113.1" x2="483.0" y2="271.8" stroke="#8e8e8e" stroke-width="0.7"/>
<line x1="508.1" y1="101.9" x2="455.2" y2="144.7" stroke="#8e8e8e" stroke-width="0.7"/>
<line x1="508.1" y1="101.9" x2="616.5" y2="181.8" stroke="#d2d2d2" stroke-width="0.7"/>
<line x1="508.1" y1="101.9" x2="475.0" y2="222.7" stroke="#d2d2d2" stroke-width="0.7"/>
<line x1="544.4" y1="132.9" x2="491.1" y2="136.4" stroke="#b4b4b4" stroke-width="0.7"/>
<line x1="569.5" y1="135.8" x2="477.9" y2="259.9" stroke="#b4b4b4" stroke-width="0.7"/>
<line x1="569.5" y1="135.8" x2="600.9" y2="165.5" stroke="#d2d2d2" stroke-width="0.7"/>
<line x1="569.5" y1="135.8" x2="610.8" y2="146.2" stroke="#b4b4b4" stroke-width="0.7"/>
<line x1="569.5" y1="135.8" x2="543.2" y2="220.0" stroke="#d2d2d2" stroke-width="0.7"/>
<line x1="455.2" y1="144.7" x2="420.8" y2="159.8" stroke="#d2d2d2" stroke-width="0.7"/>
<line x1="455.2" y1="144.7" x2="551.0" y2="196.0" stroke="#d2d2d2" stroke-width="0.7"/>
<line x1="495.8" y1="151.2" x2="569.2" y2="170.9" stroke="#d2d2d2" stroke-width="0.7"/>
<line x1="495.8" y1="151.2" x2="440.0" y2="227.9" stroke="#8e8e8e" stroke-width="0.7"/>
<line x1="495.8" y1="151.2" x2="465.9" y2="265.8" stroke="#8e8e8e" stroke-width="0.7"/>
<line x1="495.8" y1="151.2" x2="501.8" y2="225.9" stroke="#d2d2d2" stroke-width="0.7"/>
<line x1="483.6" y1="156.0" x2="569.2" y2="170.9" stroke="#d2d2d2" stroke-width="0.7"/>
<line x1="483.6" y1="156.0" x2="483.0" y2="271.8" stroke="#b4b4b4" stroke-width="0.7"/>
<line x1="420.8" y1="159.8" x2="451.7" y2="240.5" stroke="#d2d2d2" stroke-width="0.7"/>
<line x1="525.3" y1="164.7" x2="515.2" y2="183.5" stroke="#d2d2d2" stroke-width="0.7"/>
<line x1="569.2" y1="170.9" x2="551.0" y2="196.0" stroke="#d2d2d2" stroke-width="0.7"/>
<line x1="569.2" y1="170.9" x2="575.7" y2="229.1" stroke="#d2d2d2" stroke-width="0.7"/>
<line x1="614.9" y1="173.2" x2="515.2" y2="183.5" stroke="#8e8e8e" stroke-width="0.7"/>
<line x1="614.9" y1="173.2" x2="600.9" y2="165.5" stroke="#8e8e8e" stroke-width="0.7"/>
<line x1="614.9" y1="173.2" x2="545.5" y2="195.4" stroke="#8e8e8e" stroke-width="0.7"/>
<line x1="616.5" y1="181.8" x2="440.0" y2="227.9" stroke="#d2d2d2" stroke-width="0.7"/>
<line x1="616.5" y1="181.8" x2="575.7" y2="229.1" stroke="#d2d2d2" stroke-width="0.7"/>
<line x1="616.5" y1="181.8" x2="600.9" y2="165.5" stroke="#b4b4b4" stroke-width="0.7"/>
<line x1="616.5" y1="181.8" x2="469.3" y2="122.5" stroke="#d2d2d2" stroke-width="0.7"/>
<line x1="515.2" y1="183.5" x2="483.0" y2="185.2" stroke="#b4b4b4" stroke-width="0.7"/>
<line x1="515.2" y1="183.5" x2="499.4" y2="205.1" stroke="#d2d2d2" stroke-width="0.7"/>
<line x1="412.8" y1="183.8" x2="605.7" y2="211.9" stroke="#d2d2d2" stroke-width="0.7"/>
<line x1="412.8" y1="183.8" x2="451.7" y2="240.5" stroke="#b4b4b4" stroke-width="0.7"/>
<line x1="403.2" y1="186.8" x2="477.9" y2="259.9" stroke="#d2d2d2" stroke-width="0.7"/>
<line x1="403.2" y1="186.8" x2="535.8" y2="265.0" stroke="#d2d2d2" stroke-width="0.7"/>
<line x1="403.2" y1="186.8" x2="413.8" y2="137.2" stroke="#b4b4b4" stroke-width="0.7"/>
<line x1="483.0" y1="185.2" x2="600.9" y2="165.5" stroke="#8e8e8e" stroke-width="0.7"/>
<line x1="412.8" y1="172.8" x2="468.9" y2="110.2" stroke="#d2d2d2" stroke-width="0.7"/>
<line x1="412.8" y1="172.8" x2="475.0" y2="222.7" stroke="#b4b4b4" stroke-width="0.7"/>
<line x1="551.0" y1="196.0" x2="593.7" y2="192.0" stroke="#d2d2d2" stroke-width="0.7"/>
<line x1="551.0" y1="196.0" x2="443.1" y2="247.1" stroke="#b4b4b4" stroke-width="0.7"/>
<line x1="551.0" y1="196.0" x2="600.9" y2="165.5" stroke="#b4b4b4" stroke-width="0.7"/>
<line x1="593.7" y1="192.0" x2="575.7" y2="229.1" stroke="#8e8e8e" stroke-width="0.7"/>
<line x1="593.7" y1="192.0" x2="483.0" y2="271.8" stroke="#d2d2d2" stroke-width="0.7"/>
<line x1="436.0" y1="215.9" x2="477.9" y2="259.9" stroke="#d2d2d2" stroke-width="0.7"/>
<line x1="436.0" y1="215.9" x2="535.8" y2="265.0" stroke="#8e8e8e" stroke-width="0.7"/>
<line x1="436.0" y1="215.9" x2="451.7" y2="240.5" stroke="#8e8e8e" stroke-width="0.7"/>
<line x1="440.0" y1="227.9" x2="505.8" y2="221.9" stroke="#8e8e8e" stroke-width="0.7"/>
<line x1="440.0" y1="227.9" x2="483.0" y2="271.8" stroke="#d2d2d2" stroke-width="0.7"/>
<line x1="440.0" y1="227.9" x2="544.2" y2="243.4" stroke="#8e8e8e" stroke-width="0.7"/>
<line x1="440.0" y1="227.9" x2="469.4" y2="193.9" stroke="#b4b4b4" stroke-width="0.7"/>
<line x1="505.8" y1="221.9" x2="575.7" y2="229.1" stroke="#d2d2d2" stroke-width="0.7"/>
<line x1="505.8" y1="221.9" x2="443.1" y2="247.1" stroke="#b4b4b4" stroke-width="0.7"/>
<line x1="505.8" y1="221.9" x2="465.9" y2="265.8" stroke="#d2d2d2" stroke-width="0.7"/>
<line x1="505.8" y1="221.9" x2="535.8" y2="265.0" stroke="#b4b4b4" stroke-width="0.7"/>
<line x1="605.7" y1="211.9" x2="529.8" y2="273.8" stroke="#d2d2d2" stroke-width="0.7"/>
<line x1="605.7" y1="211.9" x2="600.9" y2="165.5" stroke="#d2d2d2" stroke-width="0.7"/>
<line x1="605.7" y1="211.9" x2="562.5" y2="256.6" stroke="#b4b4b4" stroke-width="0.7"/>
<line x1="575.7" y1="229.1" x2="535.8" y2="265.0" stroke="#8e8e8e" stroke-width="0.7"/>
<line x1="575.7" y1="229.1" x2="575.0" y2="262.7" stroke="#b4b4b4" stroke-width="0.7"/>
<line x1="575.7" y1="229.1" x2="610.8" y2="146.2" stroke="#b4b4b4" stroke-width="0.7"/>
<line x1="605.7" y1="227.9" x2="501.8" y2="225.9" stroke="#b4b4b4" stroke-width="0.7"/>
<line x1="605.7" y1="227.9" x2="487.7" y2="151.1" stroke="#8e8e8e" stroke-width="0.7"/>
<line x1="435.1" y1="241.9" x2="483.0" y2="271.8" stroke="#d2d2d2" stroke-width="0.7"/>
<line x1="435.1" y1="241.9" x2="535.8" y2="265.0" stroke="#d2d2d2" stroke-width="0.7"/>
<line x1="443.1" y1="247.1" x2="465.9" y2="265.8" stroke="#8e8e8e" stroke-width="0.7"/>
<line x1="443.1" y1="247.1" x2="477.9" y2="259.9" stroke="#d2d2d2" stroke-width="0.7"/>
<line x1="443.1" y1="247.1" x2="492.1" y2="177.0" stroke="#8e8e8e" stroke-width="0.7"/>
<line x1="443.1" y1="247.1" x2="451.7" y2="240.5" stroke="#b4b4b4" stroke-width="0.7"/>
<line x1="465.9" y1="265.8" x2="535.8" y2="265.0" stroke="#b4b4b4" stroke-width="0.7"/>
<line x1="465.9" y1="265.8" x2="517.5" y2="263.9" stroke="#d2d2d2" stroke-width="0.7"/>
<line x1="477.9" y1="259.9" x2="483.0" y2="271.8" stroke="#d2d2d2" stroke-width="0.7"/>
<line x1="477.9" y1="259.9" x2="514.3" y2="266.2" stroke="#d2d2d2" stroke-width="0.7"/>
<line x1="483.0" y1="271.8" x2="529.8" y2="273.8" stroke="#d2d2d2" stroke-width="0.7"/>
<line x1="483.0" y1="271.8" x2="541.9" y2="273.3" stroke="#d2d2d2" stroke-width="0.7"/>
<line x1="535.8" y1="265.0" x2="600.9" y2="165.5" stroke="#d2d2d2" stroke-width="0.7"/>
<line x1="535.8" y1="265.0" x2="561.5" y2="100.2" stroke="#b4b4b4" stroke-width="0.7"/>
<line x1="535.8" y1="265.0" x2="562.2" y2="90.8" stroke="#b4b4b4" stroke-width="0.7"/>
<line x1="535.8" y1="265.0" x2="458.3" y2="212.0" stroke="#8e8e8e" stroke-width="0.7"/>
<line x1="529.8" y1="273.8" x2="571.7" y2="249.9" stroke="#8e8e8e" stroke-width="0.7"/>
<line x1="529.8" y1="273.8" x2="557.7" y2="200.3" stroke="#8e8e8e" stroke-width="0.7"/>
<line x1="576.5" y1="257.1" x2="501.8" y2="225.9" stroke="#d2d2d2" stroke-width="0.7"/>
<line x1="571.7" y1="249.9" x2="600.9" y2="165.5" stroke="#b4b4b4" stroke-width="0.7"/>
<line x1="571.7" y1="249.9" x2="578.7" y2="234.0" stroke="#d2d2d2" stroke-width="0.7"/>
<line x1="571.7" y1="249.9" x2="563.7" y2="163.4" stroke="#d2d2d2" stroke-width="0.7"/>
<line x1="501.8" y1="225.9" x2="451.7" y2="240.5" stroke="#8e8e8e" stroke-width="0.7"/>
<line x1="400.9" y1="177.4" x2="480.3" y2="112.5" stroke="#d2d2d2" stroke-width="0.7"/>
<line x1="468.9" y1="110.2" x2="475.2" y2="143.0" stroke="#8e8e8e" stroke-width="0.7"/>
<line x1="568.0" y1="244.9" x2="521.7" y2="271.6" stroke="#d2d2d2" stroke-width="0.7"/>
<line x1="568.0" y1="244.9" x2="480.3" y2="112.5" stroke="#d2d2d2" stroke-width="0.7"/>
<line x1="475.2" y1="143.0" x2="541.9" y2="273.3" stroke="#d2d2d2" stroke-width="0.7"/>
<line x1="475.2" y1="143.0" x2="480.3" y2="112.5" stroke="#d2d2d2" stroke-width="0.7"/>
<line x1="557.7" y1="200.3" x2="558.8" y2="200.8" stroke="#d2d2d2" stroke-width="0.7"/>
<line x1="410.5" y1="175.9" x2="451.7" y2="240.5" stroke="#8e8e8e" stroke-width="0.7"/>
<line x1="410.5" y1="175.9" x2="472.8" y2="228.6" stroke="#8e8e8e" stroke-width="0.7"/>
<line x1="410.5" y1="175.9" x2="563.7" y2="163.4" stroke="#b4b4b4" stroke-width="0.7"/>
<line x1="558.8" y1="200.8" x2="575.0" y2="262.7" stroke="#d2d2d2" stroke-width="0.7"/>
<line x1="558.8" y1="200.8" x2="487.7" y2="151.1" stroke="#8e8e8e" stroke-width="0.7"/>
<line x1="521.7" y1="271.6" x2="575.5" y2="192.6" stroke="#d2d2d2" stroke-width="0.7"/>
<line x1="413.7" y1="143.2" x2="560.2" y2="178.8" stroke="#8e8e8e" stroke-width="0.7"/>
<line x1="413.8" y1="137.2" x2="469.3" y2="122.5" stroke="#8e8e8e" stroke-width="0.7"/>
<line x1="536.0" y1="151.7" x2="587.3" y2="139.6" stroke="#d2d2d2" stroke-width="0.7"/>
<line x1="562.2" y1="90.8" x2="544.2" y2="243.4" stroke="#8e8e8e" stroke-width="0.7"/>
<line x1="487.7" y1="151.1" x2="499.4" y2="205.1" stroke="#8e8e8e" stroke-width="0.7"/>
<line x1="610.8" y1="146.2" x2="563.7" y2="163.4" stroke="#d2d2d2" stroke-width="0.7"/>
<line x1="535.0" y1="152.6" x2="545.5" y2="195.4" stroke="#8e8e8e" stroke-width="0.7"/>
<line x1="563.7" y1="163.4" x2="469.4" y2="193.9" stroke="#d2d2d2" stroke-width="0.7"/>
<line x1="480.3" y1="112.5" x2="469.4" y2="193.9" stroke="#8e8e8e" stroke-width="0.7"/>
<line x1="543.2" y1="220.0" x2="441.2" y2="234.6" stroke="#8e8e8e" stroke-width="0.7"/>
<line x1="441.2" y1="234.6" x2="472.8" y2="167.3" stroke="#8e8e8e" stroke-width="0.7"/>
<line x1="441.2" y1="234.6" x2="496.2" y2="96.6" stroke="#d2d2d2" stroke-width="0.7"/>
<line x1="472.8" y1="167.3" x2="475.0" y2="222.7" stroke="#d2d2d2" stroke-width="0.7"/>
<line x1="560.2" y1="178.8" x2="509.4" y2="210.3" stroke="#b4b4b4" stroke-width="0.7"/>
<circle cx="501.8" cy="225.9" r="0.9" fill="#9a9a9a"/>
<circle cx="492.1" cy="177.0" r="0.9" fill="#9a9a9a"/>
<circle cx="400.9" cy="177.4" r="0.9" fill="#9a9a9a"/>
<circle cx="561.5" cy="100.2" r="0.9" fill="#9a9a9a"/>
<circle cx="435.0" cy="207.0" r="0.9" fill="#9a9a9a"/>
<circle cx="468.9" cy="110.2" r="0.9" fill="#9a9a9a"/>
<circle cx="568.0" cy="244.9" r="0.9" fill="#9a9a9a"/>
<circle cx="475.2" cy="143.0" r="0.9" fill="#9a9a9a"/>
<circle cx="557.7" cy="200.3" r="0.9" fill="#9a9a9a"/>
<circle cx="410.5" cy="175.9" r="0.9" fill="#9a9a9a"/>
<circle cx="488.0" cy="251.0" r="0.9" fill="#9a9a9a"/>
<circle cx="558.8" cy="200.8" r="0.9" fill="#9a9a9a"/>
<circle cx="521.7" cy="271.6" r="0.9" fill="#9a9a9a"/>
<circle cx="451.7" cy="240.5" r="0.9" fill="#9a9a9a"/>
<circle cx="412.3" cy="152.4" r="0.9" fill="#9a9a9a"/>
<circle cx="413.7" cy="143.2" r="0.9" fill="#9a9a9a"/>
<circle cx="413.8" cy="137.2" r="0.9" fill="#9a9a9a"/>
<circle cx="575.0" cy="262.7" r="0.9" fill="#9a9a9a"/>
<circle cx="575.5" cy="192.6" r="0.9" fill="#9a9a9a"/>
<circle cx="536.0" cy="151.7" r="0.9" fill="#9a9a9a"/>
<circle cx="435.8" cy="167.0" r="0.9" fill="#9a9a9a"/>
<circle cx="562.2" cy="90.8" r="0.9" fill="#9a9a9a"/>
<circle cx="465.2" cy="221.0" r="0.9" fill="#9a9a9a"/>
<circle cx="562.6" cy="268.3" r="0.9" fill="#9a9a9a"/>
<circle cx="487.7" cy="151.1" r="0.9" fill="#9a9a9a"/>
<circle cx="578.7" cy="234.0" r="0.9" fill="#9a9a9a"/>
<circle cx="544.2" cy="243.4" r="0.9" fill="#9a9a9a"/>
<circle cx="541.9" cy="273.3" r="0.9" fill="#9a9a9a"/>
<circle cx="472.8" cy="228.6" r="0.9" fill="#9a9a9a"/>
<circle cx="610.8" cy="146.2" r="0.9" fill="#9a9a9a"/>
<circle cx="535.0" cy="152.6" r="0.9" fill="#9a9a9a"/>
<circle cx="501.4" cy="93.3" r="0.9" fill="#9a9a9a"/>
<circle cx="499.4" cy="205.1" r="0.9" fill="#9a9a9a"/>
<circle cx="563.7" cy="163.4" r="0.9" fill="#9a9a9a"/>
<circle cx="480.3" cy="112.5" r="0.9" fill="#9a9a9a"/>
<circle cx="575.8" cy="247.9" r="0.9" fill="#9a9a9a"/>
<circle cx="562.5" cy="256.6" r="0.9" fill="#9a9a9a"/>
<circle cx="543.2" cy="220.0" r="0.9" fill="#9a9a9a"/>
<circle cx="441.2" cy="234.6" r="0.9" fill="#9a9a9a"/>
<circle cx="472.8" cy="167.3" r="0.9" fill="#9a9a9a"/>
<circle cx="469.4" cy="193.9" r="0.9" fill="#9a9a9a"/>
<circle cx="545.5" cy="195.4" r="0.9" fill="#9a9a9a"/>
<circle cx="469.3" cy="122.5" r="0.9" fill="#9a9a9a"/>
<circle cx="587.3" cy="139.6" r="0.9" fill="#9a9a9a"/>
<circle cx="496.2" cy="96.6" r="0.9" fill="#9a9a9a"/>
<circle cx="465.4" cy="95.5" r="0.9" fill="#9a9a9a"/>
<circle cx="475.0" cy="222.7" r="0.9" fill="#9a9a9a"/>
<circle cx="616.2" cy="205.5" r="0.9" fill="#9a9a9a"/>
<circle cx="458.3" cy="212.0" r="0.9" fill="#9a9a9a"/>
<circle cx="538.4" cy="246.4" r="0.9" fill="#9a9a9a"/>
<circle cx="517.5" cy="263.9" r="0.9" fill="#9a9a9a"/>
<circle cx="491.1" cy="136.4" r="0.9" fill="#9a9a9a"/>
<circle cx="514.3" cy="266.2" r="0.9" fill="#9a9a9a"/>
<circle cx="560.2" cy="178.8" r="0.9" fill="#9a9a9a"/>
<circle cx="509.4" cy="210.3" r="0.9" fill="#9a9a9a"/>
<line x1="459.1" y1="95.0" x2="555.6" y2="111.0" stroke="#4a4d52" stroke-width="1.9"/>
<path d="M560.0,111.7L555.2,113.4L556.0,108.6Z" fill="#4a4d52"/>
<line x1="440.0" y1="227.9" x2="494.0" y2="91.9" stroke="#55585d" stroke-width="2.0"/>
<path d="M495.6,87.7L496.2,92.8L491.7,91.0Z" fill="#55585d"/>
<line x1="497.0" y1="84.3" x2="600.3" y2="220.7" stroke="#55585d" stroke-width="3.4"/>
<path d="M603.0,224.3L598.4,222.2L602.2,219.3Z" fill="#55585d"/>
<line x1="569.5" y1="135.8" x2="503.7" y2="89.0" stroke="#55585d" stroke-width="2.0"/>
<path d="M500.0,86.4L505.1,87.1L502.3,91.0Z" fill="#55585d"/>
<line x1="465.6" y1="112" x2="575.7" y2="229.1" stroke="#55585d" stroke-width="2.4"/>
<line x1="575.7" y1="229.1" x2="546.9" y2="140.5" stroke="#55585d" stroke-width="2.0"/>
<path d="M545.5,136.2L549.2,139.8L544.6,141.3Z" fill="#55585d"/>
<line x1="505.8" y1="221.9" x2="552.5" y2="151.5" stroke="#55585d" stroke-width="2.2"/>
<path d="M555.0,147.7L554.5,152.8L550.5,150.2Z" fill="#55585d"/>
<line x1="601.1" y1="123.3" x2="505.8" y2="221.9" stroke="#55585d" stroke-width="2.2"/>
<line x1="593.7" y1="192.0" x2="429.3" y2="161.4" stroke="#55585d" stroke-width="2.0"/>
<path d="M424.8,160.6L429.7,159.0L428.8,163.7Z" fill="#55585d"/>
<line x1="420.8" y1="159.8" x2="557.5" y2="144" stroke="#55585d" stroke-width="2.0"/>
<line x1="505.8" y1="221.9" x2="593.7" y2="192" stroke="#55585d" stroke-width="1.8"/>
<line x1="601.1" y1="123.3" x2="580.4" y2="116.9" stroke="#4a4d52" stroke-width="2.0"/>
<path d="M576.1,115.6L581.1,114.6L579.7,119.2Z" fill="#4a4d52"/>
<line x1="443.1" y1="247.1" x2="458.9" y2="260.1" stroke="#4a4d52" stroke-width="1.8"/>
<path d="M462.4,262.9L457.4,261.9L460.5,258.2Z" fill="#4a4d52"/>
<line x1="535.8" y1="265.0" x2="569.4" y2="234.8" stroke="#55585d" stroke-width="1.8"/>
<path d="M572.7,231.8L571.0,236.6L567.8,233.0Z" fill="#55585d"/>
<line x1="575.7" y1="229.1" x2="596.7" y2="228.3" stroke="#55585d" stroke-width="1.5"/>
<path d="M601.2,228.1L596.8,230.7L596.6,225.9Z" fill="#55585d"/>
<line x1="443.1" y1="247.1" x2="505.8" y2="221.9" stroke="#6a6d72" stroke-width="1.2"/>
<line x1="420.8" y1="159.8" x2="459.1" y2="95" stroke="#8a8a8a" stroke-width="0.9"/>
<line x1="419.5" y1="132.2" x2="420.8" y2="159.8" stroke="#bbbbbb" stroke-width="0.7"/>
<line x1="440" y1="227.9" x2="575.7" y2="229.1" stroke="#c4c4c4" stroke-width="0.8"/>
<circle cx="459.1" cy="95" r="9.3" fill="#fff" fill-opacity="0.6" stroke="#6cb56c" stroke-width="1.1"/>
<circle cx="459.1" cy="95" r="6.8" fill="#7dba7d"/>
<text x="459.10" y="97.92" font-size="8.6" text-anchor="middle" fill="#1a1a1a" >85</text>
<circle cx="473.3" cy="89.7" r="3.6" fill="#b7b7b9"/>
<circle cx="497" cy="84.3" r="3.2" fill="#b7b7b9"/>
<ellipse cx="557.5" cy="89.2" rx="5.0" ry="4.2" fill="#fff" stroke="#1a1a1a" stroke-width="1.1"/>
<path d="M553.9,88.30000000000001 Q557.5,85.0 561.1,88.30000000000001 Q557.5,89.5 553.9,88.30000000000001 Z" fill="#efe67a"/>
<text x="563.50" y="86.50" font-size="7.0" text-anchor="start" fill="#1a1a1a" >72</text>
<circle cx="564.5" cy="95" r="3.2" fill="#b7b7b9"/>
<circle cx="465.6" cy="112" r="7.2" fill="#fff" fill-opacity="0.6" stroke="#8cbce6" stroke-width="1.1"/>
<circle cx="465.6" cy="112" r="5.0" fill="#8cbce6"/>
<text x="465.60" y="114.79" font-size="8.2" text-anchor="middle" fill="#1a1a1a" >7</text>
<circle cx="454.5" cy="113.6" r="4.0" fill="#b7b7b9"/>
<circle cx="419.5" cy="132.2" r="6.2" fill="#b4b4b6"/>
<text x="419.50" y="135.00" font-size="8.2" text-anchor="middle" fill="#1a1a1a" >78</text>
<circle cx="568.2" cy="113.1" r="11" fill="#fff" fill-opacity="0.6" stroke="#eab5d6" stroke-width="1.1"/>
<circle cx="568.2" cy="113.1" r="7.8" fill="#efc3de"/>
<text x="568.20" y="116.36" font-size="9.6" text-anchor="middle" fill="#1a1a1a" >67</text>
<circle cx="601.1" cy="123.3" r="8.0" fill="#fff" fill-opacity="0.6" stroke="#b06fb3" stroke-width="1.1"/>
<circle cx="601.1" cy="123.3" r="5.6" fill="#b77fba"/>
<text x="601.10" y="125.75" font-size="7.2" text-anchor="middle" fill="#1a1a1a" >90</text>
<circle cx="508.1" cy="101.9" r="2.8" fill="#b7b7b9"/>
<circle cx="544.4" cy="132.9" r="3.0" fill="#b7b7b9"/>
<circle cx="569.5" cy="135.8" r="3.4" fill="#b7b7b9"/>
<circle cx="557.5" cy="144" r="4.0" fill="#b7b7b9"/>
<circle cx="455.2" cy="144.7" r="2.5" fill="#b7b7b9"/>
<circle cx="495.8" cy="151.2" r="3.6" fill="#b7b7b9"/>
<circle cx="483.6" cy="156" r="3.0" fill="#b7b7b9"/>
<circle cx="420.8" cy="159.8" r="3.6" fill="#b7b7b9"/>
<circle cx="525.3" cy="164.7" r="4.5" fill="#b7b7b9"/>
<circle cx="569.2" cy="170.9" r="3.0" fill="#b7b7b9"/>
<circle cx="614.9" cy="173.2" r="3.6" fill="#b7b7b9"/>
<circle cx="616.5" cy="181.8" r="3.6" fill="#b7b7b9"/>
<circle cx="515.2" cy="183.5" r="4.5" fill="#b7b7b9"/>
<circle cx="412.8" cy="183.8" r="4.2" fill="#b4b4b6"/>
<text x="412.80" y="186.60" font-size="8.2" text-anchor="middle" fill="#1a1a1a" >45</text>
<circle cx="403.2" cy="186.8" r="4.5" fill="#b7b7b9"/>
<circle cx="483" cy="185.2" r="2.0" fill="#b7b7b9"/>
<circle cx="412.8" cy="172.8" r="2.2" fill="#b7b7b9"/>
<circle cx="551" cy="196" r="6.0" fill="#b4b4b6"/>
<text x="551.00" y="198.80" font-size="8.2" text-anchor="middle" fill="#1a1a1a" >86</text>
<circle cx="593.7" cy="192" r="3.5" fill="#b7b7b9"/>
<circle cx="436" cy="215.9" r="6.0" fill="#b7b7b9"/>
<circle cx="440" cy="227.9" r="2.5" fill="#b7b7b9"/>
<circle cx="505.8" cy="221.9" r="4.5" fill="#b7b7b9"/>
<circle cx="605.7" cy="211.9" r="4.0" fill="#b7b7b9"/>
<circle cx="575.7" cy="229.1" r="3.5" fill="#b7b7b9"/>
<circle cx="605.7" cy="227.9" r="4.0" fill="#b7b7b9"/>
<circle cx="435.1" cy="241.9" r="3.0" fill="#b7b7b9"/>
<circle cx="443.1" cy="247.1" r="4.0" fill="#b7b7b9"/>
<circle cx="465.9" cy="265.8" r="4.0" fill="#b7b7b9"/>
<circle cx="477.9" cy="259.9" r="3.0" fill="#b7b7b9"/>
<circle cx="483" cy="271.8" r="2.5" fill="#b7b7b9"/>
<circle cx="535.8" cy="265" r="4.5" fill="#b7b7b9"/>
<circle cx="529.8" cy="273.8" r="4.0" fill="#b7b7b9"/>
<circle cx="576.5" cy="257.1" r="3.5" fill="#b7b7b9"/>
<circle cx="571.7" cy="249.9" r="2.0" fill="#b7b7b9"/>
<circle cx="600.9" cy="165.5" r="2.0" fill="#b7b7b9"/>
<text x="468.60" y="302.70" font-size="12" text-anchor="start" fill="#111" >(c) evolution graph</text>
</svg></body></html>
